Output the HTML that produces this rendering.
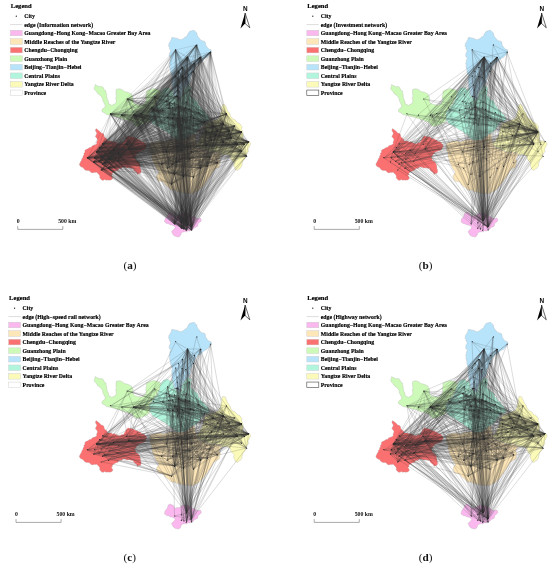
<!DOCTYPE html>
<html><head><meta charset="utf-8"><style>
html,body{margin:0;padding:0;background:#fff;}
svg{display:block;}
.lt{font-family:"Liberation Serif",serif;font-weight:bold;font-size:6.6px;fill:#000;stroke:#000;stroke-width:0.15px;}
.li{font-family:"Liberation Serif",serif;font-weight:bold;font-size:5.8px;fill:#000;stroke:#000;stroke-width:0.15px;}
.na{font-family:"Liberation Sans",sans-serif;font-weight:bold;font-size:6.4px;fill:#000;}
.sb{font-family:"Liberation Serif",serif;font-weight:bold;font-size:5.8px;fill:#111;}
.lab{font-family:"Liberation Serif",serif;font-size:11.2px;fill:#111;}
</style></head><body>
<svg width="550" height="567" viewBox="0 0 550 567">
<defs><g id="regions"><path d="M466.4,212.0 467.8,212.4 469.1,213.1 470.3,213.9 470.8,215.4 471.8,216.4 473.1,215.5 474.7,215.7 476.2,215.3 477.4,214.4 478.5,213.3 480.0,213.0 482.0,213.3 484.0,213.5 485.6,213.7 486.7,214.9 488.2,215.2 489.3,216.4 490.9,216.7 492.2,217.7 493.6,218.5 495.3,218.6 496.9,218.0 498.0,220.2 497.2,221.6 496.0,222.6 494.7,223.5 494.2,226.2 492.9,226.9 491.4,227.4 490.5,228.6 489.3,229.5 487.7,230.4 486.0,231.1 484.5,230.7 483.1,232.0 481.6,231.6 478.9,232.2 477.7,233.3 477.3,234.9 476.4,236.2 475.1,237.1 472.4,236.5 471.0,235.9 469.9,235.1 469.1,233.8 468.0,231.6 468.9,230.4 470.2,229.5 471.8,227.3 470.4,225.9 468.5,225.1 467.0,225.1 465.8,224.2 464.5,223.7 463.1,223.5 460.9,221.8 461.5,219.1 462.4,217.7 463.6,216.4 464.2,214.8 464.7,213.1Z" fill="#fab8ee" stroke="#aaa" stroke-width="0.3"/>
<path d="M447.3,142.7 448.8,142.0 450.6,142.4 451.9,141.0 453.6,141.0 455.1,141.4 456.6,140.8 458.1,141.2 459.5,142.2 461.0,141.8 462.2,141.0 463.8,141.1 465.0,140.4 466.4,140.0 467.8,139.9 469.3,140.0 470.7,139.6 472.2,140.4 473.6,140.0 475.1,139.5 476.6,139.7 478.0,139.4 479.5,139.7 481.0,140.0 482.2,139.2 483.7,138.9 484.7,137.6 486.0,137.0 486.8,135.7 488.1,134.8 489.8,134.4 490.5,133.0 491.4,134.3 491.1,135.9 491.7,137.2 491.7,138.8 492.5,140.1 492.4,141.6 493.0,143.0 493.4,144.5 493.7,146.0 494.9,146.9 496.0,147.9 497.5,148.3 499.0,149.1 500.7,149.4 502.0,150.5 503.6,150.4 504.9,151.8 506.5,151.6 508.0,152.0 509.5,151.6 511.0,152.5 512.5,152.1 514.0,152.0 515.4,153.0 516.8,153.9 518.5,154.2 517.9,155.6 517.0,156.8 516.0,158.0 515.8,159.5 517.0,160.9 516.8,162.4 516.0,163.9 516.2,165.8 515.2,167.3 513.8,167.9 512.6,168.7 511.2,169.3 510.3,170.6 509.1,171.6 508.6,173.0 508.1,174.5 507.0,175.5 506.5,177.0 505.3,177.9 504.5,179.2 503.7,180.4 503.3,181.9 501.7,182.6 501.3,184.1 500.5,185.3 499.2,186.2 498.5,187.7 497.2,188.6 496.1,189.7 495.1,190.7 493.6,191.2 492.3,191.8 490.8,192.9 489.0,193.5 487.4,193.6 485.8,193.6 484.1,193.1 482.5,193.5 481.0,192.6 479.2,193.0 477.6,192.3 476.0,191.8 474.3,191.8 472.7,190.8 471.2,190.0 469.4,190.2 467.5,189.7 466.0,188.6 465.2,187.3 463.7,186.6 462.8,185.3 461.3,184.6 460.8,182.9 459.5,182.0 457.8,181.6 456.1,181.3 454.6,180.4 453.7,178.7 453.0,177.0 453.5,175.3 454.6,173.8 455.5,172.2 454.2,170.6 453.0,169.0 452.1,167.4 451.4,165.6 450.5,164.0 449.7,162.4 449.0,160.8 448.9,159.0 448.1,157.5 447.9,155.9 448.1,154.2 447.6,152.6 446.9,151.0 446.5,149.3 446.8,147.7 446.4,146.1 446.4,144.5Z" fill="#fde6b8" stroke="#aaa" stroke-width="0.3"/>
<path d="M392.5,128.5 394.0,129.6 395.5,130.7 396.7,131.7 397.6,132.9 399.2,133.3 400.5,134.4 400.8,136.4 402.0,138.0 403.6,139.1 404.2,140.9 406.0,140.9 407.8,140.9 409.1,141.9 410.9,141.4 412.2,142.4 413.6,142.9 415.0,143.5 416.5,143.8 418.2,142.6 420.2,142.4 420.8,140.9 421.9,139.6 422.4,138.0 423.4,136.9 424.5,135.8 426.3,136.4 428.2,136.5 429.8,136.9 431.2,137.7 432.5,138.7 434.1,138.8 435.4,139.7 436.9,140.2 438.1,141.4 439.8,141.8 441.3,142.4 441.8,143.8 442.9,144.7 443.5,146.0 442.5,147.3 442.0,148.9 441.0,150.0 439.7,150.6 438.4,151.1 436.8,151.6 435.3,152.3 434.0,153.3 433.1,154.6 432.5,156.0 431.1,156.9 432.1,158.6 432.5,160.5 434.2,161.3 435.5,162.7 436.4,164.5 436.9,166.4 436.9,168.3 437.6,170.0 437.6,171.9 436.9,173.6 435.3,173.6 434.0,174.4 433.3,172.7 431.8,171.5 430.3,170.3 429.6,168.5 428.1,168.4 426.7,168.0 425.3,167.8 423.7,168.1 422.4,167.4 420.9,167.1 419.3,167.1 418.1,168.5 416.5,168.5 415.2,169.1 414.3,170.4 412.9,170.7 411.4,171.4 410.0,172.2 408.9,173.2 408.8,174.8 407.8,175.8 409.1,177.0 409.3,178.7 407.6,179.9 405.6,180.2 404.2,179.9 402.6,180.3 401.3,179.5 400.0,180.3 398.4,180.2 397.3,179.1 396.2,178.0 396.3,176.1 395.5,174.4 394.3,173.4 393.3,172.2 391.9,172.6 390.3,172.5 388.9,172.9 387.2,172.2 386.0,170.7 384.5,170.4 383.0,170.6 381.6,170.0 380.5,168.9 379.5,167.6 378.0,167.1 376.5,166.0 375.8,164.2 376.6,162.8 377.3,161.3 378.1,160.1 378.4,158.6 379.5,157.6 379.5,156.1 380.6,154.8 380.2,153.3 381.4,152.4 381.3,150.6 382.4,149.6 384.3,148.8 386.0,147.5 387.7,147.3 388.8,145.8 390.4,145.3 391.9,144.7 393.3,143.8 393.0,142.3 393.6,140.9 394.0,139.5 393.1,137.9 391.8,136.5 392.6,135.1 393.3,133.6 392.8,132.0 391.8,130.7Z" fill="#fb7070" stroke="#aaa" stroke-width="0.3"/>
<path d="M391.6,84.5 392.8,85.3 394.1,85.8 395.3,86.6 397.1,86.7 398.9,86.6 400.0,87.9 400.4,89.5 402.5,91.0 402.5,92.9 403.3,94.6 403.1,96.4 403.6,98.0 404.0,99.7 404.9,101.0 405.0,102.6 405.5,104.1 407.0,104.6 408.4,105.5 409.7,104.5 411.3,104.1 412.3,102.8 412.8,101.3 412.7,99.7 412.1,98.0 413.0,96.3 412.7,94.7 412.5,93.0 412.5,91.2 412.7,89.5 414.9,88.8 416.7,88.9 418.5,89.5 419.9,90.8 421.5,91.7 423.3,92.0 425.1,92.5 426.5,93.4 428.0,93.9 428.3,95.4 429.4,96.7 429.5,98.3 429.4,99.8 429.4,101.3 430.2,102.6 431.4,103.8 433.0,104.2 434.5,104.8 436.5,104.6 438.2,105.5 439.4,104.3 441.1,104.1 441.4,102.5 442.5,101.2 443.0,99.8 442.3,98.3 442.3,96.9 442.5,95.4 443.2,94.0 442.8,92.4 443.3,91.0 445.1,90.3 446.9,89.5 448.4,89.2 449.8,88.5 451.3,88.8 453.1,89.2 454.9,89.5 456.1,90.8 457.7,91.4 457.6,93.0 457.1,94.4 456.4,95.7 456.4,97.3 455.5,98.6 455.0,100.0 453.8,101.1 453.2,102.6 452.5,104.0 451.3,105.1 451.2,106.9 450.0,108.0 448.9,109.2 448.1,110.6 446.9,111.7 446.0,113.0 446.5,114.5 445.8,116.1 446.7,117.6 446.3,119.2 445.9,120.7 444.5,121.5 444.0,123.0 442.0,123.3 440.4,124.5 439.0,124.9 437.5,125.2 436.0,126.0 434.5,126.6 432.9,126.2 431.6,125.2 430.2,124.2 429.3,122.6 428.0,121.5 426.4,121.4 424.9,121.0 423.6,120.1 422.1,119.8 420.6,119.7 419.3,118.8 417.8,118.6 416.5,117.8 415.0,117.4 413.5,117.2 412.0,116.7 410.5,116.4 409.1,115.7 407.3,115.4 405.5,115.0 403.4,114.8 401.8,113.5 400.5,112.6 398.9,112.1 398.2,109.9 399.5,108.6 401.1,107.7 401.8,105.5 400.9,104.1 400.4,102.6 399.4,101.3 399.3,99.8 398.9,98.3 397.9,96.8 396.7,95.4 395.2,94.4 393.8,93.2 393.2,91.7 392.0,90.6 390.9,89.5 390.8,87.8 391.4,86.2Z" fill="#cdfab8" stroke="#aaa" stroke-width="0.3"/>
<path d="M487.4,31.0 489.0,30.6 490.7,30.3 492.0,31.7 493.4,33.0 493.6,35.1 494.7,36.9 495.6,38.0 496.5,39.1 497.4,40.2 499.3,40.9 501.3,41.5 502.0,43.1 502.0,44.9 502.9,46.0 503.6,47.2 504.6,48.2 505.5,49.3 507.2,49.5 508.0,50.8 507.3,53.5 505.3,55.4 504.3,56.5 503.4,57.6 502.0,58.1 500.7,58.7 499.7,59.7 498.7,60.7 497.3,62.2 495.4,62.7 494.0,63.5 493.5,65.0 492.3,66.1 491.9,67.6 491.4,69.0 490.3,70.5 489.9,72.3 488.6,73.6 488.5,75.3 487.4,76.7 486.8,78.2 487.0,80.1 486.6,81.9 485.9,83.6 484.9,85.0 483.9,86.5 482.3,87.3 481.4,88.8 480.5,90.3 479.5,91.8 478.7,93.3 478.6,95.0 478.0,96.6 477.7,98.2 476.8,99.4 475.9,100.5 474.7,99.2 473.2,98.2 471.8,96.9 470.5,95.5 469.9,94.1 470.3,92.4 469.9,90.9 469.4,89.4 468.6,88.0 468.8,86.2 468.4,84.5 468.6,82.7 468.3,81.3 468.3,79.8 468.1,78.4 468.9,76.9 468.6,75.5 467.6,73.7 466.8,71.8 467.0,69.8 466.3,68.0 465.9,66.5 466.4,64.9 465.6,63.4 466.4,61.8 466.3,60.0 467.6,58.1 466.1,57.1 465.6,55.4 466.0,53.3 467.0,51.5 467.0,50.0 466.0,48.9 466.0,47.3 465.0,46.2 465.3,44.8 465.4,43.4 466.3,42.2 467.1,40.7 467.9,39.3 468.2,37.6 470.2,37.6 472.2,38.2 473.7,38.2 474.9,38.9 476.2,39.6 477.7,39.7 479.0,39.0 480.2,38.2 481.6,36.9 483.5,36.3 484.0,34.5 485.0,33.0 485.9,31.6Z" fill="#b8e4fb" stroke="#aaa" stroke-width="0.3"/>
<path d="M457.7,91.4 458.5,90.2 459.5,89.2 460.2,88.0 462.3,87.8 464.3,87.3 465.9,88.4 466.8,90.0 468.6,88.0 469.5,89.4 469.5,91.0 470.0,92.4 469.8,94.1 470.5,95.5 471.7,97.0 473.2,98.2 474.5,99.4 475.9,100.5 476.9,99.4 477.7,98.2 478.3,96.7 478.2,94.9 479.0,93.4 479.5,91.8 480.1,90.1 481.8,89.1 482.3,87.3 483.4,86.0 485.0,85.5 486.1,86.7 487.7,87.3 488.1,88.8 487.3,90.3 487.6,91.8 487.5,93.3 486.9,94.8 487.2,96.3 488.8,96.8 490.1,97.8 490.8,99.6 492.4,100.2 493.7,101.2 494.8,102.3 494.5,104.1 495.2,105.3 496.8,106.2 497.0,107.7 498.3,108.9 499.8,109.8 500.8,111.2 501.9,112.6 502.8,113.9 504.3,114.8 504.8,116.4 506.0,117.5 506.1,119.3 505.2,120.8 503.7,121.7 501.8,121.6 500.3,122.5 499.6,123.8 498.7,125.0 497.7,126.1 497.0,127.4 495.9,128.8 494.9,130.2 493.7,131.5 492.3,132.8 490.5,133.0 489.2,133.8 487.9,134.6 486.7,135.6 486.0,137.0 484.6,137.6 483.6,138.6 482.3,139.4 481.0,140.0 479.5,139.8 478.0,139.8 476.6,140.5 475.1,140.3 473.6,140.0 472.0,139.2 470.7,138.1 469.2,137.2 468.4,135.8 467.0,135.0 465.9,133.9 464.4,133.5 463.7,131.9 462.2,131.5 461.0,130.6 459.8,129.8 458.3,129.3 457.2,128.3 456.0,127.4 454.6,126.8 453.6,125.8 451.9,125.8 450.8,124.6 449.5,124.0 448.4,123.0 448.1,121.5 446.6,120.7 446.3,119.2 446.0,117.7 446.0,116.1 446.2,114.5 446.0,113.0 446.6,111.4 448.0,110.5 448.7,109.0 450.0,108.0 450.6,106.5 451.6,105.3 453.0,104.3 453.3,102.7 454.6,101.6 455.0,100.0 455.1,98.4 456.4,97.3 456.2,95.7 456.4,94.2 457.5,92.9Z" fill="#b2f5dd" stroke="#aaa" stroke-width="0.3"/>
<path d="M518.9,104.4 520.5,104.5 522.0,105.1 522.4,106.8 523.3,108.3 523.7,109.7 524.2,111.0 525.2,112.1 526.2,113.4 526.8,114.9 527.1,116.5 528.4,117.5 529.0,119.0 530.7,119.3 532.2,120.3 532.9,121.8 534.1,122.9 535.6,123.1 536.7,124.1 537.6,125.4 538.6,126.7 537.9,129.2 538.9,130.3 539.2,131.8 539.7,133.7 539.8,135.6 539.6,137.5 539.2,139.4 540.3,140.4 541.7,140.7 543.3,141.1 544.9,141.3 546.8,142.6 547.1,144.3 546.2,145.7 545.5,147.4 544.3,148.9 545.0,150.4 544.9,152.1 543.6,153.1 543.0,154.6 542.3,156.1 542.4,157.8 540.5,159.7 539.5,160.8 539.2,162.3 538.5,164.1 538.6,166.1 537.4,167.2 536.7,168.6 535.1,169.1 534.1,170.5 531.6,169.3 531.3,167.6 530.3,166.1 530.3,164.4 530.9,162.9 529.0,161.0 527.1,159.1 527.2,157.4 526.5,155.9 524.9,155.3 523.3,154.6 521.6,154.5 520.0,155.0 518.5,154.2 517.0,153.4 515.5,152.8 514.0,152.0 512.5,152.2 511.0,152.1 509.5,152.2 508.0,152.0 506.4,152.1 505.1,150.9 503.6,150.5 502.0,150.5 500.8,149.2 499.1,148.8 497.5,148.3 496.3,147.5 495.1,146.5 493.7,146.0 492.9,144.6 493.0,143.0 494.2,142.2 495.0,141.0 496.0,140.0 496.5,138.3 497.4,136.8 498.5,135.5 499.0,133.7 499.5,131.8 499.8,129.2 500.2,127.2 501.1,125.4 502.3,124.1 503.6,122.9 505.5,122.4 507.4,121.6 509.3,120.8 511.2,120.3 513.0,119.2 515.0,119.0 515.7,117.7 516.1,116.3 517.0,115.2 517.1,113.5 517.4,111.8 518.2,110.2 518.2,108.7 518.0,107.2 518.9,105.9Z" fill="#fbfab8" stroke="#aaa" stroke-width="0.3"/></g></defs>
<rect width="550" height="567" fill="#fff"/>
<g transform="translate(0.0,0)"><text x="10.8" y="8.3" class="lt">Legend</text>
<circle cx="16.3" cy="16.2" r="0.6" fill="#000"/>
<text x="24.3" y="18.2" class="li">City</text>
<line x1="10.2" y1="24.6" x2="22.3" y2="24.6" stroke="#bbb" stroke-width="0.5"/>
<text x="24.3" y="26.6" class="li">edge (Information network)</text>
<rect x="10.3" y="30.20" width="12" height="5.6" fill="#fab8ee" stroke="#c8c8c8" stroke-width="0.4"/>
<text x="24.3" y="34.9" class="li">Guangdong−Hong Kong−Macao Greater Bay Area</text>
<rect x="10.3" y="38.75" width="12" height="5.6" fill="#fde6b8" stroke="#c8c8c8" stroke-width="0.4"/>
<text x="24.3" y="43.5" class="li">Middle Reaches of the Yangtze River</text>
<rect x="10.3" y="47.30" width="12" height="5.6" fill="#fb7070" stroke="#c8c8c8" stroke-width="0.4"/>
<text x="24.3" y="52.0" class="li">Chengdu−Chongqing</text>
<rect x="10.3" y="55.85" width="12" height="5.6" fill="#cdfab8" stroke="#c8c8c8" stroke-width="0.4"/>
<text x="24.3" y="60.6" class="li">Guanzhong Plain</text>
<rect x="10.3" y="64.40" width="12" height="5.6" fill="#b8e4fb" stroke="#c8c8c8" stroke-width="0.4"/>
<text x="24.3" y="69.1" class="li">Beijing−Tianjin−Hebei</text>
<rect x="10.3" y="72.95" width="12" height="5.6" fill="#b2f5dd" stroke="#c8c8c8" stroke-width="0.4"/>
<text x="24.3" y="77.7" class="li">Central Plains</text>
<rect x="10.3" y="81.50" width="12" height="5.6" fill="#fbfab8" stroke="#c8c8c8" stroke-width="0.4"/>
<text x="24.3" y="86.2" class="li">Yangtze River Delta</text>
<rect x="10.3" y="90.05" width="12" height="5.6" fill="#ffffff" stroke="#c8c8c8" stroke-width="0.4"/>
<text x="24.3" y="94.8" class="li">Province</text>
<g transform="translate(0,0)">
<text x="243" y="11.1" class="na">N</text>
<path d="M245.1,13 L240.5,28.4 L245.1,23.5 Z" fill="#000"/>
<path d="M245.1,13 L249.8,27.8 L245.1,23.5 Z" fill="none" stroke="#000" stroke-width="0.6"/>
</g>
<g transform="translate(0,0)">
<text x="16.7" y="222.5" class="sb">0</text>
<text x="58.2" y="222.5" class="sb">500 km</text>
<path d="M17.7,226.1 V229.4 H62.8 V226.1" fill="none" stroke="#555" stroke-width="0.5"/>
</g></g>
<g transform="translate(-296.5,0)">
<use href="#regions"/>
<g fill="none" stroke="#333" stroke-width="0.35" stroke-opacity="0.36">
<path d="M396 148L398 170"/><path d="M507 52L464 118"/><path d="M474 90L503 145"/><path d="M458 164L526 131"/><path d="M473 162L545 142"/><path d="M503 132L488 230"/><path d="M507 52L469 164"/><path d="M471 224L483 230"/><path d="M393 152L415 153"/><path d="M451 97L474 96"/><path d="M490 71L486 159"/><path d="M451 97L510 126"/><path d="M497 57L491 63"/><path d="M497 168L483 230"/><path d="M423 144L407 114"/><path d="M396 148L514 163"/><path d="M474 118L484 225"/><path d="M384 158L398 157"/><path d="M484 57L482 108"/><path d="M474 118L483 221"/><path d="M468 184L486 159"/><path d="M393 152L484 57"/><path d="M451 97L545 142"/><path d="M534 144L543 156"/><path d="M464 168L520 142"/><path d="M418 115L538 132"/><path d="M475 71L520 142"/><path d="M464 168L510 126"/><path d="M472 50L474 85"/><path d="M472 50L469 164"/><path d="M484 57L484 147"/><path d="M393 152L464 95"/><path d="M479 76L490 71"/><path d="M479 76L488 227"/><path d="M526 131L503 132"/><path d="M399 144L534 144"/><path d="M488 152L506 157"/><path d="M473 162L520 124"/><path d="M474 118L538 132"/><path d="M393 152L514 131"/><path d="M384 158L528 138"/><path d="M406 153L401 163"/><path d="M531 126L526 131"/><path d="M396 148L484 57"/><path d="M497 57L490 118"/><path d="M531 126L471 224"/><path d="M475 107L480 176"/><path d="M410 150L473 96"/><path d="M424 99L545 142"/><path d="M497 168L528 138"/><path d="M425 149L531 126"/><path d="M538 132L512 136"/><path d="M432 116L508 140"/><path d="M432 116L488 227"/><path d="M414 161L543 156"/><path d="M405 168L512 136"/><path d="M514 163L543 156"/><path d="M482 108L469 118"/><path d="M448 108L480 229"/><path d="M473 96L503 132"/><path d="M463 152L510 126"/><path d="M473 96L523 114"/><path d="M415 153L390 162"/><path d="M384 158L459 110"/><path d="M520 142L480 229"/><path d="M401 163L538 132"/><path d="M448 108L538 132"/><path d="M401 163L430 115"/><path d="M425 149L508 140"/><path d="M390 162L507 52"/><path d="M384 158L484 57"/><path d="M482 77L463 101"/><path d="M482 77L488 230"/><path d="M407 114L471 103"/><path d="M450 110L484 225"/><path d="M399 144L414 161"/><path d="M406 159L545 142"/><path d="M508 140L520 142"/><path d="M473 162L528 138"/><path d="M398 157L466 104"/><path d="M507 52L478 228"/><path d="M390 162L475 71"/><path d="M396 161L424 99"/><path d="M450 110L478 223"/><path d="M471 174L488 227"/><path d="M391 158L501 122"/><path d="M396 148L484 147"/><path d="M497 57L520 142"/><path d="M406 159L483 221"/><path d="M406 153L415 153"/><path d="M406 159L480 229"/><path d="M414 161L425 149"/><path d="M490 71L508 140"/><path d="M490 71L510 126"/><path d="M483 102L488 152"/><path d="M399 164L479 118"/><path d="M396 161L471 103"/><path d="M430 115L437 114"/><path d="M497 168L510 126"/><path d="M410 150L474 96"/><path d="M458 164L543 156"/><path d="M393 152L534 144"/><path d="M479 118L508 140"/><path d="M448 108L469 108"/><path d="M458 164L534 144"/><path d="M471 174L483 221"/><path d="M510 126L471 224"/><path d="M423 144L469 164"/><path d="M506 157L520 124"/><path d="M391 158L488 152"/><path d="M405 168L474 96"/><path d="M503 145L484 225"/><path d="M534 144L471 224"/><path d="M418 115L463 152"/><path d="M545 142L488 230"/><path d="M472 50L514 131"/><path d="M393 152L480 229"/><path d="M464 95L531 126"/><path d="M399 144L501 122"/><path d="M390 162L538 132"/><path d="M406 159L483 230"/><path d="M473 96L510 126"/><path d="M425 149L497 168"/><path d="M486 90L480 176"/><path d="M464 95L488 227"/><path d="M401 163L478 223"/><path d="M507 52L526 131"/><path d="M406 153L396 161"/><path d="M528 138L545 142"/><path d="M437 114L497 168"/><path d="M482 77L464 95"/><path d="M406 159L482 108"/><path d="M410 150L484 225"/><path d="M432 116L465 108"/><path d="M493 45L475 107"/><path d="M437 114L543 156"/><path d="M495 113L545 142"/><path d="M418 115L475 107"/><path d="M396 161L405 168"/><path d="M423 144L475 107"/><path d="M401 163L475 107"/><path d="M473 96L478 150"/><path d="M471 174L468 184"/><path d="M464 168L512 136"/><path d="M393 152L463 101"/><path d="M451 97L482 77"/><path d="M478 150L488 227"/><path d="M448 108L545 142"/><path d="M484 147L541 144"/><path d="M503 132L520 142"/><path d="M469 108L483 230"/><path d="M480 176L478 228"/><path d="M393 152L418 115"/><path d="M396 148L483 221"/><path d="M405 168L398 170"/><path d="M415 153L424 99"/><path d="M507 52L503 145"/><path d="M520 142L471 224"/><path d="M464 168L469 164"/><path d="M406 153L472 76"/><path d="M479 76L468 184"/><path d="M490 118L526 131"/><path d="M510 126L528 138"/><path d="M396 161L414 161"/><path d="M425 149L488 230"/><path d="M396 161L450 110"/><path d="M473 96L526 131"/><path d="M450 110L538 151"/><path d="M526 131L512 136"/><path d="M398 157L463 152"/><path d="M424 99L464 95"/><path d="M531 126L488 227"/><path d="M471 114L510 126"/><path d="M497 57L497 168"/><path d="M468 184L541 144"/><path d="M486 159L474 146"/><path d="M401 163L501 122"/><path d="M425 149L487 117"/><path d="M473 96L490 71"/><path d="M384 158L405 168"/><path d="M398 170L430 115"/><path d="M384 158L488 227"/><path d="M471 103L474 124"/><path d="M520 124L528 138"/><path d="M523 114L503 132"/><path d="M510 126L488 227"/><path d="M497 168L508 140"/><path d="M464 168L483 221"/><path d="M503 132L478 228"/><path d="M432 116L437 114"/><path d="M531 126L503 145"/><path d="M497 168L514 131"/><path d="M486 109L520 124"/><path d="M479 118L473 162"/><path d="M398 157L437 114"/><path d="M506 157L538 132"/><path d="M423 144L479 67"/><path d="M391 158L478 125"/><path d="M396 161L479 67"/><path d="M398 157L480 229"/><path d="M471 114L478 125"/><path d="M491 63L508 140"/><path d="M407 114L475 107"/><path d="M430 115L514 163"/><path d="M514 131L483 230"/><path d="M468 184L510 126"/><path d="M507 52L508 140"/><path d="M474 118L464 118"/><path d="M471 174L506 157"/><path d="M410 150L448 108"/><path d="M538 132L543 156"/><path d="M523 114L508 140"/><path d="M479 67L475 107"/><path d="M398 170L451 97"/><path d="M491 63L474 96"/><path d="M538 132L471 224"/><path d="M450 110L488 230"/><path d="M474 118L520 124"/><path d="M425 149L483 221"/><path d="M424 99L490 177"/><path d="M401 163L432 116"/><path d="M531 126L483 221"/><path d="M493 45L503 145"/><path d="M393 152L401 163"/><path d="M497 57L512 136"/><path d="M396 161L473 96"/><path d="M465 108L478 125"/><path d="M424 99L520 142"/><path d="M406 159L465 108"/><path d="M490 71L528 138"/><path d="M487 117L471 174"/><path d="M437 114L484 57"/><path d="M430 115L478 150"/><path d="M482 77L490 71"/><path d="M528 138L483 221"/><path d="M484 147L478 223"/><path d="M503 145L483 230"/><path d="M410 150L474 146"/><path d="M451 97L484 57"/><path d="M393 152L486 90"/><path d="M424 99L514 131"/><path d="M430 115L486 159"/><path d="M479 76L520 142"/><path d="M398 170L497 57"/><path d="M391 158L479 76"/><path d="M396 148L463 152"/><path d="M451 97L528 138"/><path d="M415 153L493 45"/><path d="M531 126L483 230"/><path d="M538 151L483 230"/><path d="M506 157L534 144"/><path d="M425 149L503 132"/><path d="M497 168L543 156"/><path d="M474 124L538 132"/><path d="M430 115L472 50"/><path d="M399 144L493 45"/><path d="M396 148L406 159"/><path d="M478 150L503 145"/><path d="M506 157L478 228"/><path d="M482 108L471 114"/><path d="M398 157L398 170"/><path d="M468 184L474 146"/><path d="M541 144L478 228"/><path d="M401 163L484 147"/><path d="M479 67L510 126"/><path d="M415 153L531 126"/><path d="M503 145L545 142"/><path d="M430 115L545 142"/><path d="M474 96L534 144"/><path d="M414 161L478 228"/><path d="M475 107L503 132"/><path d="M399 144L425 149"/><path d="M398 157L406 153"/><path d="M424 99L448 108"/><path d="M410 150L406 159"/><path d="M486 159L538 132"/><path d="M423 144L464 95"/><path d="M396 161L510 126"/><path d="M393 152L478 228"/><path d="M508 140L471 224"/><path d="M488 227L488 230"/><path d="M479 118L488 227"/><path d="M474 90L473 162"/><path d="M479 76L510 126"/><path d="M472 50L471 174"/><path d="M486 159L531 126"/><path d="M486 109L488 227"/><path d="M398 170L425 149"/><path d="M484 147L471 224"/><path d="M393 152L471 114"/><path d="M490 71L520 142"/><path d="M474 85L503 145"/><path d="M464 168L526 131"/><path d="M384 158L437 114"/><path d="M437 114L474 124"/><path d="M478 150L514 163"/><path d="M398 170L538 132"/><path d="M512 136L543 156"/><path d="M390 162L471 174"/><path d="M491 63L479 67"/><path d="M415 153L541 144"/><path d="M399 144L512 136"/><path d="M474 85L479 118"/><path d="M463 101L520 124"/><path d="M410 150L415 153"/><path d="M396 161L475 71"/><path d="M464 95L480 176"/><path d="M493 45L504 166"/><path d="M463 152L538 132"/><path d="M469 118L484 147"/><path d="M490 177L483 221"/><path d="M493 45L512 136"/><path d="M405 168L448 108"/><path d="M490 177L471 224"/><path d="M471 103L474 118"/><path d="M391 158L538 151"/><path d="M482 77L480 229"/><path d="M393 152L503 145"/><path d="M425 149L538 132"/><path d="M406 153L493 45"/><path d="M399 164L484 225"/><path d="M468 184L526 131"/><path d="M479 76L486 109"/><path d="M432 116L473 162"/><path d="M407 114L484 225"/><path d="M425 149L480 229"/><path d="M424 99L538 132"/><path d="M398 157L475 71"/><path d="M464 168L506 157"/><path d="M398 157L508 140"/><path d="M437 114L471 174"/><path d="M463 152L545 142"/><path d="M458 164L504 166"/><path d="M430 115L497 57"/><path d="M475 71L512 136"/><path d="M538 132L541 144"/><path d="M458 164L483 221"/><path d="M437 114L491 63"/><path d="M484 57L463 152"/><path d="M510 126L483 221"/><path d="M484 57L488 152"/><path d="M414 161L504 166"/><path d="M396 148L425 149"/><path d="M437 114L464 95"/><path d="M512 136L478 223"/><path d="M423 144L473 162"/><path d="M393 152L493 45"/><path d="M393 152L538 132"/><path d="M474 118L484 147"/><path d="M472 50L475 107"/><path d="M474 90L526 131"/><path d="M510 126L541 144"/><path d="M487 117L526 131"/><path d="M458 164L514 163"/><path d="M474 96L506 157"/><path d="M483 230L488 227"/><path d="M491 63L478 150"/><path d="M401 163L398 170"/><path d="M474 96L480 176"/><path d="M469 108L538 132"/><path d="M487 117L510 126"/><path d="M398 170L514 131"/><path d="M478 125L471 224"/><path d="M405 168L474 90"/><path d="M425 149L490 177"/><path d="M405 168L503 145"/><path d="M469 164L488 152"/><path d="M472 76L510 126"/><path d="M472 76L488 152"/><path d="M466 104L480 176"/><path d="M479 67L473 96"/><path d="M451 97L507 52"/><path d="M501 122L474 146"/><path d="M479 67L523 114"/><path d="M451 97L488 152"/><path d="M401 163L488 230"/><path d="M398 170L488 227"/><path d="M508 140L488 227"/><path d="M430 115L474 85"/><path d="M398 157L488 230"/><path d="M520 124L488 230"/><path d="M406 153L514 131"/><path d="M463 152L506 157"/><path d="M414 161L541 144"/><path d="M384 158L474 124"/><path d="M473 162L523 114"/><path d="M486 159L512 136"/><path d="M393 152L475 107"/><path d="M541 144L488 227"/><path d="M406 153L478 228"/><path d="M432 116L545 142"/><path d="M503 145L480 229"/><path d="M528 138L483 230"/><path d="M396 148L478 150"/><path d="M526 131L543 156"/><path d="M497 57L480 229"/><path d="M406 153L418 115"/><path d="M483 102L483 221"/><path d="M474 85L508 140"/><path d="M414 161L424 99"/><path d="M430 115L472 76"/><path d="M484 147L490 177"/><path d="M450 110L479 67"/><path d="M398 157L415 153"/><path d="M406 153L448 108"/><path d="M396 161L471 224"/><path d="M497 57L471 224"/><path d="M393 152L468 184"/><path d="M486 109L545 142"/><path d="M430 115L469 118"/><path d="M398 157L484 225"/><path d="M415 153L396 161"/><path d="M475 71L480 229"/><path d="M531 126L508 140"/><path d="M450 110L523 114"/><path d="M401 163L538 151"/><path d="M410 150L510 126"/><path d="M425 149L478 150"/><path d="M450 110L471 174"/><path d="M398 170L464 118"/><path d="M424 99L488 230"/><path d="M491 63L483 221"/><path d="M425 149L514 131"/><path d="M451 97L531 126"/><path d="M474 85L512 136"/><path d="M448 108L486 159"/><path d="M406 159L479 67"/><path d="M401 163L473 162"/><path d="M425 149L510 126"/><path d="M501 122L541 144"/><path d="M424 99L473 96"/><path d="M391 158L484 147"/><path d="M503 145L528 138"/><path d="M393 152L478 223"/><path d="M501 122L514 131"/><path d="M398 157L425 149"/><path d="M503 145L471 224"/><path d="M399 164L448 108"/><path d="M475 107L483 230"/><path d="M463 152L514 163"/><path d="M415 153L474 96"/><path d="M405 168L478 228"/><path d="M486 109L468 184"/><path d="M484 57L483 230"/><path d="M474 146L488 230"/><path d="M396 148L520 124"/><path d="M469 118L545 142"/><path d="M391 158L497 168"/><path d="M425 149L475 71"/><path d="M399 144L474 124"/><path d="M406 153L497 57"/><path d="M490 177L483 230"/><path d="M390 162L464 168"/><path d="M448 108L497 57"/><path d="M507 52L514 163"/><path d="M488 152L486 159"/><path d="M507 52L510 126"/><path d="M384 158L526 131"/><path d="M396 148L478 228"/><path d="M384 158L506 157"/><path d="M483 102L464 118"/><path d="M514 131L528 138"/><path d="M396 161L474 96"/><path d="M418 115L474 146"/><path d="M424 99L451 97"/><path d="M399 164L538 132"/><path d="M458 164L510 126"/><path d="M486 109L534 144"/><path d="M503 145L534 144"/><path d="M425 149L471 224"/><path d="M497 57L528 138"/><path d="M399 164L520 124"/><path d="M490 118L545 142"/><path d="M534 144L483 230"/><path d="M424 99L450 110"/><path d="M418 115L497 168"/><path d="M483 221L480 229"/><path d="M425 149L523 114"/><path d="M474 85L480 229"/><path d="M405 168L488 230"/><path d="M406 159L510 126"/><path d="M523 114L545 142"/><path d="M390 162L469 118"/><path d="M514 131L503 145"/><path d="M458 164L484 225"/><path d="M474 124L538 151"/><path d="M450 110L538 132"/><path d="M407 114L504 166"/><path d="M474 90L512 136"/><path d="M473 96L488 227"/><path d="M399 164L405 168"/><path d="M484 57L490 71"/><path d="M484 147L508 140"/><path d="M424 99L503 145"/><path d="M526 131L538 151"/><path d="M480 176L541 144"/><path d="M398 157L396 161"/><path d="M474 146L480 229"/><path d="M484 57L475 71"/><path d="M393 152L483 221"/><path d="M474 146L534 144"/><path d="M437 114L472 76"/><path d="M482 77L503 145"/><path d="M507 52L488 227"/><path d="M531 126L545 142"/><path d="M480 229L488 227"/><path d="M424 99L407 114"/><path d="M391 158L478 223"/><path d="M396 161L486 90"/><path d="M486 159L483 221"/><path d="M424 99L432 116"/><path d="M396 148L474 118"/><path d="M451 97L450 110"/><path d="M475 107L526 131"/><path d="M479 67L480 229"/><path d="M486 159L488 227"/><path d="M469 108L523 114"/><path d="M425 149L473 96"/><path d="M425 149L484 225"/><path d="M423 144L523 114"/><path d="M396 161L483 221"/><path d="M484 57L482 77"/><path d="M407 114L472 50"/><path d="M507 52L523 114"/><path d="M390 162L474 90"/><path d="M414 161L484 225"/><path d="M507 52L479 67"/><path d="M450 110L472 50"/><path d="M507 52L528 138"/><path d="M474 118L463 152"/><path d="M407 114L488 227"/><path d="M432 116L486 90"/><path d="M398 157L478 228"/><path d="M399 144L478 125"/><path d="M384 158L483 230"/><path d="M399 164L432 116"/><path d="M497 168L534 144"/><path d="M474 90L523 114"/><path d="M451 97L495 113"/><path d="M384 158L414 161"/><path d="M474 124L503 145"/><path d="M495 113L520 124"/><path d="M407 114L484 57"/><path d="M469 108L483 221"/><path d="M406 159L520 124"/><path d="M531 126L484 225"/><path d="M393 152L512 136"/><path d="M415 153L538 132"/><path d="M538 132L483 230"/><path d="M474 85L488 152"/><path d="M514 131L488 227"/><path d="M541 144L538 151"/><path d="M451 97L486 90"/><path d="M432 116L464 168"/><path d="M493 45L520 124"/><path d="M510 126L483 230"/><path d="M432 116L523 114"/><path d="M464 118L488 227"/><path d="M474 124L504 166"/><path d="M430 115L474 118"/><path d="M437 114L508 140"/><path d="M423 144L414 161"/><path d="M473 162L483 221"/><path d="M399 164L430 115"/><path d="M478 150L474 146"/><path d="M450 110L528 138"/><path d="M430 115L507 52"/><path d="M418 115L471 174"/><path d="M464 118L484 225"/><path d="M405 168L520 124"/><path d="M474 118L534 144"/><path d="M396 148L491 63"/><path d="M425 149L504 166"/><path d="M474 85L488 227"/><path d="M425 149L512 136"/><path d="M458 164L520 124"/><path d="M391 158L423 144"/><path d="M526 131L484 225"/><path d="M430 115L543 156"/><path d="M405 168L480 229"/><path d="M478 228L488 230"/><path d="M484 147L514 163"/><path d="M425 149L497 57"/><path d="M425 149L474 85"/><path d="M463 152L538 151"/><path d="M531 126L478 228"/><path d="M484 57L471 224"/><path d="M493 45L520 142"/><path d="M423 144L507 52"/><path d="M491 63L471 224"/><path d="M393 152L504 166"/><path d="M425 149L466 104"/><path d="M538 132L503 132"/><path d="M396 148L488 227"/><path d="M490 177L503 132"/><path d="M512 136L508 140"/><path d="M425 149L478 228"/><path d="M437 114L451 97"/><path d="M474 118L478 125"/><path d="M468 184L534 144"/><path d="M497 168L520 124"/><path d="M432 116L503 145"/><path d="M504 166L520 142"/><path d="M479 67L479 76"/><path d="M396 148L432 116"/><path d="M418 115L491 63"/><path d="M423 144L493 45"/><path d="M474 85L520 142"/><path d="M391 158L471 224"/><path d="M474 85L514 131"/><path d="M472 50L520 124"/><path d="M405 168L473 162"/><path d="M471 114L543 156"/><path d="M497 57L526 131"/><path d="M474 118L523 114"/><path d="M484 57L474 90"/><path d="M507 52L486 90"/><path d="M405 168L514 163"/><path d="M384 158L507 52"/><path d="M405 168L430 115"/><path d="M474 146L520 142"/><path d="M410 150L401 163"/><path d="M484 57L480 229"/><path d="M393 152L424 99"/><path d="M406 159L514 163"/><path d="M538 132L483 221"/><path d="M493 45L484 147"/><path d="M493 45L480 229"/><path d="M479 76L484 147"/><path d="M488 227L484 225"/><path d="M490 71L478 228"/><path d="M463 101L474 124"/><path d="M538 151L478 228"/><path d="M396 148L472 76"/><path d="M391 158L475 107"/><path d="M399 144L478 228"/><path d="M430 115L538 132"/><path d="M401 163L483 221"/><path d="M423 144L478 228"/><path d="M390 162L512 136"/><path d="M406 153L484 225"/><path d="M418 115L488 152"/><path d="M390 162L483 221"/><path d="M474 96L488 230"/><path d="M475 71L478 223"/><path d="M396 148L534 144"/><path d="M410 150L483 221"/><path d="M448 108L474 96"/><path d="M497 168L483 221"/><path d="M405 168L464 168"/><path d="M475 71L474 146"/><path d="M406 159L491 63"/><path d="M538 151L488 230"/><path d="M451 97L486 109"/><path d="M483 221L484 225"/><path d="M398 170L472 76"/><path d="M384 158L484 225"/><path d="M491 63L474 118"/><path d="M398 170L483 102"/><path d="M483 102L474 146"/><path d="M410 150L484 147"/><path d="M490 177L510 126"/><path d="M458 164L471 224"/><path d="M398 170L503 132"/><path d="M407 114L483 221"/><path d="M410 150L541 144"/><path d="M471 174L520 124"/><path d="M415 153L503 145"/><path d="M418 115L448 108"/><path d="M497 168L526 131"/><path d="M437 114L466 104"/><path d="M480 176L528 138"/><path d="M415 153L471 174"/><path d="M384 158L398 170"/><path d="M396 148L520 142"/><path d="M469 118L528 138"/><path d="M506 157L526 131"/><path d="M458 164L488 227"/><path d="M405 168L469 118"/><path d="M520 142L483 221"/><path d="M479 76L478 228"/><path d="M491 63L510 126"/><path d="M507 52L471 224"/><path d="M425 149L459 110"/><path d="M430 115L484 225"/><path d="M425 149L483 230"/><path d="M396 161L399 164"/><path d="M463 101L458 164"/><path d="M399 164L478 228"/><path d="M405 168L483 221"/><path d="M479 67L474 85"/><path d="M475 71L474 90"/><path d="M471 174L545 142"/><path d="M469 118L503 145"/><path d="M410 150L478 125"/><path d="M512 136L488 230"/><path d="M393 152L406 159"/><path d="M424 99L526 131"/><path d="M497 57L471 174"/><path d="M415 153L401 163"/><path d="M393 152L472 76"/><path d="M531 126L528 138"/><path d="M406 159L484 57"/><path d="M451 97L448 108"/><path d="M437 114L512 136"/><path d="M398 157L491 63"/><path d="M410 150L480 176"/><path d="M469 164L484 147"/><path d="M430 115L484 57"/><path d="M448 108L488 227"/><path d="M493 45L526 131"/><path d="M474 118L480 176"/><path d="M475 107L474 118"/><path d="M406 153L405 168"/><path d="M474 90L514 131"/><path d="M472 76L466 104"/><path d="M478 125L488 227"/><path d="M410 150L478 228"/><path d="M468 184L473 162"/><path d="M399 144L471 114"/><path d="M490 118L464 168"/><path d="M507 52L514 131"/><path d="M507 52L490 71"/><path d="M406 153L486 90"/><path d="M465 108L514 131"/><path d="M393 152L483 230"/><path d="M410 150L396 161"/><path d="M414 161L490 71"/><path d="M430 115L471 174"/><path d="M450 110L484 57"/><path d="M430 115L479 118"/><path d="M414 161L464 168"/><path d="M437 114L483 221"/><path d="M504 166L503 145"/><path d="M503 145L483 221"/><path d="M393 152L478 125"/><path d="M486 159L545 142"/><path d="M479 118L506 157"/><path d="M451 97L484 225"/><path d="M448 108L484 225"/><path d="M398 170L484 225"/><path d="M484 57L503 132"/><path d="M475 71L474 118"/><path d="M398 170L483 221"/><path d="M483 102L471 174"/><path d="M482 108L488 230"/><path d="M478 125L484 147"/><path d="M507 52L520 124"/><path d="M469 118L520 124"/><path d="M396 161L514 131"/><path d="M451 97L464 95"/><path d="M437 114L478 150"/><path d="M396 161L425 149"/><path d="M406 153L484 57"/><path d="M473 96L488 152"/><path d="M480 229L484 225"/><path d="M484 57L483 221"/><path d="M501 122L458 164"/><path d="M504 166L538 132"/><path d="M490 71L458 164"/><path d="M398 157L401 163"/><path d="M528 138L541 144"/><path d="M437 114L484 225"/><path d="M384 158L520 124"/><path d="M493 45L497 57"/><path d="M406 159L474 90"/><path d="M399 164L534 144"/><path d="M514 163L478 228"/><path d="M482 77L514 131"/><path d="M384 158L458 164"/><path d="M425 149L526 131"/><path d="M415 153L488 227"/><path d="M478 125L497 168"/><path d="M437 114L545 142"/><path d="M432 116L474 118"/><path d="M405 168L475 71"/><path d="M475 107L478 223"/><path d="M391 158L493 45"/><path d="M478 150L484 147"/><path d="M483 221L488 227"/><path d="M451 97L472 50"/><path d="M534 144L484 225"/><path d="M463 152L514 131"/><path d="M399 144L398 157"/><path d="M503 132L483 230"/><path d="M406 153L469 164"/><path d="M415 153L504 166"/><path d="M384 158L480 229"/><path d="M393 152L508 140"/><path d="M437 114L482 108"/><path d="M391 158L464 118"/><path d="M491 63L512 136"/><path d="M478 150L538 132"/><path d="M410 150L523 114"/><path d="M472 76L483 230"/><path d="M471 114L545 142"/><path d="M425 149L468 184"/><path d="M514 163L520 124"/><path d="M437 114L474 146"/><path d="M399 164L488 227"/><path d="M484 57L473 162"/><path d="M448 108L538 151"/><path d="M463 101L528 138"/><path d="M497 57L468 184"/><path d="M414 161L474 85"/><path d="M512 136L545 142"/><path d="M398 170L478 223"/><path d="M414 161L484 147"/><path d="M474 90L528 138"/><path d="M503 145L520 142"/><path d="M401 163L474 90"/><path d="M478 150L510 126"/><path d="M488 152L483 221"/><path d="M414 161L490 177"/><path d="M415 153L479 76"/><path d="M398 157L448 108"/><path d="M478 125L483 221"/><path d="M482 77L512 136"/><path d="M468 184L520 124"/><path d="M451 97L503 132"/><path d="M474 146L510 126"/><path d="M469 164L483 221"/><path d="M391 158L432 116"/><path d="M425 149L534 144"/><path d="M406 159L451 97"/><path d="M393 152L396 161"/><path d="M450 110L473 162"/><path d="M472 50L491 63"/><path d="M424 99L479 67"/><path d="M458 164L464 168"/><path d="M490 177L512 136"/><path d="M487 117L508 140"/><path d="M497 57L479 76"/><path d="M410 150L480 229"/><path d="M493 45L478 223"/><path d="M414 161L472 76"/><path d="M478 150L520 124"/><path d="M424 99L430 115"/><path d="M482 77L503 132"/><path d="M479 67L458 164"/><path d="M486 90L483 221"/><path d="M425 149L493 45"/><path d="M423 144L495 113"/><path d="M451 97L508 140"/><path d="M384 158L471 103"/><path d="M473 162L480 176"/><path d="M471 174L514 163"/><path d="M523 114L483 230"/><path d="M414 161L474 90"/><path d="M458 164L538 132"/><path d="M423 144L491 63"/><path d="M510 126L538 151"/><path d="M425 149L474 146"/><path d="M432 116L490 118"/><path d="M390 162L463 152"/><path d="M469 164L486 159"/><path d="M430 115L474 96"/><path d="M510 126L503 145"/><path d="M399 164L464 95"/><path d="M475 71L506 157"/><path d="M469 164L510 126"/><path d="M414 161L475 71"/><path d="M406 153L486 159"/><path d="M466 104L464 168"/><path d="M484 57L471 114"/><path d="M398 170L538 151"/><path d="M399 144L475 107"/><path d="M475 71L488 230"/><path d="M399 144L406 153"/><path d="M464 168L514 163"/><path d="M393 152L510 126"/><path d="M464 168L514 131"/><path d="M410 150L478 150"/><path d="M473 162L531 126"/><path d="M414 161L497 57"/><path d="M538 132L545 142"/><path d="M491 63L480 176"/><path d="M398 157L490 71"/><path d="M391 158L399 164"/><path d="M471 174L538 132"/><path d="M473 162L541 144"/><path d="M407 114L538 151"/><path d="M396 148L471 174"/><path d="M514 163L538 132"/><path d="M468 184L545 142"/><path d="M463 152L468 184"/><path d="M474 90L504 166"/><path d="M410 150L430 115"/><path d="M538 151L480 229"/><path d="M523 114L520 142"/><path d="M474 90L503 132"/><path d="M401 163L474 124"/><path d="M393 152L474 146"/><path d="M512 136L528 138"/><path d="M430 115L463 152"/><path d="M493 45L487 117"/><path d="M526 131L510 126"/><path d="M458 164L520 142"/><path d="M423 144L459 110"/><path d="M543 156L545 142"/><path d="M538 151L520 142"/><path d="M390 162L471 224"/><path d="M399 164L451 97"/><path d="M468 184L480 176"/><path d="M393 152L497 168"/><path d="M398 170L545 142"/><path d="M465 108L463 152"/><path d="M430 115L510 126"/><path d="M468 184L520 142"/><path d="M407 114L474 96"/><path d="M410 150L484 57"/><path d="M474 85L482 108"/><path d="M484 147L480 176"/><path d="M393 152L475 71"/><path d="M430 115L483 230"/><path d="M406 153L472 50"/><path d="M424 99L469 164"/><path d="M463 101L478 223"/><path d="M508 140L538 151"/><path d="M437 114L488 227"/><path d="M398 170L474 90"/><path d="M507 52L484 147"/><path d="M396 148L451 97"/><path d="M418 115L471 224"/><path d="M430 115L482 77"/><path d="M407 114L503 132"/><path d="M469 164L468 184"/><path d="M407 114L484 147"/><path d="M390 162L407 114"/><path d="M474 90L520 142"/><path d="M497 57L473 96"/><path d="M423 144L471 224"/><path d="M479 76L471 174"/><path d="M405 168L483 230"/><path d="M450 110L488 227"/><path d="M514 163L508 140"/><path d="M503 132L534 144"/><path d="M450 110L493 45"/><path d="M504 166L474 146"/><path d="M491 63L520 142"/><path d="M464 118L510 126"/><path d="M393 152L399 144"/><path d="M407 114L497 57"/><path d="M415 153L538 151"/><path d="M406 153L473 96"/><path d="M471 103L545 142"/><path d="M479 76L463 152"/><path d="M424 99L497 57"/><path d="M405 168L425 149"/><path d="M398 157L469 164"/><path d="M531 126L541 144"/><path d="M471 103L478 125"/><path d="M486 109L478 150"/><path d="M490 71L503 145"/><path d="M414 161L479 67"/><path d="M475 71L526 131"/><path d="M479 67L482 108"/><path d="M396 148L391 158"/><path d="M471 174L488 230"/><path d="M534 144L483 221"/><path d="M484 57L465 108"/><path d="M384 158L474 85"/><path d="M490 71L480 229"/><path d="M425 149L432 116"/><path d="M471 174L483 230"/><path d="M407 114L488 152"/><path d="M407 114L437 114"/><path d="M464 95L483 221"/><path d="M484 57L514 163"/><path d="M415 153L473 96"/><path d="M432 116L541 144"/><path d="M393 152L474 124"/><path d="M483 102L520 124"/><path d="M407 114L497 168"/><path d="M450 110L468 184"/><path d="M514 163L488 227"/><path d="M465 108L488 227"/><path d="M508 140L534 144"/><path d="M473 162L510 126"/><path d="M478 150L478 228"/><path d="M471 103L538 132"/><path d="M504 166L520 124"/><path d="M508 140L483 230"/><path d="M483 102L538 151"/><path d="M399 144L488 230"/><path d="M430 115L474 124"/><path d="M430 115L450 110"/><path d="M407 114L488 230"/><path d="M490 118L520 124"/><path d="M503 132L538 151"/><path d="M493 45L479 67"/><path d="M471 103L469 118"/><path d="M393 152L474 90"/><path d="M396 161L478 125"/><path d="M479 76L482 108"/><path d="M437 114L480 229"/><path d="M410 150L507 52"/><path d="M437 114L468 184"/><path d="M493 45L472 76"/><path d="M526 131L483 221"/><path d="M401 163L474 85"/><path d="M399 144L484 147"/><path d="M523 114L543 156"/><path d="M414 161L473 162"/><path d="M474 90L497 168"/><path d="M471 174L486 159"/><path d="M424 99L493 45"/><path d="M430 115L480 229"/><path d="M448 108L478 150"/><path d="M407 114L464 95"/><path d="M538 132L488 227"/><path d="M398 170L482 108"/><path d="M472 76L478 223"/><path d="M531 126L480 229"/><path d="M425 149L418 115"/><path d="M475 107L520 124"/><path d="M393 152L471 224"/><path d="M520 124L538 151"/><path d="M406 153L480 229"/><path d="M490 177L488 227"/><path d="M458 164L478 228"/><path d="M396 161L407 114"/><path d="M471 174L534 144"/><path d="M479 76L497 168"/><path d="M393 152L483 102"/><path d="M432 116L471 174"/><path d="M398 157L482 77"/><path d="M463 101L514 131"/><path d="M399 144L483 221"/><path d="M506 157L488 227"/><path d="M450 110L463 101"/><path d="M451 97L471 174"/><path d="M396 148L480 229"/><path d="M399 164L483 221"/><path d="M390 162L472 76"/><path d="M520 142L545 142"/><path d="M463 152L541 144"/><path d="M534 144L488 230"/><path d="M531 126L543 156"/><path d="M471 174L484 225"/><path d="M405 168L418 115"/><path d="M415 153L484 225"/><path d="M405 168L507 52"/><path d="M459 110L483 230"/><path d="M469 164L503 145"/><path d="M414 161L508 140"/><path d="M474 90L510 126"/><path d="M497 57L464 168"/><path d="M497 57L490 71"/><path d="M497 57L471 114"/><path d="M393 152L459 110"/><path d="M393 152L448 108"/><path d="M473 162L543 156"/><path d="M472 50L480 176"/><path d="M497 168L520 142"/><path d="M399 144L520 124"/><path d="M450 110L545 142"/><path d="M410 150L482 77"/><path d="M469 164L478 150"/><path d="M479 118L469 164"/><path d="M484 57L507 52"/><path d="M396 161L512 136"/><path d="M414 161L483 230"/><path d="M396 161L437 114"/><path d="M430 115L473 96"/><path d="M474 85L478 223"/><path d="M474 85L503 132"/><path d="M475 71L469 108"/><path d="M473 162L474 146"/><path d="M398 157L484 147"/><path d="M398 170L526 131"/><path d="M482 108L512 136"/><path d="M405 168L478 223"/><path d="M473 96L508 140"/><path d="M430 115L479 76"/><path d="M484 147L534 144"/><path d="M393 152L488 230"/><path d="M541 144L484 225"/><path d="M507 52L482 77"/><path d="M450 110L472 76"/><path d="M474 85L471 174"/><path d="M399 144L510 126"/><path d="M514 131L503 132"/><path d="M484 57L497 57"/><path d="M406 153L545 142"/><path d="M450 110L501 122"/><path d="M520 124L503 145"/><path d="M437 114L531 126"/><path d="M398 170L484 57"/><path d="M501 122L538 132"/><path d="M451 97L514 131"/><path d="M396 148L545 142"/><path d="M484 57L520 124"/><path d="M414 161L488 230"/><path d="M396 161L463 101"/><path d="M497 57L503 145"/><path d="M486 90L504 166"/><path d="M396 161L538 132"/><path d="M410 150L488 230"/><path d="M491 63L463 152"/><path d="M508 140L488 230"/><path d="M432 116L484 225"/><path d="M479 76L514 131"/><path d="M478 223L480 229"/><path d="M531 126L538 151"/><path d="M512 136L483 221"/><path d="M463 152L478 223"/><path d="M468 184L478 150"/><path d="M493 45L506 157"/><path d="M469 108L541 144"/><path d="M458 164L484 147"/><path d="M423 144L480 176"/><path d="M430 115L490 177"/><path d="M531 126L514 131"/><path d="M391 158L478 150"/><path d="M391 158L406 153"/><path d="M510 126L503 132"/><path d="M406 159L523 114"/><path d="M396 161L497 168"/><path d="M523 114L528 138"/><path d="M418 115L478 223"/><path d="M478 150L534 144"/><path d="M487 117L471 224"/><path d="M398 157L528 138"/><path d="M474 85L510 126"/><path d="M473 162L478 223"/><path d="M514 163L545 142"/><path d="M418 115L506 157"/><path d="M458 164L478 223"/><path d="M484 57L463 101"/><path d="M478 125L495 113"/><path d="M399 164L488 230"/><path d="M430 115L471 224"/><path d="M475 107L510 126"/><path d="M475 107L503 145"/><path d="M425 149L465 108"/><path d="M514 131L483 221"/><path d="M486 90L464 168"/><path d="M393 152L520 142"/><path d="M458 164L528 138"/><path d="M418 115L432 116"/><path d="M479 67L483 221"/><path d="M407 114L486 109"/><path d="M390 162L405 168"/><path d="M493 45L514 131"/><path d="M463 101L526 131"/><path d="M482 77L488 227"/><path d="M390 162L497 57"/><path d="M497 57L523 114"/><path d="M490 71L512 136"/><path d="M508 140L483 221"/><path d="M495 113L497 168"/><path d="M538 132L510 126"/><path d="M506 157L510 126"/><path d="M406 159L531 126"/><path d="M451 97L512 136"/><path d="M472 50L482 77"/><path d="M396 148L512 136"/><path d="M512 136L471 224"/><path d="M473 96L468 184"/><path d="M405 168L471 174"/><path d="M512 136L520 142"/><path d="M510 126L478 228"/><path d="M531 126L478 223"/><path d="M523 114L514 131"/><path d="M473 96L463 101"/><path d="M414 161L458 164"/><path d="M474 124L483 221"/><path d="M538 151L488 227"/><path d="M508 140L480 229"/><path d="M407 114L538 132"/><path d="M393 152L495 113"/><path d="M472 50L520 142"/><path d="M471 114L480 229"/><path d="M474 124L506 157"/><path d="M479 67L484 147"/><path d="M486 90L468 184"/><path d="M475 71L475 107"/><path d="M491 63L503 145"/><path d="M482 108L508 140"/><path d="M472 50L475 71"/><path d="M501 122L523 114"/><path d="M479 76L474 146"/><path d="M407 114L478 228"/><path d="M396 148L484 225"/><path d="M490 71L487 117"/><path d="M520 124L510 126"/><path d="M484 147L486 159"/><path d="M471 174L474 146"/><path d="M472 76L486 159"/><path d="M425 149L486 90"/><path d="M399 164L486 90"/><path d="M398 157L430 115"/><path d="M520 124L534 144"/><path d="M459 110L475 107"/><path d="M450 110L478 228"/><path d="M418 115L508 140"/><path d="M437 114L478 223"/><path d="M466 104L488 227"/><path d="M407 114L480 229"/><path d="M430 115L508 140"/><path d="M425 149L471 174"/><path d="M468 184L497 168"/><path d="M406 153L531 126"/><path d="M480 176L471 224"/><path d="M545 142L480 229"/><path d="M437 114L510 126"/><path d="M450 110L483 221"/><path d="M423 144L472 76"/><path d="M414 161L488 227"/><path d="M478 125L541 144"/><path d="M503 132L480 229"/><path d="M472 50L526 131"/><path d="M415 153L520 124"/><path d="M401 163L506 157"/><path d="M484 57L471 174"/><path d="M514 163L534 144"/><path d="M406 159L506 157"/><path d="M490 71L503 132"/><path d="M473 96L464 168"/><path d="M450 110L506 157"/><path d="M396 161L507 52"/><path d="M430 115L483 221"/><path d="M406 159L414 161"/><path d="M475 107L483 221"/><path d="M418 115L483 221"/><path d="M479 118L480 229"/><path d="M526 131L541 144"/><path d="M405 168L526 131"/><path d="M474 146L512 136"/><path d="M486 90L545 142"/><path d="M488 152L520 124"/><path d="M484 147L488 152"/><path d="M486 159L520 124"/><path d="M497 168L488 230"/><path d="M497 168L514 163"/><path d="M425 149L541 144"/><path d="M391 158L410 150"/><path d="M474 85L479 76"/><path d="M398 157L526 131"/><path d="M526 131L488 227"/><path d="M393 152L488 152"/><path d="M451 97L469 164"/><path d="M405 168L484 225"/><path d="M484 57L474 85"/><path d="M474 85L528 138"/><path d="M425 149L407 114"/><path d="M430 115L484 147"/><path d="M398 157L405 168"/><path d="M398 170L473 96"/><path d="M398 170L534 144"/><path d="M425 149L463 152"/><path d="M406 153L526 131"/><path d="M418 115L472 76"/><path d="M482 77L526 131"/><path d="M415 153L506 157"/><path d="M472 76L473 162"/><path d="M384 158L483 221"/><path d="M471 174L478 223"/><path d="M396 148L415 153"/><path d="M399 144L474 146"/><path d="M414 161L480 229"/><path d="M406 153L488 152"/><path d="M418 115L466 104"/><path d="M418 115L484 225"/><path d="M472 76L514 131"/><path d="M479 67L471 174"/><path d="M401 163L478 125"/><path d="M484 147L543 156"/><path d="M448 108L474 146"/><path d="M415 153L471 224"/><path d="M471 114L479 118"/><path d="M501 122L480 229"/><path d="M432 116L478 223"/><path d="M466 104L478 228"/><path d="M425 149L450 110"/><path d="M418 115L484 147"/><path d="M483 221L478 223"/><path d="M393 152L497 57"/><path d="M406 159L497 57"/><path d="M401 163L471 224"/><path d="M464 95L538 132"/><path d="M514 131L480 229"/><path d="M396 161L520 124"/><path d="M384 158L391 158"/><path d="M451 97L538 132"/><path d="M418 115L520 124"/><path d="M398 157L390 162"/><path d="M391 158L488 230"/><path d="M473 96L474 146"/><path d="M423 144L432 116"/><path d="M459 110L483 221"/><path d="M531 126L503 132"/><path d="M528 138L543 156"/><path d="M396 148L423 144"/><path d="M437 114L479 67"/><path d="M528 138L520 142"/><path d="M450 110L503 132"/><path d="M475 107L488 227"/><path d="M514 131L512 136"/><path d="M538 151L471 224"/><path d="M493 45L479 118"/><path d="M468 184L478 223"/><path d="M482 77L508 140"/><path d="M401 163L450 110"/><path d="M393 152L464 118"/><path d="M472 50L508 140"/><path d="M384 158L543 156"/><path d="M474 85L523 114"/><path d="M390 162L474 146"/><path d="M398 157L486 90"/><path d="M486 90L514 163"/><path d="M437 114L473 162"/><path d="M469 118L490 118"/><path d="M425 149L479 67"/><path d="M451 97L479 67"/><path d="M463 101L488 152"/><path d="M430 115L478 228"/><path d="M497 57L472 76"/><path d="M396 161L484 225"/><path d="M523 114L538 151"/><path d="M479 76L514 163"/><path d="M458 164L503 145"/><path d="M497 57L503 132"/><path d="M493 45L490 71"/><path d="M497 57L474 118"/><path d="M514 131L534 144"/><path d="M464 95L503 132"/><path d="M393 152L396 148"/><path d="M410 150L471 224"/><path d="M506 157L488 230"/><path d="M450 110L491 63"/><path d="M423 144L471 114"/><path d="M484 147L538 151"/><path d="M390 162L484 57"/><path d="M538 132L478 223"/><path d="M482 77L504 166"/><path d="M398 157L483 221"/><path d="M475 107L531 126"/><path d="M523 114L541 144"/><path d="M405 168L458 164"/><path d="M545 142L484 225"/><path d="M448 108L478 125"/><path d="M399 144L406 159"/><path d="M512 136L538 151"/><path d="M520 124L514 131"/><path d="M474 146L528 138"/><path d="M497 168L545 142"/><path d="M425 149L469 108"/><path d="M410 150L472 50"/><path d="M534 144L545 142"/><path d="M545 142L483 221"/><path d="M423 144L514 131"/><path d="M490 177L543 156"/><path d="M393 152L514 163"/><path d="M475 71L483 230"/><path d="M491 63L471 174"/><path d="M399 144L396 148"/><path d="M504 166L512 136"/><path d="M437 114L480 176"/><path d="M406 159L478 228"/><path d="M384 158L514 163"/><path d="M471 103L483 221"/><path d="M484 57L466 104"/><path d="M393 152L507 52"/><path d="M526 131L480 229"/><path d="M479 67L488 227"/><path d="M405 168L464 118"/><path d="M399 164L414 161"/><path d="M406 153L425 149"/><path d="M398 157L520 124"/><path d="M393 152L526 131"/><path d="M399 164L497 168"/><path d="M407 114L471 174"/><path d="M479 67L526 131"/><path d="M437 114L514 163"/><path d="M493 45L523 114"/><path d="M425 149L472 50"/><path d="M474 124L471 224"/><path d="M450 110L497 57"/><path d="M432 116L474 96"/><path d="M474 85L478 228"/><path d="M469 118L484 225"/><path d="M414 161L483 221"/><path d="M469 108L468 184"/><path d="M493 45L497 168"/><path d="M448 108L478 223"/><path d="M425 149L482 77"/><path d="M396 148L398 157"/><path d="M479 118L538 151"/><path d="M493 45L484 57"/><path d="M406 153L487 117"/><path d="M526 131L488 230"/><path d="M384 158L514 131"/><path d="M472 50L488 227"/><path d="M414 161L471 174"/><path d="M423 144L508 140"/><path d="M396 161L490 71"/><path d="M469 108L510 126"/><path d="M491 63L480 229"/><path d="M405 168L528 138"/><path d="M458 164L473 162"/><path d="M410 150L493 45"/><path d="M390 162L506 157"/><path d="M414 161L459 110"/><path d="M425 149L472 76"/><path d="M484 147L483 221"/><path d="M398 157L534 144"/><path d="M490 118L483 221"/><path d="M538 151L484 225"/><path d="M396 161L545 142"/><path d="M464 168L545 142"/><path d="M405 168L488 227"/><path d="M507 52L479 76"/><path d="M464 168L503 145"/><path d="M483 102L503 145"/><path d="M393 152L503 132"/><path d="M464 168L483 230"/><path d="M486 159L490 177"/><path d="M473 162L488 152"/><path d="M401 163L479 76"/><path d="M393 152L430 115"/><path d="M487 117L545 142"/><path d="M423 144L390 162"/><path d="M534 144L480 229"/><path d="M471 174L497 168"/><path d="M474 85L482 77"/><path d="M393 152L471 174"/><path d="M448 108L510 126"/><path d="M475 107L482 108"/><path d="M396 148L486 159"/><path d="M410 150L504 166"/><path d="M528 138L484 225"/><path d="M466 104L471 174"/><path d="M514 131L538 151"/><path d="M479 76L483 230"/><path d="M508 140L543 156"/><path d="M503 132L541 144"/><path d="M405 168L407 114"/><path d="M451 97L503 145"/><path d="M384 158L484 147"/><path d="M541 144L545 142"/><path d="M406 159L486 90"/><path d="M424 99L484 57"/><path d="M432 116L484 147"/><path d="M484 147L503 132"/><path d="M506 157L514 163"/><path d="M450 110L463 152"/><path d="M472 76L463 101"/><path d="M506 157L503 145"/><path d="M415 153L432 116"/><path d="M406 159L430 115"/><path d="M424 99L475 71"/><path d="M491 63L488 227"/><path d="M472 76L482 77"/><path d="M479 76L523 114"/><path d="M430 115L488 227"/><path d="M396 161L493 45"/><path d="M503 132L483 221"/><path d="M478 150L488 230"/><path d="M520 124L545 142"/><path d="M526 131L514 131"/><path d="M384 158L399 164"/><path d="M510 126L520 142"/><path d="M469 164L514 131"/><path d="M414 161L464 95"/><path d="M508 140L503 145"/><path d="M406 153L543 156"/><path d="M401 163L528 138"/><path d="M473 96L478 223"/><path d="M425 149L479 76"/><path d="M393 152L410 150"/><path d="M463 152L543 156"/><path d="M474 146L471 224"/><path d="M469 164L497 168"/><path d="M384 158L538 132"/><path d="M448 108L483 230"/><path d="M471 174L478 228"/><path d="M514 163L531 126"/><path d="M396 148L531 126"/><path d="M528 138L480 229"/><path d="M459 110L545 142"/><path d="M491 63L488 230"/><path d="M406 159L480 176"/><path d="M450 110L531 126"/><path d="M490 71L464 118"/><path d="M448 108L469 118"/><path d="M482 77L474 146"/><path d="M484 147L497 168"/><path d="M466 104L503 145"/><path d="M478 223L483 230"/><path d="M474 90L484 225"/><path d="M493 45L475 71"/><path d="M407 114L464 168"/><path d="M471 114L474 124"/><path d="M484 57L469 164"/><path d="M482 77L471 174"/><path d="M464 118L538 132"/><path d="M398 157L471 103"/><path d="M538 132L478 228"/><path d="M425 149L430 115"/><path d="M396 161L528 138"/><path d="M407 114L478 223"/><path d="M399 164L484 147"/><path d="M448 108L520 124"/><path d="M472 50L474 90"/><path d="M493 45L479 76"/><path d="M514 131L508 140"/><path d="M424 99L483 221"/><path d="M475 107L473 162"/><path d="M480 176L545 142"/><path d="M490 177L514 163"/><path d="M459 110L478 228"/><path d="M425 149L484 57"/><path d="M396 161L488 230"/><path d="M396 148L418 115"/><path d="M398 157L483 230"/><path d="M465 108L471 114"/><path d="M510 126L488 230"/><path d="M473 162L538 132"/><path d="M393 152L407 114"/><path d="M479 67L478 228"/><path d="M507 52L484 225"/><path d="M472 50L471 103"/><path d="M484 147L526 131"/><path d="M401 163L484 57"/><path d="M384 158L396 161"/><path d="M430 115L493 45"/><path d="M482 108L480 176"/><path d="M474 90L520 124"/><path d="M463 101L469 164"/><path d="M391 158L520 142"/><path d="M503 145L541 144"/><path d="M497 57L464 95"/><path d="M451 97L523 114"/><path d="M475 71L523 114"/><path d="M538 151L545 142"/><path d="M393 152L490 71"/><path d="M405 168L543 156"/><path d="M478 223L488 227"/><path d="M479 118L478 125"/><path d="M465 108L545 142"/><path d="M391 158L437 114"/><path d="M391 158L528 138"/><path d="M432 116L503 132"/><path d="M399 164L478 223"/><path d="M415 153L514 131"/><path d="M534 144L541 144"/><path d="M520 124L538 132"/><path d="M484 57L471 103"/><path d="M448 108L471 174"/><path d="M472 76L520 124"/><path d="M507 52L503 132"/><path d="M448 108L528 138"/><path d="M406 159L399 164"/><path d="M538 132L508 140"/><path d="M475 107L484 147"/><path d="M406 153L488 227"/><path d="M486 90L510 126"/><path d="M418 115L437 114"/><path d="M510 126L534 144"/><path d="M406 153L479 67"/><path d="M448 108L450 110"/><path d="M398 157L471 114"/><path d="M472 50L493 45"/><path d="M514 131L471 224"/><path d="M407 114L490 177"/><path d="M423 144L514 163"/><path d="M423 144L483 221"/><path d="M472 76L503 132"/><path d="M480 176L478 223"/><path d="M495 113L501 122"/><path d="M471 174L503 145"/><path d="M448 108L514 163"/><path d="M482 77L528 138"/><path d="M424 99L495 113"/><path d="M463 101L484 147"/><path d="M493 45L486 90"/><path d="M486 90L520 124"/><path d="M396 148L401 163"/><path d="M474 90L508 140"/><path d="M406 153L398 170"/><path d="M506 157L538 151"/><path d="M432 116L471 224"/><path d="M437 114L486 159"/><path d="M478 228L484 225"/><path d="M471 114L486 159"/><path d="M510 126L478 223"/><path d="M425 149L506 157"/><path d="M528 138L538 151"/><path d="M430 115L448 108"/><path d="M437 114L507 52"/><path d="M479 76L484 225"/><path d="M401 163L497 168"/><path d="M401 163L425 149"/><path d="M506 157L471 224"/><path d="M473 96L479 76"/><path d="M541 144L483 221"/><path d="M398 170L471 224"/><path d="M425 149L469 164"/><path d="M398 170L480 229"/><path d="M390 162L488 227"/><path d="M430 115L479 67"/><path d="M432 116L475 71"/><path d="M414 161L471 224"/><path d="M406 159L432 116"/><path d="M478 228L488 227"/><path d="M486 109L479 118"/><path d="M448 108L474 90"/><path d="M520 124L471 224"/><path d="M437 114L488 230"/><path d="M418 115L486 159"/><path d="M506 157L523 114"/><path d="M407 114L448 108"/><path d="M466 104L514 163"/><path d="M407 114L469 118"/><path d="M486 159L483 230"/><path d="M514 131L510 126"/><path d="M407 114L478 150"/><path d="M415 153L491 63"/><path d="M414 161L478 150"/><path d="M418 115L471 114"/><path d="M391 158L490 177"/><path d="M425 149L488 227"/><path d="M507 52L504 166"/><path d="M538 132L503 145"/><path d="M398 157L514 131"/><path d="M523 114L534 144"/><path d="M490 177L545 142"/><path d="M396 161L430 115"/><path d="M531 126L538 132"/><path d="M506 157L483 221"/><path d="M484 57L484 225"/><path d="M538 132L534 144"/><path d="M483 230L488 230"/><path d="M398 157L486 159"/><path d="M399 144L483 230"/><path d="M473 162L520 142"/><path d="M423 144L458 164"/><path d="M490 118L486 159"/><path d="M398 157L538 132"/><path d="M520 124L541 144"/><path d="M407 114L506 157"/><path d="M415 153L497 57"/><path d="M475 71L474 124"/><path d="M391 158L503 145"/><path d="M437 114L497 57"/><path d="M543 156L483 230"/><path d="M493 45L503 132"/><path d="M497 57L504 166"/><path d="M406 153L424 99"/><path d="M425 149L478 223"/><path d="M534 144L478 223"/><path d="M471 174L508 140"/><path d="M488 152L484 225"/><path d="M475 107L508 140"/><path d="M407 114L520 124"/><path d="M497 57L514 131"/><path d="M407 114L479 76"/><path d="M463 152L474 146"/><path d="M478 150L483 221"/><path d="M523 114L531 126"/><path d="M475 107L523 114"/><path d="M448 108L514 131"/><path d="M391 158L458 164"/><path d="M390 162L497 168"/><path d="M405 168L523 114"/><path d="M401 163L451 97"/><path d="M480 176L534 144"/><path d="M474 85L497 168"/><path d="M538 132L488 230"/><path d="M410 150L545 142"/><path d="M448 108L490 71"/><path d="M451 97L478 228"/><path d="M448 108L491 63"/><path d="M471 174L538 151"/><path d="M390 162L469 164"/><path d="M520 124L531 126"/><path d="M398 170L480 176"/><path d="M396 148L406 153"/><path d="M479 76L486 90"/><path d="M391 158L418 115"/><path d="M484 57L473 96"/><path d="M448 108L534 144"/><path d="M475 107L474 124"/><path d="M406 159L503 145"/><path d="M464 118L520 124"/><path d="M472 76L526 131"/><path d="M430 115L488 152"/><path d="M424 99L471 114"/><path d="M475 107L538 132"/><path d="M396 161L474 124"/><path d="M437 114L448 108"/><path d="M479 76L520 124"/><path d="M472 50L484 57"/><path d="M399 144L466 104"/><path d="M497 168L538 132"/><path d="M514 131L488 230"/><path d="M396 148L478 223"/><path d="M497 57L507 52"/><path d="M399 164L450 110"/><path d="M471 224L488 230"/><path d="M472 50L495 113"/><path d="M473 96L514 131"/><path d="M450 110L497 168"/><path d="M484 147L510 126"/><path d="M531 126L534 144"/><path d="M495 113L506 157"/><path d="M484 147L520 124"/><path d="M399 144L474 85"/><path d="M448 108L483 221"/><path d="M390 162L401 163"/><path d="M424 99L463 152"/><path d="M430 115L528 138"/><path d="M484 57L497 168"/><path d="M391 158L488 227"/><path d="M484 57L526 131"/><path d="M396 148L490 177"/><path d="M423 144L482 108"/><path d="M391 158L414 161"/><path d="M464 168L484 225"/><path d="M514 163L488 230"/><path d="M418 115L472 50"/><path d="M541 144L471 224"/><path d="M479 76L480 229"/><path d="M473 162L480 229"/><path d="M526 131L471 224"/><path d="M510 126L543 156"/><path d="M432 116L484 57"/><path d="M418 115L497 57"/><path d="M406 153L514 163"/><path d="M399 164L474 90"/><path d="M399 144L424 99"/><path d="M472 50L483 221"/><path d="M471 174L514 131"/><path d="M396 161L534 144"/><path d="M484 57L479 67"/><path d="M512 136L488 227"/><path d="M479 67L474 146"/><path d="M391 158L425 149"/><path d="M471 224L488 227"/><path d="M478 150L538 151"/><path d="M393 152L398 157"/><path d="M396 148L483 230"/><path d="M514 131L478 223"/><path d="M474 90L474 124"/><path d="M520 124L508 140"/><path d="M466 104L486 159"/><path d="M487 117L484 147"/><path d="M399 144L482 77"/><path d="M463 101L534 144"/><path d="M497 57L483 102"/><path d="M430 115L501 122"/><path d="M423 144L468 184"/><path d="M514 163L474 146"/><path d="M497 57L510 126"/><path d="M469 108L471 224"/><path d="M399 164L483 230"/><path d="M393 152L479 76"/><path d="M526 131L545 142"/><path d="M448 108L523 114"/><path d="M464 118L483 221"/><path d="M450 110L495 113"/><path d="M415 153L423 144"/><path d="M393 152L464 168"/><path d="M504 166L538 151"/><path d="M407 114L512 136"/><path d="M471 174L520 142"/><path d="M448 108L497 168"/><path d="M474 85L469 118"/><path d="M465 108L480 229"/><path d="M491 63L479 76"/><path d="M484 57L488 227"/><path d="M437 114L538 151"/><path d="M390 162L520 124"/><path d="M471 174L488 152"/><path d="M399 144L471 174"/><path d="M463 152L520 124"/><path d="M497 57L520 124"/><path d="M418 115L503 132"/><path d="M425 149L543 156"/><path d="M484 57L508 140"/><path d="M495 113L541 144"/><path d="M510 126L480 229"/><path d="M479 118L538 132"/><path d="M393 152L541 144"/><path d="M497 168L488 227"/><path d="M430 115L512 136"/><path d="M490 118L490 177"/><path d="M396 148L503 132"/><path d="M534 144L520 142"/><path d="M507 52L512 136"/><path d="M432 116L512 136"/><path d="M545 142L478 228"/><path d="M541 144L488 230"/><path d="M398 157L479 118"/><path d="M390 162L414 161"/><path d="M503 145L478 223"/><path d="M464 168L480 176"/><path d="M432 116L479 118"/><path d="M414 161L479 118"/><path d="M504 166L483 221"/><path d="M393 152L469 108"/><path d="M472 76L503 145"/><path d="M541 144L543 156"/><path d="M541 144L520 142"/><path d="M406 159L405 168"/><path d="M479 76L526 131"/><path d="M393 152L384 158"/><path d="M406 153L390 162"/><path d="M463 152L523 114"/><path d="M486 90L471 114"/><path d="M506 157L543 156"/><path d="M406 153L488 230"/><path d="M479 67L508 140"/><path d="M497 57L479 67"/><path d="M448 108L484 57"/><path d="M463 101L474 96"/><path d="M464 118L528 138"/><path d="M472 76L469 108"/><path d="M430 115L490 71"/><path d="M407 114L483 230"/><path d="M484 57L512 136"/><path d="M399 144L526 131"/><path d="M469 108L478 228"/><path d="M482 108L488 227"/><path d="M451 97L473 162"/><path d="M384 158L410 150"/><path d="M410 150L474 90"/><path d="M384 158L488 230"/><path d="M390 162L450 110"/><path d="M490 118L510 126"/><path d="M483 221L471 224"/><path d="M520 142L478 223"/><path d="M406 159L508 140"/><path d="M484 57L514 131"/><path d="M391 158L480 229"/><path d="M430 115L534 144"/><path d="M393 152L538 151"/><path d="M384 158L501 122"/><path d="M484 147L545 142"/><path d="M538 151L483 221"/><path d="M474 124L528 138"/><path d="M430 115L464 95"/><path d="M475 71L510 126"/><path d="M503 132L528 138"/><path d="M520 124L503 132"/><path d="M398 157L406 159"/><path d="M430 115L471 114"/><path d="M406 153L423 144"/><path d="M486 159L520 142"/><path d="M415 153L510 126"/><path d="M415 153L405 168"/><path d="M465 108L510 126"/><path d="M538 132L526 131"/><path d="M471 103L538 151"/><path d="M471 174L480 176"/><path d="M399 164L523 114"/><path d="M463 101L471 114"/><path d="M466 104L497 168"/><path d="M396 161L465 108"/><path d="M475 107L478 228"/><path d="M475 71L473 96"/><path d="M432 116L510 126"/><path d="M424 99L523 114"/><path d="M398 157L479 67"/><path d="M474 90L478 150"/><path d="M506 157L503 132"/><path d="M474 146L520 124"/><path d="M484 147L474 146"/><path d="M464 168L531 126"/><path d="M478 223L488 230"/><path d="M507 52L474 90"/><path d="M475 71L503 132"/><path d="M497 57L482 77"/><path d="M471 174L531 126"/><path d="M393 152L528 138"/><path d="M451 97L474 85"/><path d="M464 95L471 174"/><path d="M503 132L488 227"/><path d="M396 148L523 114"/><path d="M468 184L528 138"/><path d="M508 140L478 223"/><path d="M486 109L504 166"/><path d="M473 96L512 136"/><path d="M401 163L478 228"/><path d="M384 158L490 118"/><path d="M410 150L526 131"/><path d="M398 157L469 118"/><path d="M488 152L523 114"/><path d="M490 71L471 174"/><path d="M424 99L474 96"/><path d="M406 159L488 230"/><path d="M475 71L528 138"/><path d="M473 96L520 142"/><path d="M484 57L528 138"/><path d="M483 221L488 230"/><path d="M384 158L545 142"/><path d="M423 144L406 159"/><path d="M488 152L541 144"/><path d="M510 126L545 142"/><path d="M479 67L474 90"/><path d="M399 144L497 168"/><path d="M520 142L478 228"/><path d="M475 107L488 230"/><path d="M463 152L478 150"/><path d="M468 184L483 221"/><path d="M472 50L503 132"/><path d="M495 113L488 227"/><path d="M482 77L497 168"/><path d="M526 131L528 138"/><path d="M391 158L484 225"/><path d="M488 152L534 144"/><path d="M384 158L479 118"/><path d="M484 147L531 126"/><path d="M534 144L538 151"/><path d="M407 114L543 156"/><path d="M423 144L484 57"/><path d="M398 157L474 85"/><path d="M538 132L528 138"/><path d="M432 116L448 108"/><path d="M415 153L399 164"/><path d="M398 157L490 177"/><path d="M512 136L534 144"/><path d="M503 132L543 156"/><path d="M391 158L526 131"/><path d="M398 157L410 150"/><path d="M410 150L479 76"/><path d="M432 116L490 71"/><path d="M399 144L490 118"/><path d="M432 116L507 52"/><path d="M398 157L495 113"/><path d="M450 110L520 124"/><path d="M423 144L478 150"/><path d="M490 71L526 131"/><path d="M384 158L504 166"/><path d="M384 158L490 71"/><path d="M399 144L545 142"/><path d="M448 108L503 145"/><path d="M391 158L474 85"/><path d="M418 115L514 163"/><path d="M384 158L468 184"/><path d="M475 107L545 142"/><path d="M543 156L478 223"/><path d="M520 124L543 156"/><path d="M531 126L520 142"/><path d="M448 108L475 107"/><path d="M437 114L538 132"/><path d="M479 76L503 145"/><path d="M437 114L463 152"/><path d="M425 149L545 142"/><path d="M471 174L490 177"/><path d="M396 161L483 230"/><path d="M399 144L491 63"/><path d="M523 114L526 131"/><path d="M401 163L448 108"/><path d="M390 162L474 85"/><path d="M469 118L541 144"/><path d="M490 71L514 131"/><path d="M473 96L503 145"/><path d="M451 97L473 96"/><path d="M503 132L512 136"/><path d="M520 124L512 136"/><path d="M418 115L459 110"/><path d="M414 161L474 146"/><path d="M484 57L510 126"/><path d="M466 104L480 229"/><path d="M543 156L488 227"/><path d="M423 144L425 149"/><path d="M414 161L531 126"/><path d="M488 152L528 138"/><path d="M497 57L464 118"/><path d="M399 164L479 67"/><path d="M406 159L471 224"/><path d="M479 76L512 136"/><path d="M423 144L430 115"/><path d="M474 90L488 227"/><path d="M482 108L531 126"/><path d="M430 115L503 145"/><path d="M390 162L490 118"/><path d="M399 144L484 225"/><path d="M526 131L520 142"/><path d="M407 114L487 117"/><path d="M472 76L520 142"/><path d="M424 99L512 136"/><path d="M437 114L534 144"/><path d="M495 113L520 142"/><path d="M479 118L534 144"/><path d="M463 101L486 159"/><path d="M414 161L520 142"/><path d="M523 114L483 221"/><path d="M458 164L541 144"/><path d="M432 116L478 228"/><path d="M415 153L484 57"/><path d="M398 157L478 223"/><path d="M497 168L484 225"/><path d="M507 52L501 122"/><path d="M418 115L451 97"/><path d="M475 71L472 76"/><path d="M405 168L479 76"/><path d="M399 164L474 146"/><path d="M474 96L545 142"/><path d="M486 109L512 136"/><path d="M463 152L508 140"/><path d="M391 158L398 157"/><path d="M425 149L486 159"/><path d="M430 115L432 116"/><path d="M479 67L482 77"/><path d="M497 57L487 117"/><path d="M451 97L497 168"/><path d="M396 148L493 45"/><path d="M430 115L469 164"/><path d="M418 115L479 67"/><path d="M391 158L490 71"/><path d="M463 152L520 142"/><path d="M479 67L483 230"/><path d="M471 103L473 162"/><path d="M508 140L484 225"/><path d="M451 97L488 227"/><path d="M479 67L514 131"/><path d="M425 149L503 145"/><path d="M478 150L543 156"/><path d="M491 63L526 131"/><path d="M523 114L520 124"/><path d="M538 132L520 142"/><path d="M432 116L483 230"/><path d="M474 146L538 132"/><path d="M451 97L471 224"/><path d="M430 115L468 184"/><path d="M418 115L468 184"/><path d="M543 156L538 151"/><path d="M523 114L503 145"/><path d="M472 50L523 114"/><path d="M390 162L478 228"/><path d="M399 164L469 164"/><path d="M482 77L471 224"/><path d="M437 114L483 230"/><path d="M406 153L523 114"/><path d="M469 164L534 144"/><path d="M464 95L526 131"/><path d="M418 115L484 57"/><path d="M501 122L545 142"/><path d="M468 184L488 230"/><path d="M469 164L545 142"/><path d="M430 115L541 144"/><path d="M406 159L425 149"/><path d="M504 166L543 156"/><path d="M512 136L478 228"/><path d="M406 159L464 168"/><path d="M405 168L534 144"/><path d="M384 158L497 57"/><path d="M541 144L480 229"/><path d="M401 163L503 132"/><path d="M490 118L458 164"/><path d="M520 124L478 228"/><path d="M393 152L472 50"/><path d="M528 138L488 227"/><path d="M437 114L473 96"/><path d="M523 114L538 132"/><path d="M448 108L473 162"/><path d="M471 103L526 131"/><path d="M396 161L523 114"/><path d="M414 161L437 114"/><path d="M406 159L478 223"/><path d="M390 162L523 114"/><path d="M396 161L526 131"/><path d="M451 97L478 223"/><path d="M384 158L491 63"/><path d="M543 156L483 221"/><path d="M396 161L538 151"/><path d="M448 108L473 96"/><path d="M430 115L451 97"/><path d="M463 152L478 228"/><path d="M475 71L458 164"/><path d="M474 85L526 131"/><path d="M469 164L538 132"/><path d="M405 168L474 124"/><path d="M475 107L534 144"/><path d="M418 115L507 52"/><path d="M406 153L480 176"/><path d="M488 152L545 142"/><path d="M407 114L474 118"/><path d="M384 158L430 115"/><path d="M406 153L410 150"/><path d="M384 158L425 149"/><path d="M415 153L534 144"/><path d="M490 118L478 228"/><path d="M399 144L484 57"/><path d="M393 152L463 152"/><path d="M399 164L475 107"/><path d="M482 108L474 124"/><path d="M526 131L503 145"/><path d="M495 113L510 126"/><path d="M423 144L473 96"/><path d="M399 164L425 149"/><path d="M398 157L488 227"/><path d="M425 149L448 108"/><path d="M418 115L510 126"/><path d="M425 149L520 124"/><path d="M474 85L483 221"/><path d="M497 57L458 164"/><path d="M497 57L474 146"/><path d="M391 158L543 156"/><path d="M531 126L510 126"/><path d="M424 99L488 227"/><path d="M396 148L399 164"/><path d="M406 159L471 174"/><path d="M483 221L483 230"/><path d="M474 96L488 227"/><path d="M399 144L490 177"/><path d="M483 102L503 132"/><path d="M437 114L464 168"/><path d="M401 163L474 96"/><path d="M508 140L545 142"/><path d="M463 152L483 230"/><path d="M396 161L488 227"/><path d="M398 170L475 107"/><path d="M484 147L488 227"/><path d="M393 152L423 144"/><path d="M393 152L414 161"/><path d="M526 131L534 144"/><path d="M401 163L473 96"/><path d="M464 118L508 140"/><path d="M497 57L495 113"/><path d="M425 149L538 151"/><path d="M497 57L484 147"/><path d="M520 124L488 227"/><path d="M472 76L501 122"/><path d="M393 152L473 96"/><path d="M472 76L484 147"/><path d="M491 63L503 132"/><path d="M484 57L503 145"/><path d="M463 101L475 107"/><path d="M393 152L391 158"/><path d="M482 77L510 126"/><path d="M384 158L415 153"/><path d="M410 150L450 110"/><path d="M407 114L418 115"/><path d="M391 158L497 57"/><path d="M390 162L483 230"/><path d="M512 136L503 145"/><path d="M480 176L514 131"/><path d="M415 153L479 67"/><path d="M398 170L471 174"/><path d="M469 108L526 131"/><path d="M418 115L478 228"/><path d="M512 136L483 230"/><path d="M406 153L479 76"/><path d="M464 118L458 164"/><path d="M425 149L514 163"/><path d="M437 114L471 103"/><path d="M475 71L483 221"/><path d="M463 101L483 221"/><path d="M484 147L538 132"/><path d="M384 158L407 114"/><path d="M484 147L512 136"/><path d="M396 148L538 132"/><path d="M414 161L506 157"/><path d="M390 162L534 144"/><path d="M399 144L495 113"/><path d="M437 114L526 131"/><path d="M405 168L506 157"/><path d="M474 124L484 225"/><path d="M384 158L478 228"/><path d="M396 161L484 57"/><path d="M418 115L528 138"/><path d="M523 114L488 227"/><path d="M424 99L538 151"/><path d="M451 97L483 221"/><path d="M410 150L425 149"/><path d="M480 176L508 140"/><path d="M503 145L543 156"/><path d="M432 116L474 85"/><path d="M418 115L538 151"/><path d="M466 104L471 103"/><path d="M410 150L479 67"/><path d="M466 104L463 152"/><path d="M482 77L523 114"/><path d="M484 57L478 228"/><path d="M473 162L526 131"/><path d="M390 162L478 223"/><path d="M497 57L483 230"/><path d="M405 168L538 151"/><path d="M506 157L531 126"/><path d="M543 156L520 142"/><path d="M425 149L424 99"/><path d="M471 224L478 228"/><path d="M479 67L484 225"/><path d="M406 159L538 151"/><path d="M484 147L514 131"/><path d="M405 168L520 142"/><path d="M384 158L478 150"/><path d="M514 131L543 156"/><path d="M472 76L488 227"/><path d="M484 57L478 150"/><path d="M471 174L510 126"/><path d="M406 159L520 142"/><path d="M503 145L488 227"/><path d="M384 158L450 110"/><path d="M393 152L484 225"/><path d="M526 131L483 230"/><path d="M486 159L538 151"/><path d="M450 110L543 156"/><path d="M474 124L520 142"/><path d="M472 76L512 136"/><path d="M497 57L514 163"/><path d="M475 71L520 124"/><path d="M468 184L538 132"/><path d="M545 142L483 230"/><path d="M479 76L483 221"/><path d="M399 144L503 145"/><path d="M474 90L465 108"/><path d="M407 114L430 115"/><path d="M396 148L471 224"/><path d="M414 161L469 164"/><path d="M484 147L483 230"/><path d="M391 158L406 159"/><path d="M451 97L491 63"/><path d="M425 149L490 71"/><path d="M471 174L504 166"/><path d="M514 131L484 225"/><path d="M391 158L538 132"/><path d="M475 71L479 76"/><path d="M471 224L478 223"/><path d="M464 168L543 156"/><path d="M493 45L510 126"/><path d="M474 118L503 132"/><path d="M399 144L497 57"/><path d="M514 131L545 142"/><path d="M471 224L480 229"/><path d="M484 57L479 76"/><path d="M399 164L486 159"/><path d="M424 99L507 52"/><path d="M424 99L506 157"/><path d="M463 101L538 132"/><path d="M423 144L545 142"/><path d="M479 67L497 168"/><path d="M406 159L484 225"/><path d="M393 152L480 176"/><path d="M405 168L471 103"/><path d="M495 113L480 229"/><path d="M486 109L538 132"/><path d="M479 67L520 142"/><path d="M484 57L486 109"/><path d="M466 104L484 147"/><path d="M424 99L491 63"/><path d="M545 142L471 224"/><path d="M393 152L490 177"/><path d="M482 77L520 124"/><path d="M490 71L523 114"/><path d="M430 115L520 142"/><path d="M423 144L478 223"/><path d="M384 158L406 153"/><path d="M504 166L488 227"/><path d="M469 118L480 229"/><path d="M471 174L503 132"/><path d="M398 170L520 124"/><path d="M475 71L508 140"/><path d="M490 71L520 124"/><path d="M479 76L528 138"/><path d="M391 158L510 126"/><path d="M474 96L497 168"/><path d="M415 153L483 221"/><path d="M393 152L488 227"/><path d="M475 71L464 168"/><path d="M465 108L538 151"/><path d="M523 114L480 229"/><path d="M463 101L469 118"/><path d="M503 145L478 228"/><path d="M405 168L478 150"/><path d="M437 114L464 118"/><path d="M396 161L480 229"/><path d="M407 114L450 110"/><path d="M396 161L503 145"/><path d="M393 152L501 122"/><path d="M520 124L480 229"/><path d="M451 97L493 45"/><path d="M464 95L484 147"/><path d="M450 110L510 126"/><path d="M497 57L488 227"/><path d="M425 149L528 138"/><path d="M450 110L514 163"/><path d="M486 109L520 142"/><path d="M415 153L480 229"/><path d="M399 144L538 132"/><path d="M410 150L399 164"/><path d="M396 148L528 138"/><path d="M410 150L483 230"/><path d="M399 144L488 227"/><path d="M398 170L507 52"/><path d="M468 184L538 151"/><path d="M390 162L406 159"/><path d="M406 159L488 227"/><path d="M510 126L508 140"/><path d="M501 122L488 152"/><path d="M483 221L478 228"/><path d="M405 168L474 85"/><path d="M469 108L480 229"/><path d="M479 76L508 140"/><path d="M479 76L490 177"/><path d="M414 161L478 223"/><path d="M497 57L482 108"/><path d="M398 170L474 96"/><path d="M399 164L531 126"/><path d="M472 50L503 145"/><path d="M450 110L503 145"/><path d="M465 108L538 132"/><path d="M390 162L458 164"/><path d="M405 168L488 152"/><path d="M493 45L528 138"/><path d="M474 96L464 168"/><path d="M430 115L486 109"/><path d="M497 57L508 140"/><path d="M398 170L531 126"/><path d="M545 142L488 227"/><path d="M423 144L484 225"/><path d="M484 57L501 122"/><path d="M430 115L466 104"/><path d="M384 158L503 132"/><path d="M393 152L545 142"/><path d="M406 159L538 132"/><path d="M465 108L475 107"/><path d="M493 45L463 152"/><path d="M463 152L471 174"/><path d="M504 166L531 126"/><path d="M474 124L545 142"/><path d="M538 132L514 131"/><path d="M482 77L520 142"/><path d="M490 177L520 124"/><path d="M479 67L520 124"/><path d="M423 144L474 85"/><path d="M503 145L538 151"/><path d="M480 176L503 145"/><path d="M526 131L508 140"/><path d="M398 170L491 63"/><path d="M512 136L541 144"/><path d="M448 108L478 228"/><path d="M479 67L503 132"/><path d="M523 114L510 126"/><path d="M391 158L401 163"/><path d="M423 144L488 227"/><path d="M538 132L538 151"/><path d="M508 140L528 138"/><path d="M432 116L528 138"/><path d="M423 144L510 126"/><path d="M514 131L541 144"/><path d="M393 152L405 168"/><path d="M503 132L503 145"/><path d="M472 50L478 150"/><path d="M463 101L541 144"/><path d="M484 57L464 168"/><path d="M424 99L482 108"/><path d="M407 114L465 108"/><path d="M391 158L450 110"/><path d="M472 50L490 118"/><path d="M401 163L510 126"/><path d="M528 138L534 144"/><path d="M399 164L465 108"/><path d="M418 115L504 166"/><path d="M384 158L475 71"/><path d="M471 174L478 150"/><path d="M384 158L486 109"/><path d="M423 144L497 168"/><path d="M423 144L480 229"/><path d="M484 57L491 63"/><path d="M508 140L541 144"/><path d="M425 149L475 107"/><path d="M468 184L488 227"/><path d="M418 115L512 136"/><path d="M432 116L483 102"/><path d="M391 158L483 221"/><path d="M538 132L480 229"/><path d="M478 150L528 138"/><path d="M406 159L497 168"/><path d="M401 163L523 114"/><path d="M430 115L480 176"/><path d="M473 96L528 138"/><path d="M399 144L430 115"/><path d="M520 142L488 227"/><path d="M406 159L484 147"/><path d="M423 144L520 142"/><path d="M479 118L503 145"/><path d="M474 146L545 142"/><path d="M399 164L490 177"/><path d="M484 57L520 142"/><path d="M396 148L474 146"/><path d="M484 57L523 114"/><path d="M405 168L497 57"/><path d="M399 144L472 76"/><path d="M520 124L483 221"/><path d="M393 152L437 114"/><path d="M469 108L495 113"/><path d="M510 126L484 225"/><path d="M510 126L512 136"/><path d="M406 159L418 115"/><path d="M432 116L450 110"/><path d="M480 229L483 230"/><path d="M418 115L473 96"/><path d="M475 107L471 224"/><path d="M393 152L406 153"/><path d="M497 57L474 85"/><path d="M398 157L523 114"/><path d="M396 148L479 67"/><path d="M503 132L508 140"/><path d="M398 170L528 138"/><path d="M479 118L464 118"/><path d="M391 158L523 114"/><path d="M504 166L523 114"/><path d="M534 144L478 228"/><path d="M504 166L534 144"/><path d="M401 163L488 227"/><path d="M396 161L490 118"/><path d="M425 149L488 152"/><path d="M399 164L504 166"/><path d="M472 50L510 126"/><path d="M451 97L474 90"/><path d="M503 132L545 142"/><path d="M482 77L469 164"/><path d="M473 162L514 131"/><path d="M410 150L437 114"/><path d="M414 161L475 107"/><path d="M430 115L514 131"/><path d="M425 149L474 90"/><path d="M424 99L471 224"/><path d="M491 63L528 138"/><path d="M474 118L543 156"/><path d="M473 96L520 124"/><path d="M407 114L473 96"/><path d="M405 168L490 118"/><path d="M399 144L503 132"/><path d="M410 150L478 223"/><path d="M488 152L538 132"/><path d="M450 110L483 230"/><path d="M425 149L483 102"/><path d="M523 114L512 136"/><path d="M393 152L425 149"/><path d="M463 101L486 109"/><path d="M520 124L520 142"/><path d="M486 109L503 145"/><path d="M414 161L463 152"/><path d="M469 118L510 126"/><path d="M469 108L503 132"/><path d="M507 52L475 71"/><path d="M475 71L503 145"/><path d="M478 150L545 142"/><path d="M432 116L497 168"/><path d="M490 118L480 176"/><path d="M475 107L543 156"/><path d="M451 97L483 230"/><path d="M430 115L475 107"/><path d="M410 150L475 71"/><path d="M396 148L464 118"/><path d="M497 168L480 229"/><path d="M425 149L491 63"/><path d="M393 152L479 67"/><path d="M507 52L474 124"/><path d="M520 124L526 131"/><path d="M486 159L534 144"/><path d="M507 52L520 142"/><path d="M450 110L508 140"/><path d="M480 176L520 142"/><path d="M479 67L490 71"/><path d="M448 108L507 52"/><path d="M464 168L471 224"/><path d="M474 85L520 124"/><path d="M474 146L488 227"/><path d="M479 76L480 176"/><path d="M459 110L508 140"/><path d="M414 161L520 124"/><path d="M393 152L473 162"/><path d="M458 164L503 132"/><path d="M425 149L464 168"/><path d="M479 67L528 138"/><path d="M538 151L478 223"/><path d="M514 163L483 221"/><path d="M478 228L483 230"/><path d="M479 67L512 136"/><path d="M448 108L512 136"/><path d="M472 76L523 114"/><path d="M396 161L472 50"/><path d="M472 76L508 140"/><path d="M391 158L469 108"/><path d="M451 97L463 101"/><path d="M448 108L474 124"/><path d="M472 76L528 138"/><path d="M512 136L484 225"/><path d="M450 110L520 142"/><path d="M491 63L472 76"/><path d="M450 110L480 229"/><path d="M534 144L488 227"/><path d="M391 158L479 67"/><path d="M430 115L488 230"/><path d="M490 71L483 221"/><path d="M497 57L479 118"/><path d="M418 115L430 115"/><path d="M471 224L484 225"/><path d="M531 126L512 136"/><path d="M479 67L503 145"/><path d="M390 162L526 131"/><path d="M472 50L528 138"/><path d="M410 150L488 227"/><path d="M396 148L468 184"/><path d="M396 161L531 126"/><path d="M398 157L497 168"/><path d="M410 150L520 124"/><path d="M432 116L451 97"/><path d="M520 124L478 223"/><path d="M478 125L483 230"/><path d="M396 148L414 161"/><path d="M399 144L507 52"/><path d="M490 71L497 168"/><path d="M464 95L490 177"/><path d="M406 159L468 184"/><path d="M448 108L487 117"/><path d="M405 168L471 224"/><path d="M410 150L538 132"/><path d="M384 158L471 224"/><path d="M406 159L475 107"/><path d="M448 108L486 109"/><path d="M410 150L497 57"/><path d="M514 131L520 142"/><path d="M451 97L490 71"/><path d="M393 152L398 170"/><path d="M479 76L503 132"/><path d="M491 63L520 124"/><path d="M538 132L484 225"/><path d="M430 115L469 108"/><path d="M406 159L473 96"/><path d="M474 124L480 176"/><path d="M418 115L520 142"/><path d="M390 162L425 149"/><path d="M405 168L541 144"/><path d="M497 57L469 164"/>
</g>
<g fill="#222"><circle cx="472.2" cy="49.5" r="0.55"/><circle cx="493.4" cy="44.9" r="0.55"/><circle cx="484.1" cy="56.8" r="0.55"/><circle cx="497.4" cy="57.4" r="0.55"/><circle cx="507.3" cy="52.1" r="0.55"/><circle cx="490.7" cy="63.4" r="0.55"/><circle cx="478.8" cy="67.4" r="0.55"/><circle cx="474.9" cy="71.3" r="0.55"/><circle cx="472.3" cy="75.9" r="0.55"/><circle cx="473.6" cy="85.0" r="0.55"/><circle cx="474.1" cy="90.0" r="0.55"/><circle cx="472.7" cy="96.4" r="0.55"/><circle cx="478.6" cy="76.4" r="0.55"/><circle cx="482.3" cy="77.3" r="0.55"/><circle cx="490.0" cy="71.4" r="0.55"/><circle cx="464.3" cy="94.6" r="0.55"/><circle cx="462.6" cy="101.2" r="0.55"/><circle cx="465.9" cy="103.6" r="0.55"/><circle cx="470.8" cy="102.8" r="0.55"/><circle cx="474.1" cy="96.3" r="0.55"/><circle cx="483.1" cy="102.0" r="0.55"/><circle cx="485.5" cy="89.7" r="0.55"/><circle cx="459.4" cy="110.2" r="0.55"/><circle cx="465.1" cy="108.5" r="0.55"/><circle cx="469.2" cy="107.7" r="0.55"/><circle cx="474.9" cy="106.9" r="0.55"/><circle cx="482.3" cy="107.7" r="0.55"/><circle cx="485.5" cy="109.4" r="0.55"/><circle cx="470.8" cy="114.3" r="0.55"/><circle cx="474.1" cy="118.4" r="0.55"/><circle cx="479.0" cy="118.4" r="0.55"/><circle cx="469.2" cy="118.4" r="0.55"/><circle cx="464.3" cy="117.5" r="0.55"/><circle cx="474.1" cy="124.1" r="0.55"/><circle cx="478.2" cy="124.9" r="0.55"/><circle cx="487.2" cy="116.7" r="0.55"/><circle cx="495.4" cy="112.6" r="0.55"/><circle cx="501.1" cy="121.6" r="0.55"/><circle cx="490.5" cy="118.4" r="0.55"/><circle cx="462.7" cy="151.8" r="0.55"/><circle cx="458.2" cy="164.5" r="0.55"/><circle cx="463.6" cy="168.2" r="0.55"/><circle cx="469.1" cy="164.5" r="0.55"/><circle cx="470.9" cy="174.5" r="0.55"/><circle cx="468.2" cy="184.5" r="0.55"/><circle cx="472.7" cy="161.8" r="0.55"/><circle cx="478.2" cy="150.0" r="0.55"/><circle cx="484.5" cy="147.3" r="0.55"/><circle cx="488.2" cy="151.8" r="0.55"/><circle cx="486.4" cy="159.1" r="0.55"/><circle cx="480.0" cy="176.4" r="0.55"/><circle cx="490.0" cy="177.3" r="0.55"/><circle cx="497.3" cy="168.2" r="0.55"/><circle cx="506.4" cy="157.3" r="0.55"/><circle cx="513.6" cy="162.7" r="0.55"/><circle cx="503.6" cy="166.4" r="0.55"/><circle cx="473.6" cy="146.4" r="0.55"/><circle cx="523.0" cy="113.8" r="0.55"/><circle cx="520.0" cy="124.3" r="0.55"/><circle cx="531.2" cy="125.8" r="0.55"/><circle cx="538.0" cy="131.8" r="0.55"/><circle cx="526.0" cy="131.0" r="0.55"/><circle cx="514.0" cy="131.0" r="0.55"/><circle cx="509.5" cy="126.5" r="0.55"/><circle cx="502.7" cy="131.8" r="0.55"/><circle cx="512.5" cy="135.5" r="0.55"/><circle cx="508.0" cy="140.0" r="0.55"/><circle cx="502.7" cy="145.2" r="0.55"/><circle cx="527.5" cy="137.8" r="0.55"/><circle cx="533.5" cy="144.5" r="0.55"/><circle cx="541.0" cy="144.5" r="0.55"/><circle cx="543.2" cy="156.5" r="0.55"/><circle cx="538.0" cy="151.2" r="0.55"/><circle cx="520.0" cy="142.2" r="0.55"/><circle cx="545.3" cy="141.5" r="0.55"/><circle cx="393.3" cy="151.8" r="0.55"/><circle cx="399.1" cy="143.8" r="0.55"/><circle cx="396.2" cy="147.5" r="0.55"/><circle cx="383.8" cy="157.6" r="0.55"/><circle cx="391.1" cy="157.6" r="0.55"/><circle cx="397.6" cy="156.9" r="0.55"/><circle cx="405.6" cy="153.3" r="0.55"/><circle cx="410.0" cy="150.4" r="0.55"/><circle cx="415.1" cy="153.3" r="0.55"/><circle cx="423.1" cy="144.5" r="0.55"/><circle cx="390.4" cy="162.0" r="0.55"/><circle cx="395.5" cy="161.3" r="0.55"/><circle cx="401.3" cy="162.7" r="0.55"/><circle cx="405.6" cy="159.1" r="0.55"/><circle cx="399.1" cy="164.2" r="0.55"/><circle cx="404.9" cy="168.5" r="0.55"/><circle cx="397.6" cy="170.0" r="0.55"/><circle cx="413.6" cy="161.3" r="0.55"/><circle cx="425.0" cy="149.0" r="0.55"/><circle cx="423.6" cy="99.0" r="0.55"/><circle cx="406.9" cy="113.5" r="0.55"/><circle cx="418.5" cy="115.0" r="0.55"/><circle cx="430.2" cy="115.4" r="0.55"/><circle cx="432.4" cy="116.0" r="0.55"/><circle cx="436.7" cy="113.5" r="0.55"/><circle cx="451.3" cy="96.8" r="0.55"/><circle cx="448.4" cy="107.7" r="0.55"/><circle cx="449.8" cy="109.6" r="0.55"/><circle cx="482.7" cy="220.7" r="0.55"/><circle cx="471.3" cy="224.0" r="0.55"/><circle cx="477.8" cy="222.9" r="0.55"/><circle cx="477.8" cy="228.4" r="0.55"/><circle cx="480.5" cy="228.9" r="0.55"/><circle cx="482.7" cy="230.5" r="0.55"/><circle cx="487.6" cy="227.3" r="0.55"/><circle cx="488.2" cy="230.0" r="0.55"/><circle cx="484.0" cy="225.0" r="0.55"/></g>
</g>
<text x="123.5" y="268.6" class="lab">(<tspan font-weight="bold">a</tspan>)</text>
<g transform="translate(296.5,0)"><text x="10.8" y="8.3" class="lt">Legend</text>
<circle cx="16.3" cy="16.2" r="0.6" fill="#000"/>
<text x="24.3" y="18.2" class="li">City</text>
<line x1="10.2" y1="24.6" x2="22.3" y2="24.6" stroke="#bbb" stroke-width="0.5"/>
<text x="24.3" y="26.6" class="li">edge (Investment network)</text>
<rect x="10.3" y="30.20" width="12" height="5.6" fill="#fab8ee" stroke="#c8c8c8" stroke-width="0.4"/>
<text x="24.3" y="34.9" class="li">Guangdong−Hong Kong−Macao Greater Bay Area</text>
<rect x="10.3" y="38.75" width="12" height="5.6" fill="#fde6b8" stroke="#c8c8c8" stroke-width="0.4"/>
<text x="24.3" y="43.5" class="li">Middle Reaches of the Yangtze River</text>
<rect x="10.3" y="47.30" width="12" height="5.6" fill="#fb7070" stroke="#c8c8c8" stroke-width="0.4"/>
<text x="24.3" y="52.0" class="li">Chengdu−Chongqing</text>
<rect x="10.3" y="55.85" width="12" height="5.6" fill="#cdfab8" stroke="#c8c8c8" stroke-width="0.4"/>
<text x="24.3" y="60.6" class="li">Guanzhong Plain</text>
<rect x="10.3" y="64.40" width="12" height="5.6" fill="#b8e4fb" stroke="#c8c8c8" stroke-width="0.4"/>
<text x="24.3" y="69.1" class="li">Beijing−Tianjin−Hebei</text>
<rect x="10.3" y="72.95" width="12" height="5.6" fill="#b2f5dd" stroke="#c8c8c8" stroke-width="0.4"/>
<text x="24.3" y="77.7" class="li">Central Plains</text>
<rect x="10.3" y="81.50" width="12" height="5.6" fill="#fbfab8" stroke="#c8c8c8" stroke-width="0.4"/>
<text x="24.3" y="86.2" class="li">Yangtze River Delta</text>
<rect x="10.3" y="90.05" width="12" height="5.6" fill="#ffffff" stroke="#444" stroke-width="0.6"/>
<text x="24.3" y="94.8" class="li">Province</text>
<g transform="translate(0,0)">
<text x="243" y="11.1" class="na">N</text>
<path d="M245.1,13 L240.5,28.4 L245.1,23.5 Z" fill="#000"/>
<path d="M245.1,13 L249.8,27.8 L245.1,23.5 Z" fill="none" stroke="#000" stroke-width="0.6"/>
</g>
<g transform="translate(0,0)">
<text x="16.7" y="222.5" class="sb">0</text>
<text x="58.2" y="222.5" class="sb">500 km</text>
<path d="M17.7,226.1 V229.4 H62.8 V226.1" fill="none" stroke="#555" stroke-width="0.5"/>
</g></g>
<g transform="translate(0,0)">
<use href="#regions"/>
<g fill="none" stroke="#333" stroke-width="0.38" stroke-opacity="0.45">
<path d="M483 221L448 108"/><path d="M538 132L479 76"/><path d="M475 107L384 158"/><path d="M520 124L512 136"/><path d="M472 50L479 67"/><path d="M488 227L495 113"/><path d="M520 124L490 118"/><path d="M538 132L432 116"/><path d="M484 57L391 158"/><path d="M484 147L480 176"/><path d="M483 221L405 168"/><path d="M497 57L487 117"/><path d="M497 57L491 63"/><path d="M484 57L396 148"/><path d="M483 221L520 124"/><path d="M483 221L473 162"/><path d="M484 57L471 174"/><path d="M484 57L545 142"/><path d="M497 57L423 144"/><path d="M484 57L490 177"/><path d="M483 221L414 161"/><path d="M484 147L478 228"/><path d="M497 57L414 161"/><path d="M484 57L484 225"/><path d="M475 107L543 156"/><path d="M393 152L473 96"/><path d="M538 132L534 144"/><path d="M484 147L484 225"/><path d="M473 96L479 76"/><path d="M520 124L410 150"/><path d="M484 57L514 163"/><path d="M520 124L474 146"/><path d="M497 57L469 118"/><path d="M497 57L390 162"/><path d="M483 221L514 131"/><path d="M520 124L450 110"/><path d="M538 132L465 108"/><path d="M484 147L504 166"/><path d="M484 57L483 102"/><path d="M534 144L514 163"/><path d="M488 227L469 118"/><path d="M484 57L478 150"/><path d="M472 76L482 77"/><path d="M484 147L479 67"/><path d="M538 132L474 146"/><path d="M538 132L469 118"/><path d="M484 147L475 71"/><path d="M508 140L520 142"/><path d="M497 57L501 122"/><path d="M538 132L508 140"/><path d="M483 221L479 76"/><path d="M534 144L506 157"/><path d="M538 132L512 136"/><path d="M483 221L488 152"/><path d="M479 67L473 96"/><path d="M488 227L396 148"/><path d="M538 132L503 132"/><path d="M475 107L514 131"/><path d="M483 102L482 108"/><path d="M488 227L484 57"/><path d="M538 132L490 118"/><path d="M393 152L384 158"/><path d="M484 57L463 152"/><path d="M430 115L425 149"/><path d="M484 57L488 152"/><path d="M538 132L490 71"/><path d="M520 124L478 125"/><path d="M538 132L506 157"/><path d="M523 114L503 132"/><path d="M520 124L514 163"/><path d="M520 124L504 166"/><path d="M484 147L471 174"/><path d="M534 144L405 168"/><path d="M538 132L488 227"/><path d="M393 152L528 138"/><path d="M484 57L541 144"/><path d="M475 107L391 158"/><path d="M475 107L520 142"/><path d="M484 57L479 76"/><path d="M425 149L479 67"/><path d="M483 221L531 126"/><path d="M488 152L497 168"/><path d="M484 147L474 146"/><path d="M484 57L464 168"/><path d="M538 132L538 151"/><path d="M480 176L506 157"/><path d="M484 57L490 71"/><path d="M520 124L503 132"/><path d="M538 132L520 142"/><path d="M497 57L464 118"/><path d="M534 144L478 150"/><path d="M484 57L486 90"/><path d="M484 57L483 221"/><path d="M484 57L474 118"/><path d="M538 132L512 136"/><path d="M538 132L418 115"/><path d="M483 221L466 104"/><path d="M484 57L482 77"/><path d="M484 57L484 147"/><path d="M484 57L405 168"/><path d="M538 132L384 158"/><path d="M534 144L406 159"/><path d="M393 152L418 115"/><path d="M425 149L495 113"/><path d="M534 144L488 230"/><path d="M538 132L510 126"/><path d="M538 132L464 168"/><path d="M466 104L483 102"/><path d="M483 221L459 110"/><path d="M497 57L512 136"/><path d="M475 107L474 146"/><path d="M484 57L488 230"/><path d="M484 57L487 117"/><path d="M475 107L425 149"/><path d="M497 57L425 149"/><path d="M488 227L471 103"/><path d="M483 221L480 176"/><path d="M474 96L478 125"/><path d="M484 57L520 124"/><path d="M463 101L471 103"/><path d="M484 57L474 96"/><path d="M393 152L474 85"/><path d="M538 132L473 162"/><path d="M483 221L484 57"/><path d="M497 57L490 71"/><path d="M484 57L384 158"/><path d="M483 221L410 150"/><path d="M488 227L484 225"/><path d="M484 57L497 57"/><path d="M483 221L506 157"/><path d="M475 107L486 159"/><path d="M484 57L406 153"/><path d="M475 107L531 126"/><path d="M483 221L488 227"/><path d="M493 45L507 52"/><path d="M497 57L406 153"/><path d="M538 132L482 77"/><path d="M484 147L545 142"/><path d="M484 57L483 230"/><path d="M497 57L468 184"/><path d="M484 147L472 76"/><path d="M393 152L406 159"/><path d="M520 124L463 101"/><path d="M483 221L488 230"/><path d="M483 221L464 118"/><path d="M538 132L480 229"/><path d="M497 57L483 230"/><path d="M484 57L469 164"/><path d="M483 221L469 118"/><path d="M393 152L474 118"/><path d="M534 144L484 57"/><path d="M483 221L399 144"/><path d="M483 221L503 132"/><path d="M393 152L450 110"/><path d="M484 147L401 163"/><path d="M464 95L487 117"/><path d="M391 158L399 164"/><path d="M468 184L473 162"/><path d="M484 57L474 85"/><path d="M538 132L450 110"/><path d="M534 144L523 114"/><path d="M497 57L415 153"/><path d="M534 144L480 229"/><path d="M538 132L469 108"/><path d="M538 132L503 145"/><path d="M473 162L478 150"/><path d="M538 132L478 228"/><path d="M484 57L503 132"/><path d="M520 124L484 225"/><path d="M483 221L398 157"/><path d="M430 115L497 168"/><path d="M393 152L483 230"/><path d="M483 221L474 118"/><path d="M484 57L459 110"/><path d="M484 57L399 164"/><path d="M538 132L480 176"/><path d="M483 221L450 110"/><path d="M472 50L491 63"/><path d="M538 132L484 57"/><path d="M484 57L474 124"/><path d="M497 57L458 164"/><path d="M465 108L495 113"/><path d="M488 227L459 110"/><path d="M488 227L503 145"/><path d="M469 108L469 118"/><path d="M393 152L543 156"/><path d="M488 227L486 90"/><path d="M538 132L423 144"/><path d="M484 57L472 76"/><path d="M520 124L396 161"/><path d="M497 57L399 164"/><path d="M538 132L405 168"/><path d="M520 124L488 227"/><path d="M520 124L506 157"/><path d="M483 221L486 109"/><path d="M475 107L474 124"/><path d="M484 57L423 144"/><path d="M538 132L495 113"/><path d="M488 227L507 52"/><path d="M484 57L475 107"/><path d="M520 124L526 131"/><path d="M484 57L398 170"/><path d="M469 164L478 150"/><path d="M483 221L541 144"/><path d="M393 152L469 164"/><path d="M484 57L471 114"/><path d="M483 221L479 67"/><path d="M510 126L503 145"/><path d="M520 124L510 126"/><path d="M484 57L471 224"/><path d="M538 132L472 50"/><path d="M484 147L482 77"/><path d="M538 132L523 114"/><path d="M534 144L448 108"/><path d="M469 118L478 125"/><path d="M484 57L393 152"/><path d="M483 221L501 122"/><path d="M534 144L466 104"/><path d="M520 124L399 144"/><path d="M430 115L472 76"/><path d="M475 107L405 168"/><path d="M483 221L507 52"/><path d="M488 227L490 177"/><path d="M483 221L464 95"/><path d="M538 132L531 126"/><path d="M534 144L465 108"/><path d="M520 124L488 230"/><path d="M483 221L464 168"/><path d="M488 227L538 151"/><path d="M393 152L478 228"/><path d="M483 221L471 103"/><path d="M538 132L396 148"/><path d="M497 57L471 103"/><path d="M514 131L503 132"/><path d="M484 57L479 118"/><path d="M483 221L528 138"/><path d="M538 132L526 131"/><path d="M534 144L474 146"/><path d="M484 57L415 153"/><path d="M393 152L425 149"/><path d="M538 132L486 90"/><path d="M393 152L478 223"/><path d="M475 107L487 117"/><path d="M534 144L528 138"/><path d="M475 107L430 115"/><path d="M483 221L415 153"/><path d="M484 147L471 103"/><path d="M488 227L468 184"/><path d="M475 107L480 229"/><path d="M393 152L407 114"/><path d="M534 144L469 164"/><path d="M484 57L514 131"/><path d="M534 144L490 71"/><path d="M520 124L414 161"/><path d="M484 57L451 97"/><path d="M483 221L484 225"/><path d="M393 152L464 168"/><path d="M488 227L405 168"/><path d="M483 221L479 118"/><path d="M520 124L479 76"/><path d="M497 57L474 90"/><path d="M475 107L478 228"/><path d="M538 132L401 163"/><path d="M483 221L478 228"/><path d="M534 144L541 144"/><path d="M538 132L471 224"/><path d="M538 132L528 138"/><path d="M538 132L425 149"/><path d="M534 144L384 158"/><path d="M483 221L423 144"/><path d="M483 221L486 90"/><path d="M484 57L486 109"/><path d="M538 132L490 177"/><path d="M520 124L459 110"/><path d="M484 57L469 118"/><path d="M484 57L396 161"/><path d="M393 152L478 150"/><path d="M484 147L464 118"/><path d="M534 144L486 109"/><path d="M483 102L465 108"/><path d="M425 149L482 108"/><path d="M538 132L504 166"/><path d="M520 124L486 90"/><path d="M538 132L474 90"/><path d="M484 147L479 118"/><path d="M488 227L528 138"/><path d="M538 132L424 99"/><path d="M425 149L471 174"/><path d="M538 132L463 101"/><path d="M471 114L479 118"/><path d="M520 124L534 144"/><path d="M469 118L487 117"/><path d="M437 114L450 110"/><path d="M484 57L418 115"/><path d="M471 174L480 176"/><path d="M393 152L479 76"/><path d="M484 57L526 131"/><path d="M483 221L495 113"/><path d="M538 132L543 156"/><path d="M538 132L483 221"/><path d="M484 57L474 90"/><path d="M483 221L483 230"/><path d="M484 57L538 151"/><path d="M538 132L472 76"/><path d="M475 107L538 132"/><path d="M483 221L523 114"/><path d="M483 221L469 164"/><path d="M538 132L414 161"/><path d="M475 107L479 76"/><path d="M399 144L399 164"/><path d="M483 221L545 142"/><path d="M538 132L468 184"/><path d="M538 132L514 131"/><path d="M534 144L469 108"/><path d="M488 227L393 152"/><path d="M538 132L469 164"/><path d="M488 227L474 90"/><path d="M484 57L531 126"/><path d="M484 57L520 142"/><path d="M475 107L484 57"/><path d="M538 132L399 144"/><path d="M497 57L545 142"/><path d="M520 124L473 96"/><path d="M483 221L478 150"/><path d="M484 57L504 166"/><path d="M475 107L396 161"/><path d="M483 221L437 114"/><path d="M406 159L425 149"/><path d="M483 221L543 156"/><path d="M484 57L491 63"/><path d="M484 57L488 227"/><path d="M483 221L538 132"/><path d="M486 90L469 108"/><path d="M534 144L487 117"/><path d="M483 221L472 50"/><path d="M497 57L451 97"/><path d="M484 57L410 150"/><path d="M484 57L486 159"/><path d="M484 57L480 176"/><path d="M483 221L514 163"/><path d="M538 132L471 114"/><path d="M483 221L482 77"/><path d="M483 221L463 152"/><path d="M538 132L501 122"/><path d="M520 124L458 164"/><path d="M475 107L508 140"/><path d="M483 221L393 152"/><path d="M538 132L478 125"/><path d="M538 132L406 153"/><path d="M393 152L410 150"/><path d="M484 57L480 229"/><path d="M425 149L510 126"/><path d="M484 57L425 149"/><path d="M497 57L478 125"/><path d="M538 132L464 118"/><path d="M488 227L486 159"/><path d="M483 221L471 114"/><path d="M475 107L483 230"/><path d="M520 124L423 144"/><path d="M497 57L488 152"/><path d="M483 221L399 164"/><path d="M488 227L504 166"/><path d="M488 227L541 144"/><path d="M393 152L391 158"/><path d="M538 132L483 102"/><path d="M466 104L474 124"/><path d="M538 132L497 168"/><path d="M425 149L448 108"/><path d="M484 57L490 118"/><path d="M497 57L466 104"/><path d="M482 108L478 125"/><path d="M475 107L471 224"/><path d="M538 132L484 225"/><path d="M538 132L458 164"/><path d="M497 57L463 152"/><path d="M520 124L471 224"/><path d="M497 57L464 95"/><path d="M488 227L384 158"/><path d="M483 221L520 142"/><path d="M484 57L479 67"/><path d="M484 57L450 110"/><path d="M484 57L469 108"/><path d="M393 152L471 114"/><path d="M432 116L437 114"/><path d="M484 57L401 163"/><path d="M488 227L486 109"/><path d="M497 57L471 224"/><path d="M534 144L510 126"/><path d="M538 132L415 153"/><path d="M484 147L523 114"/><path d="M534 144L520 124"/><path d="M538 132L487 117"/><path d="M484 57L478 223"/><path d="M520 124L464 118"/><path d="M484 57L399 144"/><path d="M430 115L474 124"/><path d="M486 159L474 146"/><path d="M538 132L475 107"/><path d="M396 161L425 149"/><path d="M488 227L503 132"/><path d="M484 147L497 57"/><path d="M483 221L406 159"/><path d="M484 147L478 125"/><path d="M488 227L406 159"/><path d="M483 221L483 102"/><path d="M483 221L391 158"/><path d="M483 221L474 85"/><path d="M463 152L486 159"/><path d="M520 124L391 158"/><path d="M483 221L430 115"/><path d="M484 57L465 108"/><path d="M538 132L474 118"/><path d="M488 227L472 76"/><path d="M484 57L475 71"/><path d="M475 107L480 176"/><path d="M483 221L478 125"/><path d="M538 132L459 110"/><path d="M538 132L520 124"/><path d="M531 126L514 131"/><path d="M484 57L464 95"/><path d="M475 107L475 71"/><path d="M520 124L541 144"/><path d="M538 132L399 164"/><path d="M483 221L490 177"/><path d="M534 144L479 67"/><path d="M475 107L472 76"/><path d="M483 221L503 145"/><path d="M484 57L507 52"/><path d="M483 221L491 63"/><path d="M488 227L410 150"/><path d="M488 227L464 118"/><path d="M538 132L448 108"/><path d="M538 132L541 144"/><path d="M484 147L468 184"/><path d="M488 227L432 116"/><path d="M538 132L451 97"/><path d="M393 152L475 107"/><path d="M393 152L398 157"/><path d="M483 221L425 149"/><path d="M497 57L480 176"/><path d="M497 57L490 118"/><path d="M534 144L497 57"/><path d="M483 221L396 148"/><path d="M488 227L531 126"/><path d="M483 221L534 144"/><path d="M520 124L479 67"/><path d="M406 159L405 168"/><path d="M520 124L507 52"/><path d="M484 147L463 152"/><path d="M497 57L510 126"/><path d="M497 57L396 148"/><path d="M497 57L463 101"/><path d="M538 132L538 132"/><path d="M488 227L391 158"/><path d="M534 144L401 163"/><path d="M538 132L474 85"/><path d="M497 57L459 110"/><path d="M430 115L483 102"/><path d="M483 221L497 168"/><path d="M479 118L478 125"/><path d="M497 57L474 96"/><path d="M484 147L471 224"/><path d="M475 107L473 162"/><path d="M534 144L463 152"/><path d="M488 227L390 162"/><path d="M538 132L475 71"/><path d="M463 101L465 108"/><path d="M393 152L507 52"/><path d="M483 221L493 45"/><path d="M483 221L458 164"/><path d="M393 152L534 144"/><path d="M538 132L437 114"/><path d="M483 221L473 96"/><path d="M488 227L523 114"/><path d="M486 90L465 108"/><path d="M534 144L407 114"/><path d="M538 132L493 45"/><path d="M484 57L464 118"/><path d="M501 122L490 118"/><path d="M488 227L545 142"/><path d="M475 107L474 85"/><path d="M538 132L473 96"/><path d="M538 132L478 223"/><path d="M488 227L474 124"/><path d="M475 107L424 99"/><path d="M534 144L450 110"/><path d="M488 227L463 152"/><path d="M534 144L482 77"/><path d="M538 132L391 158"/><path d="M483 221L510 126"/><path d="M538 132L479 118"/><path d="M488 227L401 163"/><path d="M534 144L495 113"/><path d="M488 227L472 50"/><path d="M538 132L463 152"/><path d="M484 147L473 96"/><path d="M497 57L472 50"/><path d="M538 132L482 108"/><path d="M488 227L474 96"/><path d="M484 57L528 138"/><path d="M484 57L448 108"/><path d="M538 132L497 57"/><path d="M488 227L425 149"/><path d="M534 144L512 136"/><path d="M471 114L501 122"/><path d="M497 57L538 132"/><path d="M471 174L497 168"/><path d="M483 221L486 159"/><path d="M483 221L475 71"/><path d="M484 57L506 157"/><path d="M538 132L528 138"/><path d="M520 124L469 118"/><path d="M484 57L512 136"/><path d="M534 144L393 152"/><path d="M483 221L424 99"/><path d="M488 227L398 170"/><path d="M393 152L415 153"/><path d="M484 57L510 126"/><path d="M483 221L484 147"/><path d="M488 227L469 164"/><path d="M484 57L471 103"/><path d="M497 57L534 144"/><path d="M534 144L475 107"/><path d="M469 164L506 157"/><path d="M497 57L398 170"/><path d="M430 115L463 152"/><path d="M534 144L472 50"/><path d="M483 221L401 163"/><path d="M490 177L497 168"/><path d="M538 132L407 114"/><path d="M520 124L483 221"/><path d="M484 57L424 99"/><path d="M484 57L406 159"/><path d="M425 149L464 168"/><path d="M430 115L437 114"/><path d="M484 57L430 115"/><path d="M484 147L491 63"/><path d="M497 57L471 114"/><path d="M475 107L510 126"/><path d="M538 132L398 157"/><path d="M538 132L396 161"/><path d="M538 132L410 150"/><path d="M430 115L474 85"/><path d="M458 164L473 162"/><path d="M538 132L479 67"/><path d="M538 132L510 126"/><path d="M483 221L407 114"/><path d="M488 227L396 161"/><path d="M393 152L471 224"/><path d="M538 132L471 174"/><path d="M486 90L464 118"/><path d="M534 144L488 227"/><path d="M459 110L486 109"/><path d="M488 227L473 96"/><path d="M538 132L486 159"/><path d="M393 152L399 144"/><path d="M475 107L406 153"/><path d="M538 132L507 52"/><path d="M483 221L463 101"/><path d="M475 107L459 110"/><path d="M484 57L508 140"/><path d="M497 57L469 108"/><path d="M488 227L487 117"/><path d="M488 227L491 63"/><path d="M484 57L495 113"/><path d="M488 227L464 168"/><path d="M488 227L512 136"/><path d="M488 227L520 142"/><path d="M430 115L526 131"/><path d="M484 57L473 96"/><path d="M488 227L469 108"/><path d="M497 57L541 144"/><path d="M488 227L418 115"/><path d="M484 57L437 114"/><path d="M393 152L390 162"/>
</g>
<g fill="#222"><circle cx="472.2" cy="49.5" r="0.55"/><circle cx="493.4" cy="44.9" r="0.55"/><circle cx="484.1" cy="56.8" r="0.55"/><circle cx="497.4" cy="57.4" r="0.55"/><circle cx="507.3" cy="52.1" r="0.55"/><circle cx="490.7" cy="63.4" r="0.55"/><circle cx="478.8" cy="67.4" r="0.55"/><circle cx="474.9" cy="71.3" r="0.55"/><circle cx="472.3" cy="75.9" r="0.55"/><circle cx="473.6" cy="85.0" r="0.55"/><circle cx="474.1" cy="90.0" r="0.55"/><circle cx="472.7" cy="96.4" r="0.55"/><circle cx="478.6" cy="76.4" r="0.55"/><circle cx="482.3" cy="77.3" r="0.55"/><circle cx="490.0" cy="71.4" r="0.55"/><circle cx="464.3" cy="94.6" r="0.55"/><circle cx="462.6" cy="101.2" r="0.55"/><circle cx="465.9" cy="103.6" r="0.55"/><circle cx="470.8" cy="102.8" r="0.55"/><circle cx="474.1" cy="96.3" r="0.55"/><circle cx="483.1" cy="102.0" r="0.55"/><circle cx="485.5" cy="89.7" r="0.55"/><circle cx="459.4" cy="110.2" r="0.55"/><circle cx="465.1" cy="108.5" r="0.55"/><circle cx="469.2" cy="107.7" r="0.55"/><circle cx="474.9" cy="106.9" r="0.55"/><circle cx="482.3" cy="107.7" r="0.55"/><circle cx="485.5" cy="109.4" r="0.55"/><circle cx="470.8" cy="114.3" r="0.55"/><circle cx="474.1" cy="118.4" r="0.55"/><circle cx="479.0" cy="118.4" r="0.55"/><circle cx="469.2" cy="118.4" r="0.55"/><circle cx="464.3" cy="117.5" r="0.55"/><circle cx="474.1" cy="124.1" r="0.55"/><circle cx="478.2" cy="124.9" r="0.55"/><circle cx="487.2" cy="116.7" r="0.55"/><circle cx="495.4" cy="112.6" r="0.55"/><circle cx="501.1" cy="121.6" r="0.55"/><circle cx="490.5" cy="118.4" r="0.55"/><circle cx="462.7" cy="151.8" r="0.55"/><circle cx="458.2" cy="164.5" r="0.55"/><circle cx="463.6" cy="168.2" r="0.55"/><circle cx="469.1" cy="164.5" r="0.55"/><circle cx="470.9" cy="174.5" r="0.55"/><circle cx="468.2" cy="184.5" r="0.55"/><circle cx="472.7" cy="161.8" r="0.55"/><circle cx="478.2" cy="150.0" r="0.55"/><circle cx="484.5" cy="147.3" r="0.55"/><circle cx="488.2" cy="151.8" r="0.55"/><circle cx="486.4" cy="159.1" r="0.55"/><circle cx="480.0" cy="176.4" r="0.55"/><circle cx="490.0" cy="177.3" r="0.55"/><circle cx="497.3" cy="168.2" r="0.55"/><circle cx="506.4" cy="157.3" r="0.55"/><circle cx="513.6" cy="162.7" r="0.55"/><circle cx="503.6" cy="166.4" r="0.55"/><circle cx="473.6" cy="146.4" r="0.55"/><circle cx="523.0" cy="113.8" r="0.55"/><circle cx="520.0" cy="124.3" r="0.55"/><circle cx="531.2" cy="125.8" r="0.55"/><circle cx="538.0" cy="131.8" r="0.55"/><circle cx="526.0" cy="131.0" r="0.55"/><circle cx="514.0" cy="131.0" r="0.55"/><circle cx="509.5" cy="126.5" r="0.55"/><circle cx="502.7" cy="131.8" r="0.55"/><circle cx="512.5" cy="135.5" r="0.55"/><circle cx="508.0" cy="140.0" r="0.55"/><circle cx="502.7" cy="145.2" r="0.55"/><circle cx="527.5" cy="137.8" r="0.55"/><circle cx="533.5" cy="144.5" r="0.55"/><circle cx="541.0" cy="144.5" r="0.55"/><circle cx="543.2" cy="156.5" r="0.55"/><circle cx="538.0" cy="151.2" r="0.55"/><circle cx="520.0" cy="142.2" r="0.55"/><circle cx="545.3" cy="141.5" r="0.55"/><circle cx="393.3" cy="151.8" r="0.55"/><circle cx="399.1" cy="143.8" r="0.55"/><circle cx="396.2" cy="147.5" r="0.55"/><circle cx="383.8" cy="157.6" r="0.55"/><circle cx="391.1" cy="157.6" r="0.55"/><circle cx="397.6" cy="156.9" r="0.55"/><circle cx="405.6" cy="153.3" r="0.55"/><circle cx="410.0" cy="150.4" r="0.55"/><circle cx="415.1" cy="153.3" r="0.55"/><circle cx="423.1" cy="144.5" r="0.55"/><circle cx="390.4" cy="162.0" r="0.55"/><circle cx="395.5" cy="161.3" r="0.55"/><circle cx="401.3" cy="162.7" r="0.55"/><circle cx="405.6" cy="159.1" r="0.55"/><circle cx="399.1" cy="164.2" r="0.55"/><circle cx="404.9" cy="168.5" r="0.55"/><circle cx="397.6" cy="170.0" r="0.55"/><circle cx="413.6" cy="161.3" r="0.55"/><circle cx="425.0" cy="149.0" r="0.55"/><circle cx="423.6" cy="99.0" r="0.55"/><circle cx="406.9" cy="113.5" r="0.55"/><circle cx="418.5" cy="115.0" r="0.55"/><circle cx="430.2" cy="115.4" r="0.55"/><circle cx="432.4" cy="116.0" r="0.55"/><circle cx="436.7" cy="113.5" r="0.55"/><circle cx="451.3" cy="96.8" r="0.55"/><circle cx="448.4" cy="107.7" r="0.55"/><circle cx="449.8" cy="109.6" r="0.55"/><circle cx="482.7" cy="220.7" r="0.55"/><circle cx="471.3" cy="224.0" r="0.55"/><circle cx="477.8" cy="222.9" r="0.55"/><circle cx="477.8" cy="228.4" r="0.55"/><circle cx="480.5" cy="228.9" r="0.55"/><circle cx="482.7" cy="230.5" r="0.55"/><circle cx="487.6" cy="227.3" r="0.55"/><circle cx="488.2" cy="230.0" r="0.55"/><circle cx="484.0" cy="225.0" r="0.55"/></g>
</g>
<text x="418.8" y="268.6" class="lab">(<tspan font-weight="bold">b</tspan>)</text>
<g transform="translate(-1.7,292.0)"><text x="10.8" y="8.3" class="lt">Legend</text>
<circle cx="16.3" cy="16.2" r="0.6" fill="#000"/>
<text x="24.3" y="18.2" class="li">City</text>
<line x1="10.2" y1="24.6" x2="22.3" y2="24.6" stroke="#bbb" stroke-width="0.5"/>
<text x="24.3" y="26.6" class="li">edge (High−speed rail network)</text>
<rect x="10.3" y="30.20" width="12" height="5.6" fill="#fab8ee" stroke="#c8c8c8" stroke-width="0.4"/>
<text x="24.3" y="34.9" class="li">Guangdong−Hong Kong−Macao Greater Bay Area</text>
<rect x="10.3" y="38.75" width="12" height="5.6" fill="#fde6b8" stroke="#c8c8c8" stroke-width="0.4"/>
<text x="24.3" y="43.5" class="li">Middle Reaches of the Yangtze River</text>
<rect x="10.3" y="47.30" width="12" height="5.6" fill="#fb7070" stroke="#c8c8c8" stroke-width="0.4"/>
<text x="24.3" y="52.0" class="li">Chengdu−Chongqing</text>
<rect x="10.3" y="55.85" width="12" height="5.6" fill="#cdfab8" stroke="#c8c8c8" stroke-width="0.4"/>
<text x="24.3" y="60.6" class="li">Guanzhong Plain</text>
<rect x="10.3" y="64.40" width="12" height="5.6" fill="#b8e4fb" stroke="#c8c8c8" stroke-width="0.4"/>
<text x="24.3" y="69.1" class="li">Beijing−Tianjin−Hebei</text>
<rect x="10.3" y="72.95" width="12" height="5.6" fill="#b2f5dd" stroke="#c8c8c8" stroke-width="0.4"/>
<text x="24.3" y="77.7" class="li">Central Plains</text>
<rect x="10.3" y="81.50" width="12" height="5.6" fill="#fbfab8" stroke="#c8c8c8" stroke-width="0.4"/>
<text x="24.3" y="86.2" class="li">Yangtze River Delta</text>
<rect x="10.3" y="90.05" width="12" height="5.6" fill="#ffffff" stroke="#c8c8c8" stroke-width="0.4"/>
<text x="24.3" y="94.8" class="li">Province</text>
<g transform="translate(1.7,0)">
<text x="243" y="11.1" class="na">N</text>
<path d="M245.1,13 L240.5,28.4 L245.1,23.5 Z" fill="#000"/>
<path d="M245.1,13 L249.8,27.8 L245.1,23.5 Z" fill="none" stroke="#000" stroke-width="0.6"/>
</g>
<g transform="translate(0,1.0)">
<text x="16.7" y="222.5" class="sb">0</text>
<text x="58.2" y="222.5" class="sb">500 km</text>
<path d="M17.7,226.1 V229.4 H62.8 V226.1" fill="none" stroke="#555" stroke-width="0.5"/>
</g></g>
<g transform="translate(-296.5,292.0)">
<use href="#regions"/>
<g fill="none" stroke="#333" stroke-width="0.4" stroke-opacity="0.45">
<path d="M486 109L487 117"/><path d="M490 118L483 221"/><path d="M407 114L531 126"/><path d="M526 131L503 145"/><path d="M484 147L514 163"/><path d="M484 147L526 131"/><path d="M463 152L484 147"/><path d="M514 131L503 145"/><path d="M464 118L487 117"/><path d="M475 107L488 227"/><path d="M473 96L510 126"/><path d="M471 174L545 142"/><path d="M528 138L483 221"/><path d="M523 114L534 144"/><path d="M418 115L487 117"/><path d="M478 223L488 227"/><path d="M474 146L538 132"/><path d="M478 228L484 225"/><path d="M484 57L491 63"/><path d="M528 138L545 142"/><path d="M486 159L534 144"/><path d="M423 144L483 221"/><path d="M430 115L495 113"/><path d="M471 174L510 126"/><path d="M463 152L458 164"/><path d="M514 131L534 144"/><path d="M474 96L487 117"/><path d="M393 152L451 97"/><path d="M393 152L520 124"/><path d="M514 163L520 124"/><path d="M479 118L473 162"/><path d="M474 85L510 126"/><path d="M464 118L490 177"/><path d="M471 174L534 144"/><path d="M487 117L488 227"/><path d="M538 132L528 138"/><path d="M393 152L432 116"/><path d="M543 156L488 227"/><path d="M399 164L514 163"/><path d="M514 131L528 138"/><path d="M398 170L510 126"/><path d="M508 140L528 138"/><path d="M450 110L531 126"/><path d="M510 126L538 151"/><path d="M414 161L495 113"/><path d="M479 118L545 142"/><path d="M475 107L538 132"/><path d="M473 162L478 223"/><path d="M464 95L473 162"/><path d="M497 168L528 138"/><path d="M483 102L471 174"/><path d="M406 159L538 151"/><path d="M482 108L510 126"/><path d="M520 124L520 142"/><path d="M538 132L526 131"/><path d="M469 108L474 118"/><path d="M463 152L483 221"/><path d="M464 95L526 131"/><path d="M474 146L483 221"/><path d="M473 162L490 177"/><path d="M475 71L488 227"/><path d="M484 57L528 138"/><path d="M487 117L464 168"/><path d="M464 118L514 163"/><path d="M543 156L545 142"/><path d="M483 221L478 228"/><path d="M475 107L483 221"/><path d="M510 126L534 144"/><path d="M396 148L486 159"/><path d="M425 149L486 90"/><path d="M390 162L504 166"/><path d="M424 99L484 57"/><path d="M490 118L488 152"/><path d="M393 152L391 158"/><path d="M393 152L448 108"/><path d="M503 132L545 142"/><path d="M393 152L430 115"/><path d="M393 152L474 146"/><path d="M474 90L475 107"/><path d="M528 138L543 156"/><path d="M514 163L504 166"/><path d="M497 168L520 142"/><path d="M471 174L538 132"/><path d="M474 96L534 144"/><path d="M425 149L478 150"/><path d="M473 162L484 147"/><path d="M425 149L520 124"/><path d="M390 162L520 124"/><path d="M384 158L406 153"/><path d="M497 168L483 221"/><path d="M469 108L469 164"/><path d="M464 168L471 174"/><path d="M430 115L486 90"/><path d="M469 164L488 227"/><path d="M506 157L534 144"/><path d="M497 57L520 124"/><path d="M486 90L545 142"/><path d="M451 97L474 146"/><path d="M469 118L510 126"/><path d="M538 132L514 131"/><path d="M393 152L484 147"/><path d="M512 136L545 142"/><path d="M483 102L463 152"/><path d="M471 174L473 162"/><path d="M504 166L483 221"/><path d="M475 107L474 146"/><path d="M483 221L483 230"/><path d="M423 144L451 97"/><path d="M484 147L483 221"/><path d="M471 103L483 230"/><path d="M465 108L490 118"/><path d="M469 164L480 176"/><path d="M391 158L484 147"/><path d="M424 99L459 110"/><path d="M493 45L497 57"/><path d="M425 149L486 159"/><path d="M471 114L506 157"/><path d="M390 162L538 132"/><path d="M497 168L531 126"/><path d="M474 85L483 221"/><path d="M487 117L471 174"/><path d="M474 146L545 142"/><path d="M459 110L479 118"/><path d="M432 116L474 124"/><path d="M495 113L473 162"/><path d="M474 124L538 132"/><path d="M401 163L471 174"/><path d="M399 164L541 144"/><path d="M508 140L545 142"/><path d="M497 168L483 230"/><path d="M484 147L545 142"/><path d="M393 152L406 159"/><path d="M399 144L471 174"/><path d="M484 57L478 125"/><path d="M490 177L520 124"/><path d="M514 163L483 221"/><path d="M398 157L423 144"/><path d="M432 116L451 97"/><path d="M474 90L514 131"/><path d="M484 147L484 225"/><path d="M393 152L480 176"/><path d="M405 168L478 150"/><path d="M479 67L473 162"/><path d="M393 152L514 163"/><path d="M512 136L503 145"/><path d="M399 164L545 142"/><path d="M414 161L504 166"/><path d="M423 144L474 85"/><path d="M474 96L538 132"/><path d="M483 221L488 230"/><path d="M463 101L463 152"/><path d="M528 138L534 144"/><path d="M425 149L437 114"/><path d="M484 57L471 114"/><path d="M474 96L520 124"/><path d="M543 156L520 142"/><path d="M423 144L488 152"/><path d="M506 157L488 230"/><path d="M415 153L425 149"/><path d="M479 118L503 132"/><path d="M490 71L464 95"/><path d="M425 149L469 164"/><path d="M393 152L458 164"/><path d="M534 144L483 221"/><path d="M484 147L497 168"/><path d="M486 90L503 132"/><path d="M414 161L425 149"/><path d="M484 147L520 142"/><path d="M396 148L510 126"/><path d="M398 157L424 99"/><path d="M423 144L484 147"/><path d="M504 166L545 142"/><path d="M475 71L495 113"/><path d="M425 149L538 132"/><path d="M423 144L538 132"/><path d="M424 99L501 122"/><path d="M430 115L465 108"/><path d="M483 102L495 113"/><path d="M484 57L463 101"/><path d="M479 67L484 147"/><path d="M407 114L479 67"/><path d="M472 76L475 107"/><path d="M475 107L526 131"/><path d="M465 108L514 163"/><path d="M479 67L488 227"/><path d="M471 114L487 117"/><path d="M483 102L479 118"/><path d="M495 113L483 230"/><path d="M430 115L545 142"/><path d="M391 158L406 153"/><path d="M469 108L478 125"/><path d="M486 109L480 176"/><path d="M475 107L490 118"/><path d="M483 221L484 225"/><path d="M526 131L503 132"/><path d="M464 95L463 101"/><path d="M396 148L471 174"/><path d="M478 150L488 227"/><path d="M510 126L512 136"/><path d="M482 108L478 228"/><path d="M474 118L538 132"/><path d="M396 148L414 161"/><path d="M506 157L520 124"/><path d="M469 108L464 118"/><path d="M474 118L469 118"/><path d="M497 57L474 118"/><path d="M538 132L543 156"/><path d="M486 90L475 107"/><path d="M458 164L534 144"/><path d="M393 152L396 148"/><path d="M406 159L471 174"/><path d="M393 152L526 131"/><path d="M465 108L471 174"/><path d="M482 108L483 221"/><path d="M471 224L488 227"/><path d="M475 107L538 151"/><path d="M483 221L480 229"/><path d="M478 150L514 131"/><path d="M471 174L503 132"/><path d="M469 164L483 221"/><path d="M475 107L534 144"/><path d="M464 168L538 132"/><path d="M468 184L531 126"/><path d="M486 90L486 109"/><path d="M538 132L503 132"/><path d="M384 158L468 184"/><path d="M472 50L490 71"/><path d="M484 57L501 122"/><path d="M484 57L523 114"/><path d="M474 96L484 147"/><path d="M390 162L487 117"/><path d="M474 124L484 147"/><path d="M484 147L480 176"/><path d="M396 161L430 115"/><path d="M399 144L464 95"/><path d="M390 162L508 140"/><path d="M520 124L512 136"/><path d="M393 152L468 184"/><path d="M464 118L490 118"/><path d="M474 146L510 126"/><path d="M474 96L459 110"/><path d="M474 90L471 174"/><path d="M480 176L474 146"/><path d="M479 76L471 174"/><path d="M430 115L538 132"/><path d="M484 57L475 107"/><path d="M393 152L503 145"/><path d="M478 150L497 168"/><path d="M482 108L479 118"/><path d="M406 153L478 150"/><path d="M425 149L488 152"/><path d="M484 57L497 168"/><path d="M497 57L484 147"/><path d="M399 164L510 126"/><path d="M484 57L490 177"/><path d="M463 101L486 90"/><path d="M459 110L490 118"/><path d="M484 57L508 140"/><path d="M508 140L543 156"/><path d="M464 168L486 159"/><path d="M520 124L538 151"/><path d="M475 107L474 118"/><path d="M471 174L483 221"/><path d="M514 131L545 142"/><path d="M483 102L538 132"/><path d="M483 102L480 176"/><path d="M465 108L520 124"/><path d="M393 152L486 159"/><path d="M415 153L458 164"/><path d="M479 67L520 124"/><path d="M464 168L528 138"/><path d="M393 152L398 157"/><path d="M483 102L490 177"/><path d="M486 109L538 132"/><path d="M463 152L506 157"/><path d="M469 108L484 147"/><path d="M430 115L458 164"/><path d="M490 177L545 142"/><path d="M471 103L474 96"/><path d="M450 110L486 109"/><path d="M484 57L483 221"/><path d="M464 168L483 221"/><path d="M479 76L526 131"/><path d="M425 149L475 107"/><path d="M398 157L410 150"/><path d="M415 153L486 159"/><path d="M478 150L543 156"/><path d="M464 168L520 124"/><path d="M384 158L448 108"/><path d="M393 152L506 157"/><path d="M475 107L469 118"/><path d="M520 124L531 126"/><path d="M399 144L474 146"/><path d="M475 107L520 124"/><path d="M538 132L534 144"/><path d="M538 132L545 142"/><path d="M482 108L469 118"/><path d="M480 229L488 227"/><path d="M475 107L501 122"/><path d="M478 150L541 144"/><path d="M393 152L534 144"/><path d="M430 115L528 138"/><path d="M424 99L469 108"/><path d="M484 57L484 225"/><path d="M484 57L514 131"/><path d="M451 97L490 118"/><path d="M541 144L545 142"/><path d="M469 108L486 159"/><path d="M501 122L497 168"/><path d="M465 108L474 124"/><path d="M469 108L538 132"/><path d="M430 115L490 118"/><path d="M471 103L488 152"/><path d="M399 144L463 152"/><path d="M410 150L425 149"/><path d="M406 159L425 149"/><path d="M458 164L488 227"/><path d="M538 132L508 140"/><path d="M482 108L480 176"/><path d="M534 144L543 156"/><path d="M475 107L497 168"/><path d="M474 96L483 221"/><path d="M475 107L523 114"/><path d="M393 152L508 140"/><path d="M506 157L545 142"/><path d="M469 164L484 147"/><path d="M398 157L534 144"/><path d="M475 107L488 152"/><path d="M406 153L425 149"/><path d="M390 162L468 184"/><path d="M483 102L545 142"/><path d="M526 131L508 140"/><path d="M503 145L483 221"/><path d="M490 71L488 227"/><path d="M479 67L478 125"/><path d="M478 125L469 164"/><path d="M490 177L520 142"/><path d="M463 101L486 109"/><path d="M484 57L464 168"/><path d="M497 57L474 124"/><path d="M484 57L463 152"/><path d="M393 152L510 126"/><path d="M478 150L483 221"/><path d="M510 126L508 140"/><path d="M463 101L483 230"/><path d="M475 107L464 118"/><path d="M464 118L510 126"/><path d="M534 144L541 144"/><path d="M466 104L484 147"/><path d="M459 110L475 107"/><path d="M475 107L478 125"/><path d="M483 230L484 225"/><path d="M390 162L425 149"/><path d="M401 163L545 142"/><path d="M497 57L495 113"/><path d="M430 115L501 122"/><path d="M514 163L512 136"/><path d="M487 117L545 142"/><path d="M424 99L475 71"/><path d="M396 148L545 142"/><path d="M510 126L503 132"/><path d="M401 163L484 147"/><path d="M484 57L510 126"/><path d="M507 52L483 230"/><path d="M471 114L474 124"/><path d="M491 63L510 126"/><path d="M495 113L484 147"/><path d="M459 110L520 124"/><path d="M484 57L464 118"/><path d="M486 90L514 163"/><path d="M474 146L512 136"/><path d="M475 107L512 136"/><path d="M491 63L484 147"/><path d="M406 153L475 107"/><path d="M538 132L520 142"/><path d="M543 156L538 151"/><path d="M474 118L545 142"/><path d="M479 118L538 132"/><path d="M384 158L471 174"/><path d="M484 57L512 136"/><path d="M484 57L520 124"/><path d="M406 153L520 142"/><path d="M538 132L503 145"/><path d="M520 124L488 227"/><path d="M393 152L484 57"/><path d="M471 174L480 176"/><path d="M474 146L526 131"/><path d="M384 158L487 117"/><path d="M406 153L538 132"/><path d="M538 132L488 227"/><path d="M399 164L425 149"/><path d="M396 148L415 153"/><path d="M468 184L503 145"/><path d="M490 177L474 146"/><path d="M487 117L490 118"/><path d="M506 157L538 132"/><path d="M396 161L506 157"/><path d="M424 99L471 114"/><path d="M437 114L475 107"/><path d="M520 124L478 223"/><path d="M393 152L469 118"/><path d="M520 124L510 126"/><path d="M430 115L541 144"/><path d="M487 117L463 152"/><path d="M463 152L526 131"/><path d="M506 157L508 140"/><path d="M471 174L512 136"/><path d="M464 118L464 168"/><path d="M398 170L503 132"/><path d="M488 152L531 126"/><path d="M471 174L520 124"/><path d="M490 177L510 126"/><path d="M472 76L512 136"/><path d="M490 177L488 230"/><path d="M478 150L538 132"/><path d="M520 124L526 131"/><path d="M475 107L463 152"/><path d="M504 166L508 140"/><path d="M479 118L512 136"/><path d="M490 177L497 168"/><path d="M483 102L469 108"/><path d="M464 95L459 110"/><path d="M484 147L488 230"/><path d="M471 174L497 168"/><path d="M458 164L471 174"/><path d="M393 152L405 168"/><path d="M520 124L483 230"/><path d="M475 107L510 126"/><path d="M466 104L514 163"/><path d="M520 124L503 145"/><path d="M520 124L545 142"/><path d="M497 57L474 85"/><path d="M405 168L471 174"/><path d="M474 124L495 113"/><path d="M523 114L538 132"/><path d="M484 57L484 147"/><path d="M520 124L483 221"/><path d="M424 99L430 115"/><path d="M437 114L451 97"/><path d="M471 174L468 184"/><path d="M437 114L497 168"/><path d="M484 147L488 152"/><path d="M479 76L474 118"/><path d="M471 174L508 140"/><path d="M393 152L488 152"/><path d="M469 108L504 166"/><path d="M474 118L490 177"/><path d="M520 124L528 138"/><path d="M472 76L463 101"/><path d="M390 162L424 99"/><path d="M463 101L495 113"/><path d="M471 174L531 126"/><path d="M406 159L538 132"/><path d="M497 57L520 142"/><path d="M469 164L471 174"/><path d="M393 152L541 144"/><path d="M534 144L520 142"/><path d="M425 149L510 126"/><path d="M478 125L488 230"/><path d="M466 104L486 109"/><path d="M430 115L497 57"/><path d="M430 115L479 118"/><path d="M486 109L534 144"/><path d="M484 57L474 96"/><path d="M463 101L545 142"/><path d="M390 162L471 174"/><path d="M482 108L497 168"/><path d="M393 152L504 166"/><path d="M523 114L488 227"/><path d="M459 110L478 125"/><path d="M468 184L512 136"/><path d="M466 104L486 90"/><path d="M393 152L450 110"/><path d="M475 71L483 230"/><path d="M396 148L384 158"/><path d="M471 103L531 126"/><path d="M464 95L488 227"/><path d="M486 159L510 126"/><path d="M410 150L534 144"/><path d="M393 152L463 152"/><path d="M469 118L471 174"/><path d="M458 164L520 124"/><path d="M430 115L448 108"/><path d="M463 101L484 225"/><path d="M520 124L508 140"/><path d="M478 150L486 159"/><path d="M471 114L538 132"/><path d="M475 107L480 229"/><path d="M503 145L483 230"/><path d="M469 118L541 144"/><path d="M471 174L488 227"/><path d="M514 163L526 131"/><path d="M510 126L545 142"/><path d="M450 110L490 118"/><path d="M451 97L450 110"/><path d="M468 184L484 147"/><path d="M399 144L458 164"/><path d="M480 176L478 223"/><path d="M538 132L541 144"/><path d="M469 164L528 138"/><path d="M430 115L475 107"/><path d="M410 150L406 159"/><path d="M469 108L471 224"/><path d="M466 104L538 132"/><path d="M475 107L531 126"/><path d="M480 176L538 132"/><path d="M414 161L545 142"/><path d="M450 110L510 126"/><path d="M484 147L474 146"/><path d="M399 164L474 124"/><path d="M475 107L478 150"/><path d="M495 113L538 132"/><path d="M469 164L506 157"/><path d="M469 164L486 159"/><path d="M393 152L520 142"/><path d="M472 50L484 57"/><path d="M523 114L514 131"/><path d="M451 97L538 132"/><path d="M390 162L484 147"/><path d="M418 115L463 101"/><path d="M488 152L538 132"/><path d="M510 126L541 144"/><path d="M418 115L483 102"/><path d="M482 108L508 140"/><path d="M458 164L497 168"/><path d="M520 124L538 132"/><path d="M425 149L534 144"/><path d="M423 144L534 144"/><path d="M480 176L545 142"/><path d="M393 152L514 131"/><path d="M396 148L484 147"/><path d="M484 57L488 227"/><path d="M469 164L473 162"/><path d="M473 96L480 176"/><path d="M497 168L508 140"/><path d="M474 146L503 132"/><path d="M451 97L488 152"/><path d="M471 114L531 126"/><path d="M486 90L473 162"/><path d="M474 124L541 144"/><path d="M399 164L430 115"/><path d="M538 132L488 230"/><path d="M471 174L484 147"/><path d="M474 96L475 107"/><path d="M469 108L497 168"/><path d="M463 152L469 164"/><path d="M471 114L520 124"/><path d="M484 147L520 124"/><path d="M493 45L474 124"/><path d="M512 136L534 144"/><path d="M475 107L483 230"/><path d="M497 57L497 168"/><path d="M464 118L545 142"/><path d="M486 90L479 118"/><path d="M487 117L473 162"/><path d="M430 115L463 101"/><path d="M425 149L497 168"/><path d="M478 125L534 144"/><path d="M418 115L488 227"/><path d="M520 142L545 142"/><path d="M482 108L484 147"/><path d="M405 168L484 147"/><path d="M458 164L484 147"/><path d="M425 149L480 176"/><path d="M466 104L482 108"/><path d="M473 162L486 159"/><path d="M495 113L541 144"/><path d="M458 164L504 166"/><path d="M482 77L520 124"/><path d="M465 108L469 108"/><path d="M486 159L538 132"/><path d="M393 152L528 138"/><path d="M474 118L501 122"/><path d="M473 96L474 124"/><path d="M473 162L545 142"/><path d="M482 77L510 126"/><path d="M520 124L514 131"/><path d="M491 63L488 227"/><path d="M463 152L471 174"/><path d="M478 150L480 176"/><path d="M474 124L471 174"/><path d="M474 118L474 124"/><path d="M398 170L468 184"/><path d="M450 110L479 118"/><path d="M407 114L484 147"/><path d="M486 90L528 138"/><path d="M464 118L538 132"/><path d="M418 115L463 152"/><path d="M486 109L464 118"/><path d="M471 114L463 152"/><path d="M503 145L534 144"/><path d="M491 63L483 221"/><path d="M526 131L545 142"/><path d="M497 57L486 109"/><path d="M491 63L520 142"/><path d="M490 118L471 174"/><path d="M478 150L545 142"/><path d="M474 96L474 118"/><path d="M490 177L534 144"/><path d="M425 149L538 151"/><path d="M484 57L479 67"/><path d="M471 174L543 156"/><path d="M405 168L425 149"/><path d="M501 122L483 221"/><path d="M391 158L468 184"/><path d="M523 114L531 126"/><path d="M425 149L484 147"/><path d="M466 104L471 114"/><path d="M407 114L483 102"/><path d="M475 107L471 174"/><path d="M475 107L514 163"/><path d="M471 174L488 230"/><path d="M468 184L545 142"/><path d="M464 168L484 147"/><path d="M464 95L480 176"/><path d="M483 102L486 90"/><path d="M475 107L471 114"/><path d="M504 166L538 132"/><path d="M483 221L471 224"/><path d="M393 152L414 161"/><path d="M497 57L508 140"/><path d="M398 170L484 147"/><path d="M479 118L497 168"/><path d="M469 164L538 132"/><path d="M399 144L514 163"/><path d="M484 57L480 229"/><path d="M425 149L430 115"/><path d="M486 90L484 147"/><path d="M488 152L545 142"/><path d="M393 152L497 57"/><path d="M480 176L497 168"/><path d="M425 149L504 166"/><path d="M478 228L488 227"/><path d="M423 144L406 159"/><path d="M430 115L520 124"/><path d="M484 57L495 113"/><path d="M471 114L534 144"/><path d="M459 110L504 166"/><path d="M484 57L482 108"/><path d="M418 115L430 115"/><path d="M432 116L450 110"/><path d="M484 147L510 126"/><path d="M507 52L520 124"/><path d="M399 164L538 132"/><path d="M474 90L483 221"/><path d="M482 77L459 110"/><path d="M401 163L506 157"/><path d="M474 96L512 136"/><path d="M471 103L474 118"/><path d="M478 125L463 152"/><path d="M478 150L484 147"/><path d="M506 157L514 163"/><path d="M471 103L510 126"/><path d="M396 148L425 149"/><path d="M410 150L545 142"/><path d="M483 221L478 223"/><path d="M384 158L390 162"/><path d="M484 147L538 151"/><path d="M523 114L545 142"/><path d="M484 147L534 144"/><path d="M474 118L484 147"/><path d="M514 163L538 132"/><path d="M534 144L545 142"/><path d="M414 161L520 124"/><path d="M418 115L471 103"/><path d="M471 103L475 107"/><path d="M483 230L488 227"/><path d="M482 108L501 122"/><path d="M480 176L520 124"/><path d="M437 114L490 118"/><path d="M538 132L512 136"/><path d="M425 149L472 50"/><path d="M479 67L503 132"/><path d="M471 174L506 157"/><path d="M491 63L474 124"/><path d="M538 132L538 151"/><path d="M471 103L541 144"/><path d="M483 102L475 107"/><path d="M531 126L545 142"/><path d="M471 114L483 221"/><path d="M463 152L538 132"/><path d="M469 108L510 126"/><path d="M501 122L520 124"/><path d="M471 174L474 146"/><path d="M399 164L497 168"/><path d="M504 166L488 227"/><path d="M526 131L520 142"/><path d="M486 90L486 159"/><path d="M490 118L478 150"/><path d="M483 102L474 124"/><path d="M406 153L423 144"/><path d="M384 158L391 158"/><path d="M484 57L474 118"/><path d="M497 57L474 146"/><path d="M410 150L508 140"/><path d="M393 152L538 132"/><path d="M466 104L501 122"/><path d="M507 52L486 109"/><path d="M471 114L478 125"/><path d="M503 145L545 142"/><path d="M430 115L450 110"/><path d="M504 166L503 145"/><path d="M480 176L508 140"/><path d="M396 148L458 164"/><path d="M399 144L534 144"/><path d="M482 77L482 108"/><path d="M475 107L514 131"/><path d="M393 152L425 149"/><path d="M520 124L543 156"/><path d="M484 57L483 230"/><path d="M483 221L488 227"/><path d="M430 115L486 109"/><path d="M488 152L497 168"/><path d="M486 109L478 125"/><path d="M468 184L538 132"/><path d="M471 174L478 150"/><path d="M474 90L479 76"/><path d="M425 149L471 174"/><path d="M474 146L520 124"/><path d="M531 126L538 132"/><path d="M458 164L488 152"/><path d="M490 177L523 114"/><path d="M484 57L483 102"/><path d="M430 115L497 168"/><path d="M531 126L488 227"/><path d="M484 57L504 166"/><path d="M469 118L534 144"/><path d="M399 144L448 108"/><path d="M407 114L497 57"/><path d="M475 107L484 147"/><path d="M471 114L458 164"/><path d="M484 57L497 57"/><path d="M384 158L520 124"/><path d="M512 136L488 227"/><path d="M425 149L503 145"/><path d="M531 126L534 144"/><path d="M430 115L488 227"/><path d="M471 103L474 124"/><path d="M472 76L474 96"/><path d="M501 122L538 132"/><path d="M466 104L520 124"/><path d="M482 108L464 118"/><path d="M432 116L501 122"/><path d="M486 109L490 118"/><path d="M464 118L488 230"/><path d="M482 108L538 132"/><path d="M464 118L497 168"/><path d="M538 132L510 126"/><path d="M414 161L468 184"/><path d="M393 152L471 174"/><path d="M475 107L545 142"/><path d="M484 57L503 145"/><path d="M465 108L484 147"/><path d="M475 107L495 113"/><path d="M486 159L523 114"/><path d="M486 90L488 152"/><path d="M531 126L514 131"/><path d="M425 149L545 142"/><path d="M463 101L464 118"/><path d="M437 114L465 108"/><path d="M399 144L497 168"/><path d="M503 145L520 142"/><path d="M391 158L501 122"/><path d="M495 113L545 142"/><path d="M484 147L488 227"/><path d="M430 115L488 152"/><path d="M425 149L520 142"/><path d="M488 152L486 159"/><path d="M520 124L478 228"/><path d="M425 149L418 115"/><path d="M463 101L538 151"/><path d="M484 57L488 230"/><path d="M503 145L541 144"/><path d="M399 164L468 184"/><path d="M486 109L520 124"/><path d="M475 107L503 132"/><path d="M401 163L523 114"/><path d="M526 131L534 144"/><path d="M490 118L538 132"/><path d="M459 110L541 144"/><path d="M463 101L475 107"/><path d="M484 57L464 95"/><path d="M514 131L510 126"/><path d="M475 107L508 140"/><path d="M393 152L396 161"/><path d="M399 164L534 144"/><path d="M501 122L488 152"/><path d="M398 157L484 57"/><path d="M430 115L471 114"/><path d="M482 108L495 113"/><path d="M501 122L471 174"/><path d="M415 153L545 142"/><path d="M520 124L534 144"/><path d="M464 95L520 124"/><path d="M478 150L506 157"/><path d="M418 115L490 118"/><path d="M396 161L526 131"/><path d="M469 118L473 162"/><path d="M484 147L538 132"/><path d="M497 168L545 142"/><path d="M507 52L510 126"/><path d="M478 125L488 152"/><path d="M484 57L526 131"/><path d="M520 124L541 144"/><path d="M479 118L543 156"/><path d="M486 90L482 108"/><path d="M482 108L471 174"/><path d="M437 114L538 132"/><path d="M475 107L468 184"/><path d="M393 152L415 153"/><path d="M463 101L459 110"/><path d="M471 114L464 168"/><path d="M501 122L545 142"/><path d="M503 132L512 136"/><path d="M463 101L471 114"/><path d="M414 161L538 151"/><path d="M464 95L469 118"/><path d="M437 114L487 117"/><path d="M465 108L488 227"/><path d="M497 168L488 227"/><path d="M425 149L514 163"/><path d="M469 164L497 168"/>
</g>
<g fill="#222"><circle cx="472.2" cy="49.5" r="0.55"/><circle cx="493.4" cy="44.9" r="0.55"/><circle cx="484.1" cy="56.8" r="0.55"/><circle cx="497.4" cy="57.4" r="0.55"/><circle cx="507.3" cy="52.1" r="0.55"/><circle cx="490.7" cy="63.4" r="0.55"/><circle cx="478.8" cy="67.4" r="0.55"/><circle cx="474.9" cy="71.3" r="0.55"/><circle cx="472.3" cy="75.9" r="0.55"/><circle cx="473.6" cy="85.0" r="0.55"/><circle cx="474.1" cy="90.0" r="0.55"/><circle cx="472.7" cy="96.4" r="0.55"/><circle cx="478.6" cy="76.4" r="0.55"/><circle cx="482.3" cy="77.3" r="0.55"/><circle cx="490.0" cy="71.4" r="0.55"/><circle cx="464.3" cy="94.6" r="0.55"/><circle cx="462.6" cy="101.2" r="0.55"/><circle cx="465.9" cy="103.6" r="0.55"/><circle cx="470.8" cy="102.8" r="0.55"/><circle cx="474.1" cy="96.3" r="0.55"/><circle cx="483.1" cy="102.0" r="0.55"/><circle cx="485.5" cy="89.7" r="0.55"/><circle cx="459.4" cy="110.2" r="0.55"/><circle cx="465.1" cy="108.5" r="0.55"/><circle cx="469.2" cy="107.7" r="0.55"/><circle cx="474.9" cy="106.9" r="0.55"/><circle cx="482.3" cy="107.7" r="0.55"/><circle cx="485.5" cy="109.4" r="0.55"/><circle cx="470.8" cy="114.3" r="0.55"/><circle cx="474.1" cy="118.4" r="0.55"/><circle cx="479.0" cy="118.4" r="0.55"/><circle cx="469.2" cy="118.4" r="0.55"/><circle cx="464.3" cy="117.5" r="0.55"/><circle cx="474.1" cy="124.1" r="0.55"/><circle cx="478.2" cy="124.9" r="0.55"/><circle cx="487.2" cy="116.7" r="0.55"/><circle cx="495.4" cy="112.6" r="0.55"/><circle cx="501.1" cy="121.6" r="0.55"/><circle cx="490.5" cy="118.4" r="0.55"/><circle cx="462.7" cy="151.8" r="0.55"/><circle cx="458.2" cy="164.5" r="0.55"/><circle cx="463.6" cy="168.2" r="0.55"/><circle cx="469.1" cy="164.5" r="0.55"/><circle cx="470.9" cy="174.5" r="0.55"/><circle cx="468.2" cy="184.5" r="0.55"/><circle cx="472.7" cy="161.8" r="0.55"/><circle cx="478.2" cy="150.0" r="0.55"/><circle cx="484.5" cy="147.3" r="0.55"/><circle cx="488.2" cy="151.8" r="0.55"/><circle cx="486.4" cy="159.1" r="0.55"/><circle cx="480.0" cy="176.4" r="0.55"/><circle cx="490.0" cy="177.3" r="0.55"/><circle cx="497.3" cy="168.2" r="0.55"/><circle cx="506.4" cy="157.3" r="0.55"/><circle cx="513.6" cy="162.7" r="0.55"/><circle cx="503.6" cy="166.4" r="0.55"/><circle cx="473.6" cy="146.4" r="0.55"/><circle cx="523.0" cy="113.8" r="0.55"/><circle cx="520.0" cy="124.3" r="0.55"/><circle cx="531.2" cy="125.8" r="0.55"/><circle cx="538.0" cy="131.8" r="0.55"/><circle cx="526.0" cy="131.0" r="0.55"/><circle cx="514.0" cy="131.0" r="0.55"/><circle cx="509.5" cy="126.5" r="0.55"/><circle cx="502.7" cy="131.8" r="0.55"/><circle cx="512.5" cy="135.5" r="0.55"/><circle cx="508.0" cy="140.0" r="0.55"/><circle cx="502.7" cy="145.2" r="0.55"/><circle cx="527.5" cy="137.8" r="0.55"/><circle cx="533.5" cy="144.5" r="0.55"/><circle cx="541.0" cy="144.5" r="0.55"/><circle cx="543.2" cy="156.5" r="0.55"/><circle cx="538.0" cy="151.2" r="0.55"/><circle cx="520.0" cy="142.2" r="0.55"/><circle cx="545.3" cy="141.5" r="0.55"/><circle cx="393.3" cy="151.8" r="0.55"/><circle cx="399.1" cy="143.8" r="0.55"/><circle cx="396.2" cy="147.5" r="0.55"/><circle cx="383.8" cy="157.6" r="0.55"/><circle cx="391.1" cy="157.6" r="0.55"/><circle cx="397.6" cy="156.9" r="0.55"/><circle cx="405.6" cy="153.3" r="0.55"/><circle cx="410.0" cy="150.4" r="0.55"/><circle cx="415.1" cy="153.3" r="0.55"/><circle cx="423.1" cy="144.5" r="0.55"/><circle cx="390.4" cy="162.0" r="0.55"/><circle cx="395.5" cy="161.3" r="0.55"/><circle cx="401.3" cy="162.7" r="0.55"/><circle cx="405.6" cy="159.1" r="0.55"/><circle cx="399.1" cy="164.2" r="0.55"/><circle cx="404.9" cy="168.5" r="0.55"/><circle cx="397.6" cy="170.0" r="0.55"/><circle cx="413.6" cy="161.3" r="0.55"/><circle cx="425.0" cy="149.0" r="0.55"/><circle cx="423.6" cy="99.0" r="0.55"/><circle cx="406.9" cy="113.5" r="0.55"/><circle cx="418.5" cy="115.0" r="0.55"/><circle cx="430.2" cy="115.4" r="0.55"/><circle cx="432.4" cy="116.0" r="0.55"/><circle cx="436.7" cy="113.5" r="0.55"/><circle cx="451.3" cy="96.8" r="0.55"/><circle cx="448.4" cy="107.7" r="0.55"/><circle cx="449.8" cy="109.6" r="0.55"/><circle cx="482.7" cy="220.7" r="0.55"/><circle cx="471.3" cy="224.0" r="0.55"/><circle cx="477.8" cy="222.9" r="0.55"/><circle cx="477.8" cy="228.4" r="0.55"/><circle cx="480.5" cy="228.9" r="0.55"/><circle cx="482.7" cy="230.5" r="0.55"/><circle cx="487.6" cy="227.3" r="0.55"/><circle cx="488.2" cy="230.0" r="0.55"/><circle cx="484.0" cy="225.0" r="0.55"/></g>
</g>
<text x="123.5" y="561.1" class="lab">(<tspan font-weight="bold">c</tspan>)</text>
<g transform="translate(296.5,292.0)"><text x="10.8" y="8.3" class="lt">Legend</text>
<circle cx="16.3" cy="16.2" r="0.6" fill="#000"/>
<text x="24.3" y="18.2" class="li">City</text>
<line x1="10.2" y1="24.6" x2="22.3" y2="24.6" stroke="#bbb" stroke-width="0.5"/>
<text x="24.3" y="26.6" class="li">edge (Highway network)</text>
<rect x="10.3" y="30.20" width="12" height="5.6" fill="#fab8ee" stroke="#c8c8c8" stroke-width="0.4"/>
<text x="24.3" y="34.9" class="li">Guangdong−Hong Kong−Macao Greater Bay Area</text>
<rect x="10.3" y="38.75" width="12" height="5.6" fill="#fde6b8" stroke="#c8c8c8" stroke-width="0.4"/>
<text x="24.3" y="43.5" class="li">Middle Reaches of the Yangtze River</text>
<rect x="10.3" y="47.30" width="12" height="5.6" fill="#fb7070" stroke="#c8c8c8" stroke-width="0.4"/>
<text x="24.3" y="52.0" class="li">Chengdu−Chongqing</text>
<rect x="10.3" y="55.85" width="12" height="5.6" fill="#cdfab8" stroke="#c8c8c8" stroke-width="0.4"/>
<text x="24.3" y="60.6" class="li">Guanzhong Plain</text>
<rect x="10.3" y="64.40" width="12" height="5.6" fill="#b8e4fb" stroke="#c8c8c8" stroke-width="0.4"/>
<text x="24.3" y="69.1" class="li">Beijing−Tianjin−Hebei</text>
<rect x="10.3" y="72.95" width="12" height="5.6" fill="#b2f5dd" stroke="#c8c8c8" stroke-width="0.4"/>
<text x="24.3" y="77.7" class="li">Central Plains</text>
<rect x="10.3" y="81.50" width="12" height="5.6" fill="#fbfab8" stroke="#c8c8c8" stroke-width="0.4"/>
<text x="24.3" y="86.2" class="li">Yangtze River Delta</text>
<rect x="10.3" y="90.05" width="12" height="5.6" fill="#ffffff" stroke="#444" stroke-width="0.6"/>
<text x="24.3" y="94.8" class="li">Province</text>
<g transform="translate(0,0)">
<text x="243" y="11.1" class="na">N</text>
<path d="M245.1,13 L240.5,28.4 L245.1,23.5 Z" fill="#000"/>
<path d="M245.1,13 L249.8,27.8 L245.1,23.5 Z" fill="none" stroke="#000" stroke-width="0.6"/>
</g>
<g transform="translate(0,1.0)">
<text x="16.7" y="222.5" class="sb">0</text>
<text x="58.2" y="222.5" class="sb">500 km</text>
<path d="M17.7,226.1 V229.4 H62.8 V226.1" fill="none" stroke="#555" stroke-width="0.5"/>
</g></g>
<g transform="translate(0,292.0)">
<use href="#regions"/>
<g fill="none" stroke="#333" stroke-width="0.4" stroke-opacity="0.42">
<path d="M538 132L543 156"/><path d="M497 57L512 136"/><path d="M471 174L534 144"/><path d="M415 153L474 146"/><path d="M450 110L483 221"/><path d="M479 76L480 229"/><path d="M393 152L520 124"/><path d="M497 57L503 145"/><path d="M471 174L483 230"/><path d="M497 57L486 159"/><path d="M479 118L528 138"/><path d="M486 90L488 227"/><path d="M471 174L478 150"/><path d="M425 149L479 67"/><path d="M487 117L520 142"/><path d="M474 96L464 118"/><path d="M406 159L508 140"/><path d="M482 108L545 142"/><path d="M484 57L474 124"/><path d="M490 118L504 166"/><path d="M510 126L538 151"/><path d="M495 113L490 118"/><path d="M510 126L543 156"/><path d="M451 97L471 114"/><path d="M430 115L484 147"/><path d="M493 45L484 57"/><path d="M418 115L465 108"/><path d="M450 110L538 132"/><path d="M504 166L545 142"/><path d="M471 174L468 184"/><path d="M414 161L474 85"/><path d="M483 102L534 144"/><path d="M471 174L480 229"/><path d="M538 132L480 229"/><path d="M393 152L399 144"/><path d="M484 57L490 71"/><path d="M432 116L484 57"/><path d="M393 152L424 99"/><path d="M507 52L520 124"/><path d="M520 124L508 140"/><path d="M393 152L474 146"/><path d="M430 115L482 108"/><path d="M523 114L484 225"/><path d="M523 114L520 142"/><path d="M474 124L503 132"/><path d="M483 221L488 227"/><path d="M406 153L425 149"/><path d="M425 149L432 116"/><path d="M538 132L520 142"/><path d="M396 161L425 149"/><path d="M469 164L538 132"/><path d="M484 57L468 184"/><path d="M405 168L483 221"/><path d="M410 150L474 146"/><path d="M450 110L508 140"/><path d="M414 161L514 131"/><path d="M482 108L520 124"/><path d="M425 149L503 132"/><path d="M466 104L488 227"/><path d="M393 152L483 230"/><path d="M463 152L471 174"/><path d="M424 99L464 118"/><path d="M393 152L471 224"/><path d="M482 77L475 107"/><path d="M393 152L398 170"/><path d="M414 161L512 136"/><path d="M463 101L487 117"/><path d="M493 45L483 221"/><path d="M398 157L483 221"/><path d="M458 164L510 126"/><path d="M514 163L503 145"/><path d="M486 90L471 114"/><path d="M484 147L497 168"/><path d="M425 149L407 114"/><path d="M430 115L474 124"/><path d="M391 158L475 107"/><path d="M464 95L482 108"/><path d="M520 124L510 126"/><path d="M488 152L538 132"/><path d="M484 147L480 176"/><path d="M406 153L480 176"/><path d="M391 158L479 67"/><path d="M479 118L469 164"/><path d="M393 152L483 221"/><path d="M430 115L497 57"/><path d="M523 114L483 221"/><path d="M396 148L483 221"/><path d="M430 115L475 107"/><path d="M514 131L545 142"/><path d="M503 132L488 227"/><path d="M424 99L432 116"/><path d="M484 57L479 118"/><path d="M451 97L531 126"/><path d="M483 102L486 159"/><path d="M479 67L469 118"/><path d="M464 168L488 230"/><path d="M450 110L514 163"/><path d="M430 115L534 144"/><path d="M479 76L508 140"/><path d="M538 132L510 126"/><path d="M484 57L480 176"/><path d="M472 76L475 107"/><path d="M401 163L430 115"/><path d="M478 125L488 227"/><path d="M437 114L534 144"/><path d="M471 174L473 162"/><path d="M486 90L490 118"/><path d="M405 168L488 227"/><path d="M479 76L520 124"/><path d="M484 57L471 224"/><path d="M512 136L484 225"/><path d="M463 101L508 140"/><path d="M510 126L545 142"/><path d="M414 161L475 107"/><path d="M482 108L469 164"/><path d="M464 118L469 164"/><path d="M475 107L490 177"/><path d="M425 149L424 99"/><path d="M448 108L483 102"/><path d="M538 132L478 223"/><path d="M437 114L484 57"/><path d="M458 164L469 164"/><path d="M393 152L484 57"/><path d="M464 168L534 144"/><path d="M406 159L464 95"/><path d="M391 158L471 174"/><path d="M538 132L545 142"/><path d="M474 96L464 168"/><path d="M469 164L486 159"/><path d="M471 174L484 147"/><path d="M463 101L464 118"/><path d="M469 108L471 114"/><path d="M410 150L463 152"/><path d="M479 67L520 124"/><path d="M484 147L520 124"/><path d="M475 107L484 147"/><path d="M450 110L520 124"/><path d="M406 159L514 131"/><path d="M486 109L520 124"/><path d="M471 174L545 142"/><path d="M469 164L468 184"/><path d="M415 153L508 140"/><path d="M475 71L483 230"/><path d="M469 118L487 117"/><path d="M414 161L487 117"/><path d="M474 85L473 162"/><path d="M484 57L471 103"/><path d="M508 140L520 142"/><path d="M474 124L468 184"/><path d="M484 147L534 144"/><path d="M425 149L468 184"/><path d="M483 221L471 224"/><path d="M514 131L534 144"/><path d="M399 164L488 152"/><path d="M482 77L478 125"/><path d="M468 184L504 166"/><path d="M475 107L482 108"/><path d="M484 147L504 166"/><path d="M430 115L486 109"/><path d="M474 118L538 132"/><path d="M538 132L528 138"/><path d="M534 144L478 223"/><path d="M473 96L475 107"/><path d="M396 148L479 67"/><path d="M437 114L484 147"/><path d="M430 115L503 145"/><path d="M390 162L506 157"/><path d="M430 115L488 227"/><path d="M474 96L475 107"/><path d="M399 164L471 174"/><path d="M406 153L514 131"/><path d="M401 163L414 161"/><path d="M393 152L497 168"/><path d="M405 168L474 90"/><path d="M437 114L497 57"/><path d="M414 161L407 114"/><path d="M479 118L484 147"/><path d="M490 118L541 144"/><path d="M479 76L486 90"/><path d="M474 85L523 114"/><path d="M430 115L464 95"/><path d="M463 101L469 118"/><path d="M475 107L523 114"/><path d="M414 161L483 221"/><path d="M483 102L490 177"/><path d="M482 108L490 118"/><path d="M393 152L482 108"/><path d="M486 90L475 107"/><path d="M405 168L414 161"/><path d="M471 103L475 107"/><path d="M399 144L514 131"/><path d="M538 132L488 227"/><path d="M401 163L484 57"/><path d="M399 144L507 52"/><path d="M514 163L483 221"/><path d="M472 50L497 57"/><path d="M538 132L488 230"/><path d="M407 114L483 221"/><path d="M399 144L484 225"/><path d="M430 115L514 163"/><path d="M469 164L545 142"/><path d="M520 124L483 230"/><path d="M483 221L478 228"/><path d="M510 126L503 132"/><path d="M474 118L479 118"/><path d="M414 161L471 114"/><path d="M484 57L483 102"/><path d="M478 150L545 142"/><path d="M488 152L488 230"/><path d="M393 152L488 227"/><path d="M399 164L483 221"/><path d="M393 152L469 164"/><path d="M464 168L488 227"/><path d="M486 90L506 157"/><path d="M473 162L528 138"/><path d="M458 164L471 174"/><path d="M471 114L504 166"/><path d="M479 118L458 164"/><path d="M407 114L464 95"/><path d="M497 168L504 166"/><path d="M475 107L501 122"/><path d="M475 107L528 138"/><path d="M464 168L543 156"/><path d="M497 168L478 228"/><path d="M393 152L526 131"/><path d="M396 161L484 57"/><path d="M475 107L541 144"/><path d="M406 153L504 166"/><path d="M464 95L469 118"/><path d="M399 144L415 153"/><path d="M466 104L520 142"/><path d="M393 152L543 156"/><path d="M406 153L424 99"/><path d="M526 131L483 221"/><path d="M484 147L538 132"/><path d="M520 124L514 131"/><path d="M406 159L483 221"/><path d="M399 164L478 223"/><path d="M393 152L478 125"/><path d="M506 157L538 132"/><path d="M484 57L475 107"/><path d="M432 116L464 95"/><path d="M466 104L538 132"/><path d="M430 115L474 96"/><path d="M407 114L418 115"/><path d="M473 162L545 142"/><path d="M468 184L506 157"/><path d="M541 144L545 142"/><path d="M463 101L495 113"/><path d="M464 95L490 118"/><path d="M471 174L484 225"/><path d="M406 159L478 228"/><path d="M538 132L541 144"/><path d="M430 115L471 174"/><path d="M531 126L538 132"/><path d="M471 103L520 124"/><path d="M497 168L538 132"/><path d="M471 114L479 118"/><path d="M479 76L484 147"/><path d="M398 157L415 153"/><path d="M483 230L488 227"/><path d="M393 152L512 136"/><path d="M464 168L538 132"/><path d="M482 108L495 113"/><path d="M473 162L497 168"/><path d="M448 108L484 57"/><path d="M393 152L531 126"/><path d="M475 107L479 118"/><path d="M393 152L464 168"/><path d="M510 126L541 144"/><path d="M393 152L474 124"/><path d="M393 152L451 97"/><path d="M497 57L484 147"/><path d="M450 110L475 107"/><path d="M484 147L478 223"/><path d="M410 150L484 57"/><path d="M484 57L503 145"/><path d="M418 115L541 144"/><path d="M483 102L471 174"/><path d="M393 152L418 115"/><path d="M474 146L508 140"/><path d="M425 149L473 162"/><path d="M475 107L469 118"/><path d="M430 115L538 132"/><path d="M482 108L483 221"/><path d="M463 152L473 162"/><path d="M430 115L450 110"/><path d="M497 168L514 163"/><path d="M474 124L483 221"/><path d="M415 153L520 124"/><path d="M488 152L531 126"/><path d="M463 152L488 227"/><path d="M514 131L520 142"/><path d="M514 163L545 142"/><path d="M410 150L471 174"/><path d="M514 163L488 227"/><path d="M475 107L487 117"/><path d="M425 149L430 115"/><path d="M464 95L484 147"/><path d="M486 90L488 152"/><path d="M471 114L486 159"/><path d="M471 174L474 146"/><path d="M414 161L475 71"/><path d="M534 144L520 142"/><path d="M471 174L514 163"/><path d="M473 162L520 124"/><path d="M471 103L459 110"/><path d="M514 131L541 144"/><path d="M471 174L488 152"/><path d="M484 147L488 227"/><path d="M487 117L520 124"/><path d="M473 96L464 118"/><path d="M425 149L484 225"/><path d="M414 161L437 114"/><path d="M543 156L520 142"/><path d="M448 108L488 227"/><path d="M423 144L414 161"/><path d="M391 158L471 103"/><path d="M479 118L514 131"/><path d="M510 126L534 144"/><path d="M484 57L501 122"/><path d="M484 147L526 131"/><path d="M501 122L483 221"/><path d="M497 57L488 227"/><path d="M393 152L534 144"/><path d="M393 152L423 144"/><path d="M538 132L508 140"/><path d="M430 115L506 157"/><path d="M425 149L478 125"/><path d="M514 163L478 223"/><path d="M491 63L471 174"/><path d="M497 57L490 118"/><path d="M463 101L483 221"/><path d="M390 162L398 170"/><path d="M483 221L478 223"/><path d="M448 108L486 90"/><path d="M486 159L520 142"/><path d="M450 110L484 57"/><path d="M497 168L534 144"/><path d="M398 157L484 57"/><path d="M437 114L466 104"/><path d="M418 115L483 221"/><path d="M423 144L473 162"/><path d="M491 63L503 132"/><path d="M474 90L495 113"/><path d="M469 164L508 140"/><path d="M430 115L501 122"/><path d="M459 110L469 108"/><path d="M430 115L528 138"/><path d="M430 115L480 176"/><path d="M479 67L475 107"/><path d="M406 159L497 168"/><path d="M398 157L396 161"/><path d="M490 118L523 114"/><path d="M464 168L531 126"/><path d="M437 114L473 162"/><path d="M424 99L463 101"/><path d="M401 163L497 168"/><path d="M520 124L526 131"/><path d="M430 115L484 57"/><path d="M393 152L471 174"/><path d="M503 132L478 228"/><path d="M483 221L488 230"/><path d="M472 50L480 229"/><path d="M459 110L538 132"/><path d="M471 114L464 118"/><path d="M407 114L490 177"/><path d="M534 144L545 142"/><path d="M469 108L483 221"/><path d="M506 157L483 221"/><path d="M425 149L484 57"/><path d="M471 174L538 132"/><path d="M478 150L543 156"/><path d="M484 57L465 108"/><path d="M520 124L538 151"/><path d="M520 124L471 224"/><path d="M475 107L488 152"/><path d="M541 144L538 151"/><path d="M430 115L464 168"/><path d="M495 113L490 177"/><path d="M406 153L497 57"/><path d="M448 108L482 108"/><path d="M486 109L538 132"/><path d="M406 153L398 170"/><path d="M425 149L538 132"/><path d="M503 132L508 140"/><path d="M393 152L488 230"/><path d="M415 153L490 177"/><path d="M463 101L474 118"/><path d="M432 116L475 107"/><path d="M425 149L465 108"/><path d="M423 144L490 177"/><path d="M424 99L471 174"/><path d="M473 162L484 147"/><path d="M495 113L484 147"/><path d="M406 159L475 107"/><path d="M474 118L484 147"/><path d="M486 109L480 176"/><path d="M451 97L475 107"/><path d="M482 77L471 224"/><path d="M430 115L491 63"/><path d="M486 90L534 144"/><path d="M384 158L538 132"/><path d="M399 144L475 71"/><path d="M482 77L484 147"/><path d="M538 132L503 145"/><path d="M484 57L464 118"/><path d="M484 147L514 131"/><path d="M474 96L488 227"/><path d="M463 152L538 132"/><path d="M520 124L541 144"/><path d="M398 170L491 63"/><path d="M464 95L464 168"/><path d="M401 163L538 132"/><path d="M406 159L414 161"/><path d="M393 152L406 159"/><path d="M459 110L501 122"/><path d="M398 170L425 149"/><path d="M469 118L488 152"/><path d="M506 157L488 227"/><path d="M497 57L528 138"/><path d="M399 164L398 170"/><path d="M398 170L484 147"/><path d="M484 57L486 90"/><path d="M475 107L471 174"/><path d="M503 132L545 142"/><path d="M458 164L484 147"/><path d="M425 149L506 157"/><path d="M393 152L458 164"/><path d="M464 95L463 152"/><path d="M475 107L506 157"/><path d="M479 67L484 147"/><path d="M475 107L488 230"/><path d="M475 107L480 229"/><path d="M471 103L488 227"/><path d="M475 107L473 162"/><path d="M486 109L497 168"/><path d="M538 132L514 131"/><path d="M406 153L538 132"/><path d="M512 136L534 144"/><path d="M475 107L488 227"/><path d="M414 161L458 164"/><path d="M520 124L531 126"/><path d="M450 110L534 144"/><path d="M531 126L510 126"/><path d="M484 147L506 157"/><path d="M508 140L534 144"/><path d="M464 118L538 132"/><path d="M463 101L538 132"/><path d="M497 168L520 124"/><path d="M396 148L406 153"/><path d="M475 107L503 132"/><path d="M483 102L486 90"/><path d="M448 108L538 132"/><path d="M545 142L478 223"/><path d="M437 114L451 97"/><path d="M523 114L538 132"/><path d="M391 158L414 161"/><path d="M475 107L520 142"/><path d="M484 57L520 124"/><path d="M430 115L495 113"/><path d="M415 153L497 57"/><path d="M471 114L488 227"/><path d="M474 118L473 162"/><path d="M488 227L488 230"/><path d="M503 145L545 142"/><path d="M484 57L490 177"/><path d="M479 67L520 142"/><path d="M482 77L488 227"/><path d="M503 145L534 144"/><path d="M497 57L458 164"/><path d="M425 149L510 126"/><path d="M414 161L484 147"/><path d="M474 118L512 136"/><path d="M497 57L464 95"/><path d="M423 144L475 107"/><path d="M468 184L545 142"/><path d="M423 144L430 115"/><path d="M424 99L430 115"/><path d="M393 152L479 67"/><path d="M406 159L425 149"/><path d="M471 224L483 230"/><path d="M407 114L448 108"/><path d="M464 168L490 177"/><path d="M448 108L484 147"/><path d="M469 108L504 166"/><path d="M483 102L469 164"/><path d="M396 148L482 77"/><path d="M423 144L488 227"/><path d="M437 114L464 118"/><path d="M471 174L523 114"/><path d="M490 71L475 107"/><path d="M510 126L528 138"/><path d="M483 221L480 229"/><path d="M474 85L520 124"/><path d="M425 149L478 150"/><path d="M391 158L474 96"/><path d="M497 168L503 132"/><path d="M398 157L432 116"/><path d="M478 228L488 227"/><path d="M415 153L488 227"/><path d="M393 152L415 153"/><path d="M450 110L479 76"/><path d="M523 114L541 144"/><path d="M406 153L478 150"/><path d="M474 85L471 174"/><path d="M484 57L488 227"/><path d="M406 153L410 150"/><path d="M393 152L495 113"/><path d="M501 122L484 147"/><path d="M430 115L545 142"/><path d="M414 161L425 149"/><path d="M501 122L468 184"/><path d="M490 118L534 144"/><path d="M448 108L468 184"/><path d="M407 114L482 77"/><path d="M405 168L484 225"/><path d="M398 157L425 149"/><path d="M482 108L484 147"/><path d="M415 153L475 107"/><path d="M484 147L490 177"/><path d="M430 115L507 52"/><path d="M393 152L510 126"/><path d="M401 163L534 144"/><path d="M415 153L474 96"/><path d="M391 158L425 149"/><path d="M396 148L391 158"/><path d="M399 144L410 150"/><path d="M469 118L488 230"/><path d="M514 131L488 227"/><path d="M471 114L520 124"/><path d="M393 152L514 163"/><path d="M538 132L538 151"/><path d="M464 168L504 166"/><path d="M437 114L501 122"/><path d="M448 108L474 96"/><path d="M393 152L430 115"/><path d="M464 168L508 140"/><path d="M393 152L390 162"/><path d="M406 159L488 227"/><path d="M396 161L451 97"/><path d="M543 156L545 142"/><path d="M484 57L469 108"/><path d="M430 115L465 108"/><path d="M478 125L484 147"/><path d="M526 131L541 144"/><path d="M471 174L486 159"/><path d="M464 118L497 168"/><path d="M463 152L474 146"/><path d="M503 132L534 144"/><path d="M482 108L464 118"/><path d="M425 149L450 110"/><path d="M458 164L520 124"/><path d="M514 163L474 146"/><path d="M474 96L478 125"/><path d="M414 161L463 152"/><path d="M531 126L545 142"/><path d="M405 168L448 108"/><path d="M474 124L480 176"/><path d="M538 132L534 144"/><path d="M464 168L478 150"/><path d="M399 144L450 110"/><path d="M437 114L471 103"/><path d="M472 50L484 57"/><path d="M538 132L483 221"/><path d="M473 162L538 132"/><path d="M475 107L486 109"/><path d="M424 99L538 132"/><path d="M414 161L538 132"/><path d="M430 115L432 116"/><path d="M393 152L475 107"/><path d="M430 115L504 166"/><path d="M390 162L488 227"/><path d="M471 103L469 108"/><path d="M472 76L526 131"/><path d="M479 67L471 174"/><path d="M464 95L466 104"/><path d="M471 174L520 124"/><path d="M384 158L414 161"/><path d="M458 164L514 163"/><path d="M490 71L510 126"/><path d="M482 77L479 118"/><path d="M418 115L526 131"/><path d="M475 107L478 223"/><path d="M471 174L483 221"/><path d="M423 144L483 230"/><path d="M484 57L463 152"/><path d="M471 103L465 108"/><path d="M464 118L474 124"/><path d="M479 67L528 138"/><path d="M475 107L508 140"/><path d="M497 57L475 71"/><path d="M466 104L501 122"/><path d="M464 168L497 168"/><path d="M469 118L541 144"/><path d="M520 124L538 132"/><path d="M475 107L520 124"/><path d="M473 96L471 103"/><path d="M482 108L480 176"/><path d="M425 149L541 144"/><path d="M451 97L486 90"/><path d="M391 158L484 147"/><path d="M396 161L497 57"/><path d="M414 161L430 115"/><path d="M401 163L425 149"/><path d="M497 168L508 140"/><path d="M471 174L504 166"/><path d="M384 158L471 174"/><path d="M484 57L472 76"/><path d="M398 157L406 159"/><path d="M459 110L490 118"/><path d="M482 108L471 114"/><path d="M398 170L430 115"/><path d="M490 118L473 162"/><path d="M484 147L545 142"/><path d="M406 153L463 152"/><path d="M424 99L490 71"/><path d="M486 159L538 132"/><path d="M425 149L486 109"/><path d="M415 153L425 149"/><path d="M396 161L398 170"/><path d="M450 110L474 118"/><path d="M484 147L543 156"/><path d="M423 144L474 146"/><path d="M399 144L538 132"/><path d="M396 161L497 168"/><path d="M418 115L484 147"/><path d="M450 110L528 138"/><path d="M491 63L497 168"/><path d="M497 57L510 126"/><path d="M468 184L538 132"/><path d="M437 114L469 108"/><path d="M415 153L396 161"/><path d="M497 57L526 131"/><path d="M497 57L475 107"/><path d="M393 152L414 161"/><path d="M478 125L464 168"/><path d="M479 67L488 227"/><path d="M406 159L484 147"/><path d="M486 159L471 224"/><path d="M405 168L534 144"/><path d="M471 103L526 131"/><path d="M415 153L483 221"/><path d="M398 157L469 108"/><path d="M425 149L478 223"/><path d="M474 96L490 118"/><path d="M393 152L466 104"/><path d="M425 149L451 97"/><path d="M520 124L534 144"/><path d="M475 107L534 144"/><path d="M396 148L488 227"/><path d="M479 118L483 221"/><path d="M473 162L474 146"/><path d="M393 152L538 132"/><path d="M432 116L538 132"/><path d="M474 118L487 117"/><path d="M508 140L545 142"/><path d="M415 153L464 95"/><path d="M493 45L488 230"/><path d="M399 164L474 124"/><path d="M391 158L503 132"/><path d="M401 163L504 166"/><path d="M484 57L497 168"/><path d="M512 136L508 140"/><path d="M495 113L534 144"/><path d="M451 97L545 142"/><path d="M425 149L488 227"/><path d="M430 115L466 104"/><path d="M523 114L545 142"/><path d="M474 124L545 142"/><path d="M410 150L398 170"/><path d="M396 148L478 125"/><path d="M425 149L501 122"/><path d="M475 71L520 124"/><path d="M484 57L484 147"/><path d="M391 158L398 170"/><path d="M407 114L437 114"/><path d="M432 116L497 168"/><path d="M437 114L474 118"/><path d="M464 168L484 147"/><path d="M393 152L483 102"/><path d="M538 151L545 142"/><path d="M418 115L486 90"/><path d="M393 152L425 149"/><path d="M430 115L474 85"/><path d="M484 147L541 144"/><path d="M390 162L495 113"/><path d="M410 150L425 149"/><path d="M474 118L483 221"/><path d="M393 152L490 177"/><path d="M425 149L528 138"/><path d="M497 57L497 168"/><path d="M393 152L471 103"/><path d="M425 149L464 95"/><path d="M463 101L474 124"/><path d="M484 57L475 71"/><path d="M497 168L526 131"/><path d="M407 114L450 110"/><path d="M479 67L510 126"/><path d="M393 152L448 108"/><path d="M479 67L514 163"/><path d="M482 108L510 126"/><path d="M526 131L545 142"/><path d="M478 150L504 166"/><path d="M384 158L410 150"/><path d="M414 161L480 229"/><path d="M423 144L484 147"/><path d="M475 107L478 125"/><path d="M399 164L486 90"/><path d="M418 115L479 67"/><path d="M474 96L471 174"/><path d="M393 152L405 168"/><path d="M393 152L478 150"/><path d="M406 153L484 147"/><path d="M475 107L538 132"/><path d="M484 57L510 126"/><path d="M497 57L472 76"/><path d="M486 109L464 118"/><path d="M464 168L473 162"/><path d="M405 168L464 95"/><path d="M425 149L484 147"/><path d="M490 177L514 163"/><path d="M396 148L425 149"/><path d="M497 168L545 142"/><path d="M475 107L495 113"/><path d="M432 116L514 131"/><path d="M514 131L543 156"/><path d="M475 71L474 124"/><path d="M390 162L399 164"/><path d="M399 164L430 115"/><path d="M464 168L474 146"/><path d="M464 95L490 177"/><path d="M484 147L512 136"/><path d="M482 108L471 174"/><path d="M451 97L484 147"/><path d="M468 184L483 221"/><path d="M478 125L483 221"/><path d="M531 126L534 144"/><path d="M497 57L520 124"/><path d="M410 150L475 107"/><path d="M520 124L528 138"/><path d="M393 152L437 114"/><path d="M398 170L479 76"/><path d="M464 168L471 174"/><path d="M465 108L464 168"/><path d="M471 114L538 132"/><path d="M430 115L448 108"/><path d="M471 174L503 132"/><path d="M399 164L487 117"/><path d="M474 146L483 221"/><path d="M506 157L534 144"/><path d="M415 153L504 166"/><path d="M425 149L475 107"/><path d="M469 164L478 150"/><path d="M497 57L464 118"/><path d="M465 108L487 117"/><path d="M425 149L480 176"/><path d="M483 102L488 227"/><path d="M414 161L506 157"/><path d="M488 152L497 168"/><path d="M425 149L471 224"/><path d="M520 124L543 156"/><path d="M414 161L545 142"/><path d="M497 168L510 126"/><path d="M497 168L483 221"/><path d="M423 144L390 162"/><path d="M390 162L425 149"/><path d="M478 125L538 132"/><path d="M393 152L484 147"/><path d="M482 77L471 174"/><path d="M501 122L534 144"/><path d="M538 132L503 132"/><path d="M459 110L479 118"/><path d="M425 149L466 104"/><path d="M484 57L514 131"/><path d="M425 149L418 115"/><path d="M423 144L483 221"/><path d="M534 144L483 221"/><path d="M478 125L526 131"/><path d="M430 115L459 110"/><path d="M398 170L414 161"/><path d="M510 126L512 136"/><path d="M495 113L526 131"/><path d="M418 115L451 97"/><path d="M523 114L510 126"/><path d="M474 146L510 126"/><path d="M488 152L543 156"/><path d="M471 174L488 230"/><path d="M484 147L486 159"/><path d="M425 149L471 174"/><path d="M491 63L484 147"/><path d="M399 144L425 149"/><path d="M463 101L504 166"/><path d="M406 153L483 221"/><path d="M493 45L484 147"/><path d="M424 99L497 168"/><path d="M393 152L384 158"/><path d="M391 158L488 227"/><path d="M474 85L483 221"/><path d="M425 149L437 114"/><path d="M474 118L520 124"/><path d="M458 164L474 146"/><path d="M538 132L526 131"/><path d="M475 107L486 159"/><path d="M471 174L471 224"/><path d="M405 168L468 184"/><path d="M432 116L490 118"/><path d="M483 102L482 108"/><path d="M393 152L506 157"/><path d="M528 138L545 142"/><path d="M538 132L484 225"/><path d="M430 115L437 114"/><path d="M466 104L475 107"/><path d="M490 71L514 131"/><path d="M398 157L545 142"/><path d="M465 108L471 114"/><path d="M483 221L484 225"/><path d="M484 147L483 221"/><path d="M543 156L538 151"/><path d="M425 149L463 152"/><path d="M490 71L488 227"/><path d="M480 229L488 230"/><path d="M528 138L534 144"/><path d="M469 108L474 124"/><path d="M508 140L538 151"/><path d="M497 168L543 156"/><path d="M482 77L483 221"/><path d="M501 122L488 227"/><path d="M459 110L486 109"/><path d="M432 116L463 101"/><path d="M410 150L474 96"/><path d="M398 157L451 97"/><path d="M393 152L474 90"/><path d="M390 162L545 142"/><path d="M486 159L534 144"/><path d="M506 157L478 228"/><path d="M469 118L520 124"/><path d="M471 103L479 118"/><path d="M437 114L475 107"/><path d="M475 107L464 168"/><path d="M484 57L478 125"/><path d="M399 164L414 161"/><path d="M464 95L475 107"/><path d="M497 57L520 142"/><path d="M415 153L538 132"/><path d="M487 117L483 221"/><path d="M399 164L425 149"/><path d="M478 150L484 147"/><path d="M464 118L534 144"/><path d="M396 161L430 115"/><path d="M391 158L405 168"/><path d="M479 67L523 114"/><path d="M475 107L543 156"/><path d="M475 107L497 168"/><path d="M474 90L497 168"/><path d="M469 118L545 142"/><path d="M514 131L528 138"/><path d="M490 118L484 225"/><path d="M478 125L487 117"/><path d="M483 102L484 147"/><path d="M396 148L520 142"/><path d="M405 168L526 131"/><path d="M503 132L528 138"/><path d="M469 118L469 164"/><path d="M405 168L538 132"/><path d="M393 152L488 152"/><path d="M472 76L458 164"/><path d="M534 144L483 230"/><path d="M490 177L480 229"/><path d="M463 152L484 147"/><path d="M475 107L464 118"/><path d="M486 109L503 132"/><path d="M469 118L478 125"/><path d="M396 148L430 115"/><path d="M468 184L497 168"/><path d="M504 166L483 221"/><path d="M410 150L484 147"/><path d="M430 115L483 221"/><path d="M393 152L459 110"/><path d="M484 147L528 138"/><path d="M512 136L483 221"/><path d="M471 174L488 227"/><path d="M490 177L488 227"/><path d="M463 101L484 147"/><path d="M497 57L474 90"/><path d="M486 109L474 146"/><path d="M543 156L488 227"/><path d="M479 67L483 230"/><path d="M490 118L545 142"/><path d="M398 170L474 96"/><path d="M482 108L474 118"/><path d="M534 144L488 227"/><path d="M391 158L478 150"/><path d="M475 107L483 221"/><path d="M520 124L545 142"/><path d="M401 163L464 168"/><path d="M430 115L479 67"/><path d="M479 67L514 131"/><path d="M475 107L545 142"/><path d="M475 71L520 142"/><path d="M430 115L451 97"/><path d="M396 161L479 67"/><path d="M484 57L474 118"/><path d="M484 57L483 221"/><path d="M466 104L471 103"/><path d="M478 125L508 140"/><path d="M497 168L488 227"/><path d="M474 118L503 132"/><path d="M425 149L474 118"/><path d="M484 147L503 132"/><path d="M465 108L534 144"/><path d="M497 57L487 117"/><path d="M425 149L543 156"/><path d="M484 147L474 146"/><path d="M474 118L545 142"/><path d="M475 107L474 146"/><path d="M471 114L483 230"/><path d="M390 162L401 163"/><path d="M459 110L469 118"/><path d="M507 52L486 109"/><path d="M458 164L480 229"/><path d="M534 144L541 144"/><path d="M504 166L534 144"/><path d="M399 144L398 170"/><path d="M393 152L480 176"/><path d="M512 136L503 145"/><path d="M390 162L451 97"/><path d="M424 99L483 221"/><path d="M396 148L410 150"/><path d="M425 149L503 145"/><path d="M393 152L401 163"/><path d="M471 103L469 118"/><path d="M479 67L483 221"/><path d="M486 90L538 132"/><path d="M497 57L483 221"/><path d="M514 131L512 136"/><path d="M483 102L520 124"/><path d="M430 115L538 151"/><path d="M463 101L501 122"/><path d="M393 152L410 150"/><path d="M545 142L483 230"/><path d="M430 115L463 101"/><path d="M471 174L531 126"/><path d="M390 162L484 147"/><path d="M483 102L490 118"/><path d="M407 114L475 107"/><path d="M482 77L469 118"/><path d="M425 149L479 76"/><path d="M484 57L497 57"/><path d="M514 131L510 126"/><path d="M534 144L538 151"/><path d="M465 108L475 107"/><path d="M483 102L526 131"/><path d="M432 116L514 163"/><path d="M484 57L469 118"/><path d="M414 161L488 230"/><path d="M418 115L486 159"/><path d="M437 114L488 227"/><path d="M523 114L520 124"/><path d="M463 101L475 107"/><path d="M541 144L483 221"/><path d="M474 124L464 168"/><path d="M520 142L545 142"/><path d="M473 96L520 124"/><path d="M393 152L396 161"/><path d="M425 149L520 124"/><path d="M482 108L538 132"/><path d="M486 109L501 122"/><path d="M424 99L495 113"/><path d="M466 104L514 163"/><path d="M466 104L482 108"/><path d="M484 57L486 109"/><path d="M425 149L497 168"/><path d="M493 45L473 162"/><path d="M472 50L523 114"/><path d="M399 144L414 161"/><path d="M459 110L474 124"/><path d="M483 230L488 230"/><path d="M396 161L414 161"/><path d="M474 96L545 142"/><path d="M490 118L478 150"/><path d="M396 148L478 150"/><path d="M425 149L483 221"/><path d="M414 161L488 227"/><path d="M414 161L478 228"/><path d="M393 152L406 153"/><path d="M407 114L430 115"/><path d="M451 97L450 110"/><path d="M398 170L479 67"/><path d="M471 174L497 168"/><path d="M425 149L469 118"/><path d="M471 224L488 227"/><path d="M478 228L483 230"/><path d="M471 114L480 176"/><path d="M512 136L545 142"/><path d="M430 115L469 108"/><path d="M471 114L474 146"/><path d="M393 152L545 142"/><path d="M545 142L483 221"/><path d="M474 90L474 96"/><path d="M425 149L504 166"/>
</g>
<g fill="#222"><circle cx="472.2" cy="49.5" r="0.55"/><circle cx="493.4" cy="44.9" r="0.55"/><circle cx="484.1" cy="56.8" r="0.55"/><circle cx="497.4" cy="57.4" r="0.55"/><circle cx="507.3" cy="52.1" r="0.55"/><circle cx="490.7" cy="63.4" r="0.55"/><circle cx="478.8" cy="67.4" r="0.55"/><circle cx="474.9" cy="71.3" r="0.55"/><circle cx="472.3" cy="75.9" r="0.55"/><circle cx="473.6" cy="85.0" r="0.55"/><circle cx="474.1" cy="90.0" r="0.55"/><circle cx="472.7" cy="96.4" r="0.55"/><circle cx="478.6" cy="76.4" r="0.55"/><circle cx="482.3" cy="77.3" r="0.55"/><circle cx="490.0" cy="71.4" r="0.55"/><circle cx="464.3" cy="94.6" r="0.55"/><circle cx="462.6" cy="101.2" r="0.55"/><circle cx="465.9" cy="103.6" r="0.55"/><circle cx="470.8" cy="102.8" r="0.55"/><circle cx="474.1" cy="96.3" r="0.55"/><circle cx="483.1" cy="102.0" r="0.55"/><circle cx="485.5" cy="89.7" r="0.55"/><circle cx="459.4" cy="110.2" r="0.55"/><circle cx="465.1" cy="108.5" r="0.55"/><circle cx="469.2" cy="107.7" r="0.55"/><circle cx="474.9" cy="106.9" r="0.55"/><circle cx="482.3" cy="107.7" r="0.55"/><circle cx="485.5" cy="109.4" r="0.55"/><circle cx="470.8" cy="114.3" r="0.55"/><circle cx="474.1" cy="118.4" r="0.55"/><circle cx="479.0" cy="118.4" r="0.55"/><circle cx="469.2" cy="118.4" r="0.55"/><circle cx="464.3" cy="117.5" r="0.55"/><circle cx="474.1" cy="124.1" r="0.55"/><circle cx="478.2" cy="124.9" r="0.55"/><circle cx="487.2" cy="116.7" r="0.55"/><circle cx="495.4" cy="112.6" r="0.55"/><circle cx="501.1" cy="121.6" r="0.55"/><circle cx="490.5" cy="118.4" r="0.55"/><circle cx="462.7" cy="151.8" r="0.55"/><circle cx="458.2" cy="164.5" r="0.55"/><circle cx="463.6" cy="168.2" r="0.55"/><circle cx="469.1" cy="164.5" r="0.55"/><circle cx="470.9" cy="174.5" r="0.55"/><circle cx="468.2" cy="184.5" r="0.55"/><circle cx="472.7" cy="161.8" r="0.55"/><circle cx="478.2" cy="150.0" r="0.55"/><circle cx="484.5" cy="147.3" r="0.55"/><circle cx="488.2" cy="151.8" r="0.55"/><circle cx="486.4" cy="159.1" r="0.55"/><circle cx="480.0" cy="176.4" r="0.55"/><circle cx="490.0" cy="177.3" r="0.55"/><circle cx="497.3" cy="168.2" r="0.55"/><circle cx="506.4" cy="157.3" r="0.55"/><circle cx="513.6" cy="162.7" r="0.55"/><circle cx="503.6" cy="166.4" r="0.55"/><circle cx="473.6" cy="146.4" r="0.55"/><circle cx="523.0" cy="113.8" r="0.55"/><circle cx="520.0" cy="124.3" r="0.55"/><circle cx="531.2" cy="125.8" r="0.55"/><circle cx="538.0" cy="131.8" r="0.55"/><circle cx="526.0" cy="131.0" r="0.55"/><circle cx="514.0" cy="131.0" r="0.55"/><circle cx="509.5" cy="126.5" r="0.55"/><circle cx="502.7" cy="131.8" r="0.55"/><circle cx="512.5" cy="135.5" r="0.55"/><circle cx="508.0" cy="140.0" r="0.55"/><circle cx="502.7" cy="145.2" r="0.55"/><circle cx="527.5" cy="137.8" r="0.55"/><circle cx="533.5" cy="144.5" r="0.55"/><circle cx="541.0" cy="144.5" r="0.55"/><circle cx="543.2" cy="156.5" r="0.55"/><circle cx="538.0" cy="151.2" r="0.55"/><circle cx="520.0" cy="142.2" r="0.55"/><circle cx="545.3" cy="141.5" r="0.55"/><circle cx="393.3" cy="151.8" r="0.55"/><circle cx="399.1" cy="143.8" r="0.55"/><circle cx="396.2" cy="147.5" r="0.55"/><circle cx="383.8" cy="157.6" r="0.55"/><circle cx="391.1" cy="157.6" r="0.55"/><circle cx="397.6" cy="156.9" r="0.55"/><circle cx="405.6" cy="153.3" r="0.55"/><circle cx="410.0" cy="150.4" r="0.55"/><circle cx="415.1" cy="153.3" r="0.55"/><circle cx="423.1" cy="144.5" r="0.55"/><circle cx="390.4" cy="162.0" r="0.55"/><circle cx="395.5" cy="161.3" r="0.55"/><circle cx="401.3" cy="162.7" r="0.55"/><circle cx="405.6" cy="159.1" r="0.55"/><circle cx="399.1" cy="164.2" r="0.55"/><circle cx="404.9" cy="168.5" r="0.55"/><circle cx="397.6" cy="170.0" r="0.55"/><circle cx="413.6" cy="161.3" r="0.55"/><circle cx="425.0" cy="149.0" r="0.55"/><circle cx="423.6" cy="99.0" r="0.55"/><circle cx="406.9" cy="113.5" r="0.55"/><circle cx="418.5" cy="115.0" r="0.55"/><circle cx="430.2" cy="115.4" r="0.55"/><circle cx="432.4" cy="116.0" r="0.55"/><circle cx="436.7" cy="113.5" r="0.55"/><circle cx="451.3" cy="96.8" r="0.55"/><circle cx="448.4" cy="107.7" r="0.55"/><circle cx="449.8" cy="109.6" r="0.55"/><circle cx="482.7" cy="220.7" r="0.55"/><circle cx="471.3" cy="224.0" r="0.55"/><circle cx="477.8" cy="222.9" r="0.55"/><circle cx="477.8" cy="228.4" r="0.55"/><circle cx="480.5" cy="228.9" r="0.55"/><circle cx="482.7" cy="230.5" r="0.55"/><circle cx="487.6" cy="227.3" r="0.55"/><circle cx="488.2" cy="230.0" r="0.55"/><circle cx="484.0" cy="225.0" r="0.55"/></g>
</g>
<text x="418.8" y="561.1" class="lab">(<tspan font-weight="bold">d</tspan>)</text>
</svg></body></html>
